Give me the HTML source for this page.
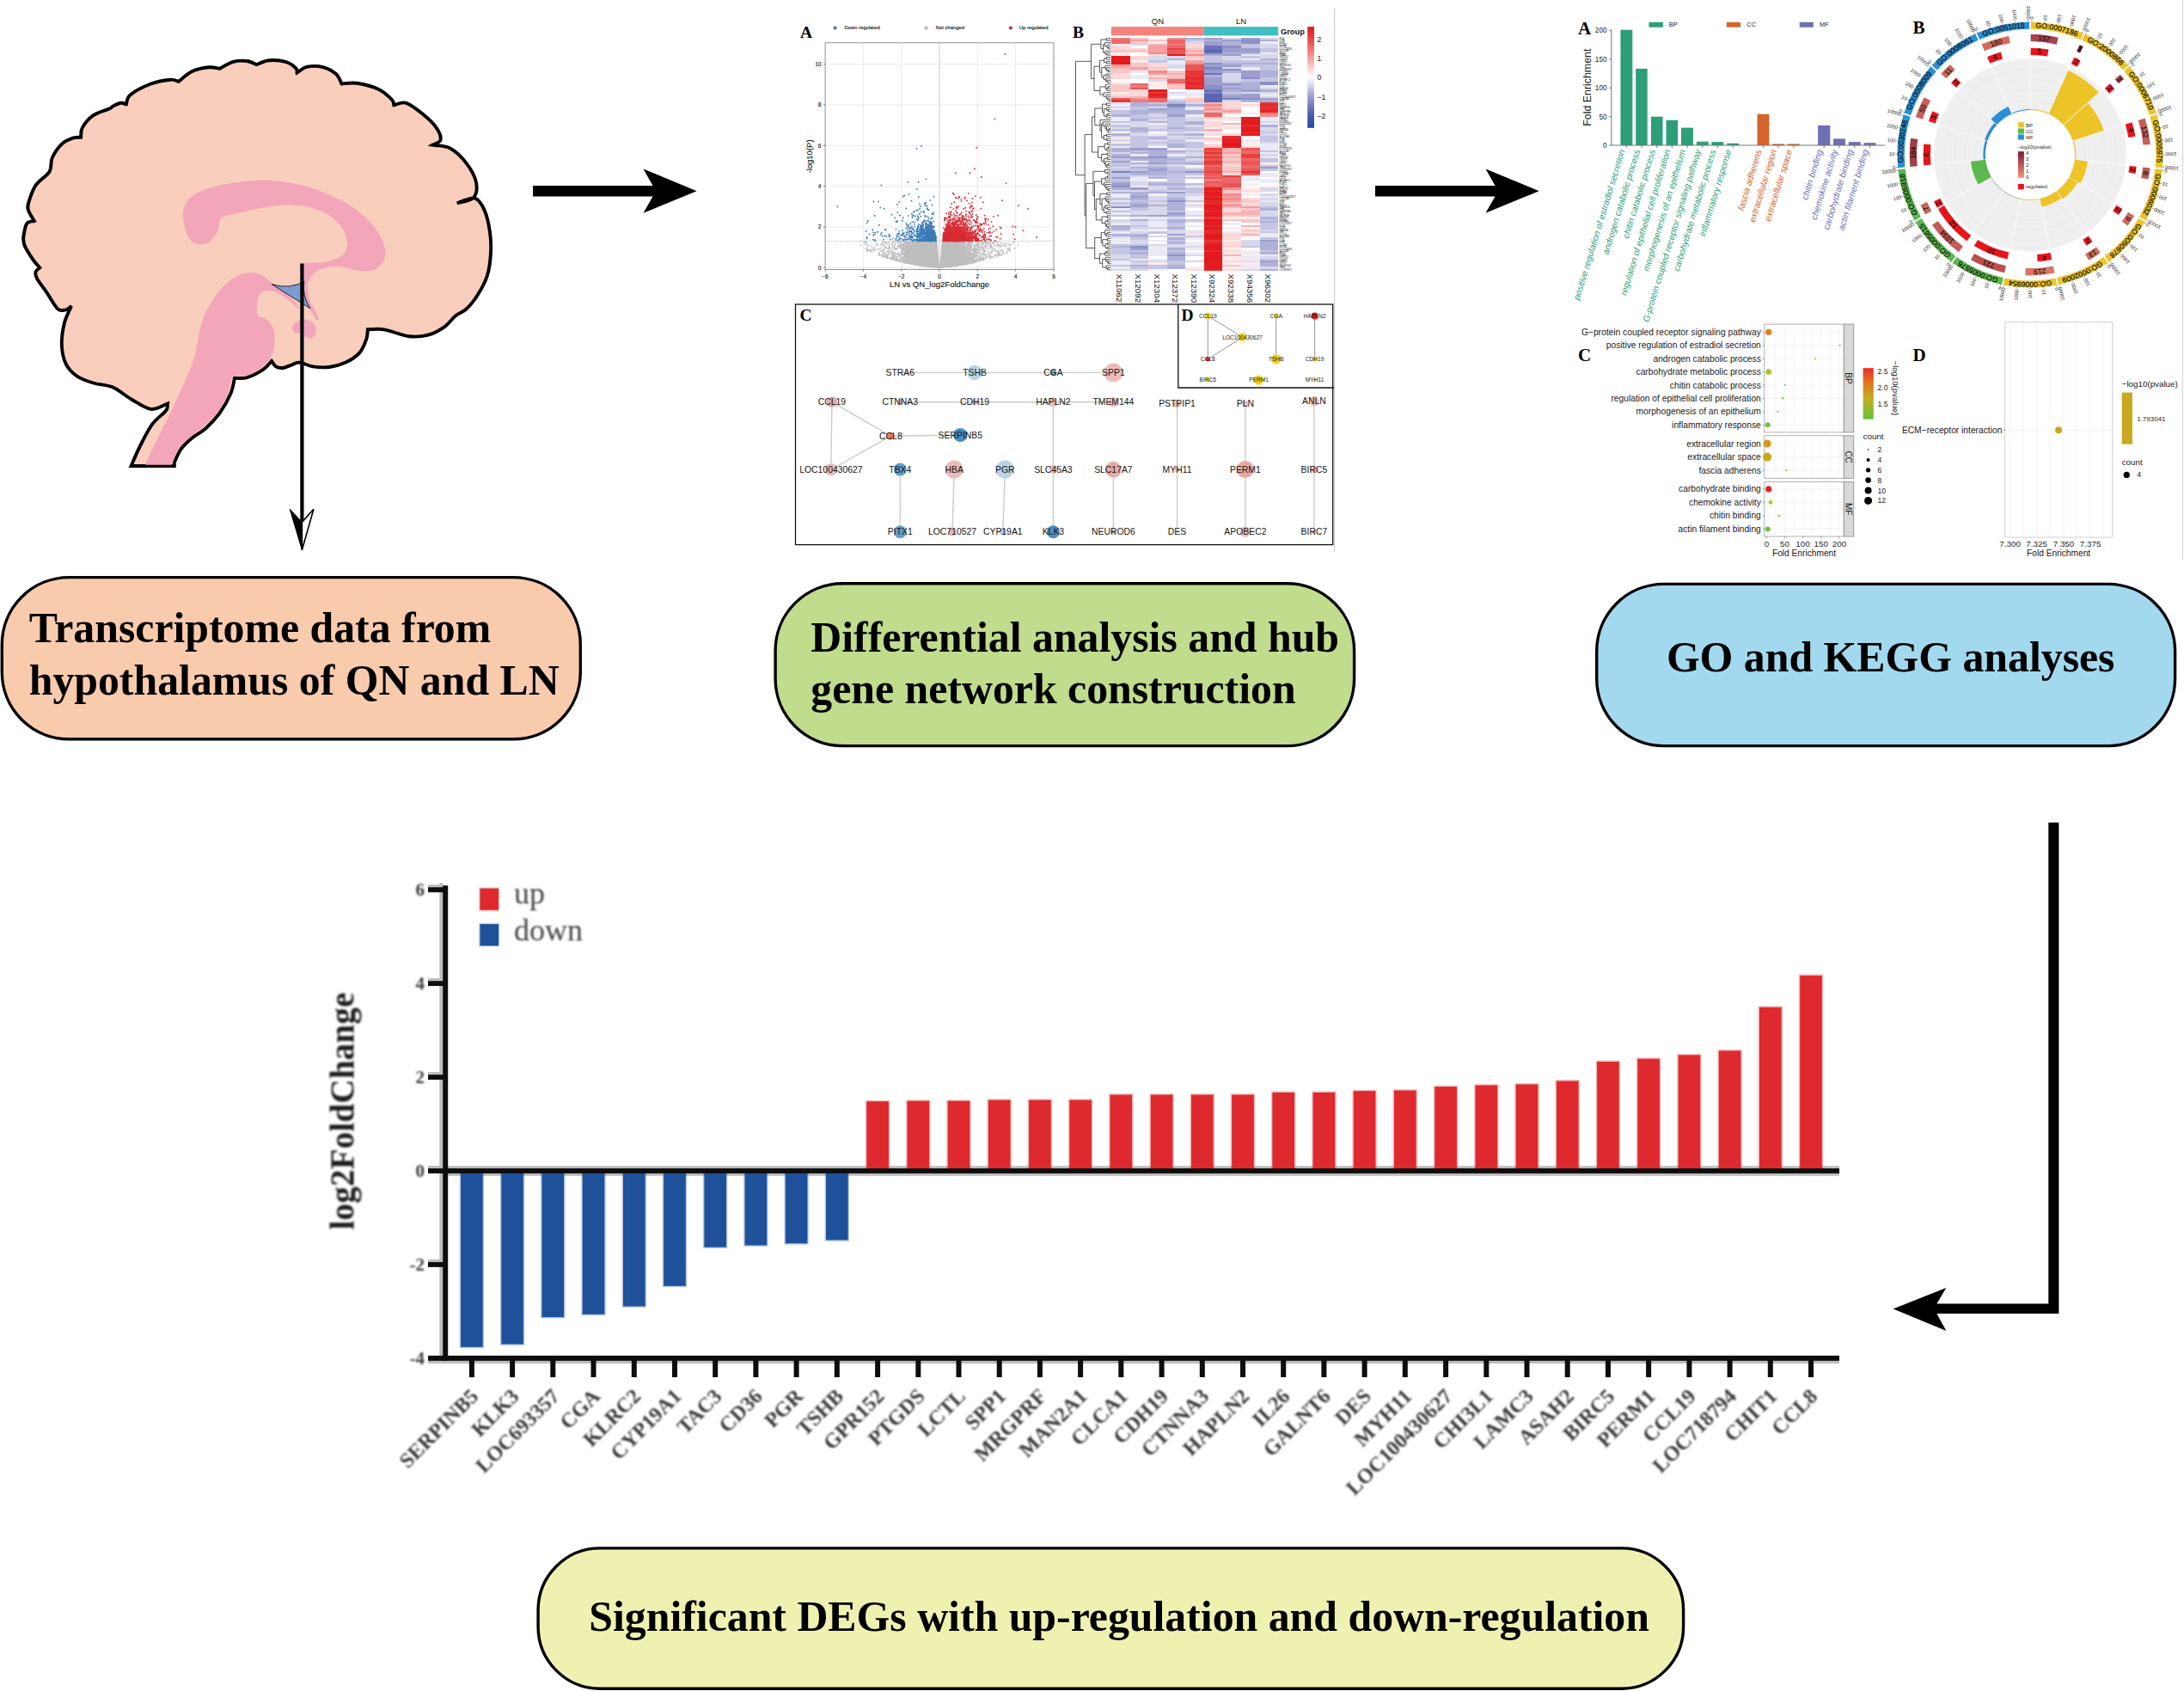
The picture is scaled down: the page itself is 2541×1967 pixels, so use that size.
<!DOCTYPE html>
<html><head><meta charset="utf-8"><title>Graphical abstract</title>
<style>html,body{margin:0;padding:0;background:#fff}body{width:2541px;height:1967px;overflow:hidden}svg{display:block}</style>
</head><body>
<svg width="2541" height="1967" viewBox="0 0 2541 1967">
<rect width="2541" height="1967" fill="#fff"/>
<rect x="2.3" y="671.6" width="673.0" height="188.2" rx="78" ry="78" fill="#f9cbad" stroke="#000" stroke-width="3.4"/>
<rect x="902.1" y="678.8" width="673.5" height="188.8" rx="78" ry="78" fill="#c0dc8c" stroke="#000" stroke-width="3.4"/>
<rect x="1857.7" y="679.4" width="672.9" height="188.2" rx="78" ry="78" fill="#a2d9ef" stroke="#000" stroke-width="3.4"/>
<rect x="626.1" y="1800.9" width="1332.5" height="163.3" rx="72" ry="72" fill="#eff1b1" stroke="#000" stroke-width="3.4"/>
<g font-family="'Liberation Serif',serif" font-weight="bold" font-size="49.8" fill="#000">
<text x="33.7" y="747.1">Transcriptome data from</text>
<text x="33.7" y="807.7">hypothalamus of QN and LN</text>
<text x="943.3" y="757.9">Differential analysis and hub</text>
<text x="943.3" y="817.6">gene network construction</text>
<text x="1938.9" y="781.3">GO and KEGG analyses</text>
<text x="685.3" y="1897.3">Significant DEGs with up-regulation and down-regulation</text>
</g>
<path d="M620,216H759.5L748.5,196.4L810.6,222.2L748.5,247.8L759.5,228.4H620Z" fill="#000"/>
<path d="M1600,216H1739.5L1728.5,196.4L1790.6,222.2L1728.5,247.8L1739.5,228.4H1600Z" fill="#000"/>
<path d="M2383.3,956.8H2395.4V1528H2253.4L2264.3,1548L2202.7,1522.5L2264.3,1498L2253.4,1516.5H2383.3Z" fill="#000"/>
<path d="M27.1,276.3C27.8,273.6 28.8,263.5 31.0,260.3C33.1,257.1 38.4,257.7 39.9,257.1C38.7,255.0 34.0,248.1 32.9,244.4C31.8,240.6 32.1,239.6 33.5,234.8C35.0,230.0 37.5,221.5 41.5,215.6C45.5,209.8 54.3,205.0 57.5,199.7C60.7,194.3 58.3,189.0 60.7,183.7C63.1,178.4 67.9,171.6 71.8,167.7C75.8,163.9 80.9,162.0 84.6,160.7C88.3,159.4 92.6,159.9 94.2,159.7C94.5,157.9 93.4,152.8 95.8,148.6C98.2,144.3 103.2,137.9 108.6,134.2C113.9,130.5 124.0,128.0 127.7,126.2C131.5,124.5 130.4,124.1 130.9,123.7C132.5,123.0 137.8,120.2 140.5,119.8C143.2,119.5 145.8,121.2 146.9,121.4C147.7,119.6 146.9,114.2 151.7,110.2C156.5,106.3 167.9,100.4 175.6,97.5C183.3,94.5 192.7,93.1 198.0,92.7C203.3,92.3 206.0,94.5 207.6,94.9C210.2,93.0 217.7,85.9 223.5,83.1C229.4,80.3 237.4,78.9 242.7,78.3C248.0,77.8 253.3,79.6 255.5,79.9C258.1,78.6 266.1,73.4 271.4,71.9C276.7,70.4 282.9,70.4 287.4,71.0C291.9,71.5 296.7,74.4 298.6,75.1C301.0,74.3 307.3,70.9 312.9,70.3C318.5,69.8 326.9,70.4 332.1,71.9C337.3,73.4 342.0,77.1 344.2,79.3C346.5,81.4 345.3,83.8 345.5,84.7C347.5,83.5 352.4,78.7 357.6,77.7C362.8,76.6 371.2,76.9 376.8,78.3C382.4,79.8 387.7,83.1 391.2,86.3C394.6,89.5 396.5,95.6 397.5,97.5C400.5,97.4 407.9,95.8 415.1,96.8C422.3,97.9 433.8,100.7 440.7,103.9C447.5,107.1 453.1,112.9 456.0,116.0C458.9,119.1 457.8,121.3 458.2,122.4C460.6,122.0 467.0,118.1 472.6,119.8C478.2,121.5 485.9,127.8 491.7,132.6C497.6,137.4 504.3,143.5 507.7,148.6C511.2,153.6 513.3,159.6 512.5,162.9C511.7,166.3 504.5,167.7 502.9,168.7C506.4,169.3 517.0,169.0 523.7,172.5C530.3,176.1 537.8,183.4 542.8,190.1C547.9,196.7 552.7,205.8 554.0,212.4C555.3,219.1 554.5,226.0 550.8,230.0C547.1,234.0 534.9,235.3 531.7,236.4C535.1,235.4 547.1,229.3 552.4,230.6C557.7,232.0 560.7,237.8 563.6,244.4C566.5,250.9 568.8,261.4 570.0,269.9C571.2,278.4 571.5,286.9 570.9,295.5C570.4,304.0 569.3,313.0 566.8,321.0C564.2,329.0 559.6,337.0 555.6,343.3C551.6,349.7 547.1,355.3 542.8,359.3C538.6,363.3 534.3,363.8 530.1,367.3C525.8,370.8 522.6,376.3 517.3,380.1C512.0,383.8 505.1,387.8 498.1,389.7C491.2,391.5 484.3,392.3 475.8,391.2C467.3,390.2 455.0,384.6 447.0,383.3C439.1,381.9 431.1,383.3 427.9,383.3C427.6,385.1 427.9,389.9 426.3,394.4C424.7,399.0 422.3,405.9 418.3,410.4C414.3,414.9 408.2,418.8 402.3,421.6C396.5,424.3 389.6,426.2 383.2,427.0C376.8,427.8 369.9,427.3 364.0,426.4C358.2,425.5 352.3,421.8 348.1,421.6C343.8,421.3 341.7,423.7 338.5,424.8C335.3,425.8 331.8,427.7 328.9,428.0C326.0,428.2 323.0,427.7 320.9,426.4C318.8,425.0 316.9,421.0 316.1,420.0C314.5,421.6 311.3,426.4 306.5,429.6C301.8,432.8 293.0,437.4 287.4,439.1C281.8,440.8 275.4,439.7 273.0,439.8C272.2,442.9 271.2,451.5 268.2,458.3C265.3,465.1 260.2,474.0 255.5,480.7C250.7,487.3 244.8,493.4 239.5,498.2C234.2,503.0 228.3,505.4 223.5,509.4C218.7,513.4 214.2,517.4 210.7,522.2C207.3,527.0 204.1,535.5 202.8,538.1L202.8,542.0L152.6,542.0C154.3,538.1 158.8,527.1 162.9,519.0C166.9,510.9 172.2,500.3 177.2,493.4C182.3,486.5 190.3,481.5 193.2,477.5C196.1,473.5 194.5,470.8 194.8,469.5C191.6,470.5 182.5,476.7 175.6,475.9C168.7,475.1 160.7,468.9 153.3,464.7C145.8,460.4 138.4,453.5 130.9,450.3C123.5,447.1 115.5,447.7 108.6,445.5C101.6,443.4 94.7,441.3 89.4,437.5C84.1,433.8 79.6,429.3 76.6,423.2C73.7,417.1 72.1,408.8 71.8,400.8C71.6,392.8 73.2,382.7 75.0,375.3C76.9,367.8 81.7,359.3 83.0,356.1C82.0,356.8 79.3,359.7 76.6,360.3C74.0,360.8 70.8,362.7 67.1,359.3C63.3,356.0 58.3,346.0 54.3,340.2C50.3,334.3 45.2,328.2 43.1,324.2C41.0,320.2 41.0,318.3 41.5,316.2C42.0,314.1 45.5,312.2 46.3,311.4C45.0,309.8 41.2,306.1 38.3,301.8C35.4,297.6 30.6,290.1 28.7,285.9C26.9,281.6 27.4,277.9 27.1,276.3Z" fill="#facebc" stroke="#000" stroke-width="3.9" stroke-linejoin="miter" stroke-miterlimit="3"/>
<path d="M213.3,244.4C214.6,238.0 217.6,232.9 223.5,228.4C229.5,223.9 238.4,220.1 249.1,217.2C259.7,214.3 275.7,212.0 287.4,210.8C299.1,209.7 308.7,209.4 319.3,210.2C330.0,211.0 340.6,212.9 351.2,215.6C361.9,218.4 372.5,222.0 383.2,226.8C393.8,231.6 406.1,237.7 415.1,244.4C424.2,251.0 432.0,259.3 437.5,266.7C442.9,274.2 446.7,282.7 448.0,289.1C449.3,295.5 447.7,300.9 445.4,305.0C443.2,309.2 439.3,312.4 434.3,314.0C429.2,315.6 422.0,315.3 415.1,314.6C408.2,313.9 399.7,310.1 392.8,309.8C385.8,309.6 378.7,311.2 373.6,313.0C368.5,314.9 365.1,317.5 362.4,321.0C359.8,324.5 357.9,329.0 357.6,333.8C357.4,338.6 358.7,343.9 360.8,349.7C363.0,355.6 369.3,365.4 370.4,368.9C371.5,372.4 369.9,374.0 367.2,370.5C364.6,367.0 357.2,355.3 354.4,348.1C351.7,341.0 351.1,334.1 350.6,327.4C350.1,320.6 346.9,311.3 351.2,307.6C355.6,303.9 369.3,306.5 376.8,305.0C384.2,303.5 391.4,301.8 396.0,298.6C400.5,295.5 403.4,291.2 403.9,285.9C404.5,280.6 402.6,272.6 399.1,266.7C395.7,260.9 389.6,255.0 383.2,250.7C376.8,246.5 369.3,243.2 360.8,241.2C352.3,239.1 342.2,238.3 332.1,238.6C322.0,238.9 310.3,241.0 300.2,242.8C290.0,244.5 278.6,247.3 271.4,249.2C264.2,251.0 260.0,251.0 257.0,253.9C254.1,256.9 255.7,262.5 253.9,266.7C252.0,271.0 249.1,276.6 245.9,279.5C242.7,282.4 238.4,284.0 234.7,284.3C231.0,284.5 226.7,284.0 223.5,281.1C220.3,278.2 217.2,272.8 215.5,266.7C213.8,260.6 212.0,250.7 213.3,244.4Z" fill="#f3a5ba"/>
<path d="M169.2,540.7C170.8,537.1 174.0,529.0 178.8,519.0C183.6,509.0 191.6,494.0 198.0,480.7C204.4,467.4 212.3,450.3 217.1,439.1C221.9,428.0 223.8,424.2 226.7,413.6C229.6,403.0 231.0,386.5 234.7,375.3C238.4,364.1 243.5,354.8 249.1,346.5C254.7,338.3 261.8,330.7 268.2,325.8C274.6,320.9 281.5,318.2 287.4,317.2C293.2,316.1 298.6,317.4 303.3,319.4C308.1,321.4 311.3,325.5 316.1,329.0C320.9,332.4 327.6,336.4 332.1,340.2C336.6,343.9 340.6,348.1 343.3,351.3C345.9,354.5 348.9,359.3 348.1,359.3C347.3,359.3 342.7,354.5 338.5,351.3C334.2,348.1 327.6,342.3 322.5,340.2C317.5,338.0 311.8,337.8 308.1,338.6C304.5,339.4 302.2,340.4 300.8,344.9C299.4,349.5 297.8,361.2 299.5,365.7C301.3,370.2 308.1,368.9 311.3,372.1C314.5,375.3 317.3,380.1 318.7,384.9C320.0,389.7 320.0,395.5 319.3,400.8C318.6,406.1 317.2,412.3 314.5,416.8C311.9,421.3 307.9,424.6 303.3,428.0C298.8,431.3 292.8,435.2 287.4,436.9C282.0,438.7 274.5,434.9 270.8,438.5C267.1,442.1 268.1,451.3 265.0,458.3C261.9,465.3 257.0,474.3 252.3,480.7C247.5,487.0 241.6,491.8 236.3,496.6C231.0,501.4 225.1,505.1 220.3,509.4C215.5,513.7 211.0,517.0 207.6,522.2C204.1,527.4 200.9,537.6 199.6,540.7Z" fill="#f3a5ba"/>
<path d="M340.1,380.1C340.9,377.9 343.5,375.0 346.5,373.7C349.4,372.4 354.3,371.3 357.6,372.1C361.0,372.9 365.0,375.8 366.6,378.5C368.2,381.1 368.2,385.5 367.2,388.1C366.3,390.6 364.0,393.8 360.8,393.8C357.6,393.8 351.2,389.3 348.1,388.1C344.9,386.8 343.0,387.8 341.7,386.5C340.3,385.1 339.3,382.2 340.1,380.1Z" fill="#f3a5ba"/>
<path d="M316.1,330.6Q336.9,337.0 353.8,327.4Q351.2,343.3 360.8,358.7Q338.5,344.9 316.1,330.6Z" fill="#7b9bd3" stroke="#000" stroke-width="0.8"/>
<rect x="349.3" y="306.5" width="4.2" height="303.5" fill="#000"/>
<path d="M351.4,607.4L364.9,592.2L351.4,639.7Z" fill="#fff" stroke="#000" stroke-width="1.6" stroke-linejoin="miter"/>
<path d="M351.4,607.4L337.2,592.2L351.4,639.7Z" fill="#000" stroke="#000" stroke-width="1"/>
<g fill="#bcbcbc">
<rect x="511.3" y="1027" width="4" height="556"/>
<rect x="498" y="1582.9" width="1642" height="3.2"/>
<rect x="521" y="1356.2" width="1619" height="11.6"/>
<rect x="498" y="1029.0" width="17.3" height="3.4"/>
<rect x="498" y="1138.0" width="17.3" height="3.4"/>
<rect x="498" y="1247.0" width="17.3" height="3.4"/>
<rect x="498" y="1356.0" width="17.3" height="3.4"/>
<rect x="498" y="1465.0" width="17.3" height="3.4"/>
</g>
<rect x="536.1" y="1362.0" width="25.6" height="204.8" fill="#1f519b" stroke="#1f519b" stroke-opacity=".33" stroke-width="2.8"/>
<rect x="583.3" y="1362.0" width="25.6" height="201.5" fill="#1f519b" stroke="#1f519b" stroke-opacity=".33" stroke-width="2.8"/>
<rect x="630.5" y="1362.0" width="25.6" height="170.1" fill="#1f519b" stroke="#1f519b" stroke-opacity=".33" stroke-width="2.8"/>
<rect x="677.7" y="1362.0" width="25.6" height="166.8" fill="#1f519b" stroke="#1f519b" stroke-opacity=".33" stroke-width="2.8"/>
<rect x="725.0" y="1362.0" width="25.6" height="157.5" fill="#1f519b" stroke="#1f519b" stroke-opacity=".33" stroke-width="2.8"/>
<rect x="772.2" y="1362.0" width="25.6" height="133.8" fill="#1f519b" stroke="#1f519b" stroke-opacity=".33" stroke-width="2.8"/>
<rect x="819.4" y="1362.0" width="25.6" height="88.7" fill="#1f519b" stroke="#1f519b" stroke-opacity=".33" stroke-width="2.8"/>
<rect x="866.6" y="1362.0" width="25.6" height="86.5" fill="#1f519b" stroke="#1f519b" stroke-opacity=".33" stroke-width="2.8"/>
<rect x="913.8" y="1362.0" width="25.6" height="84.3" fill="#1f519b" stroke="#1f519b" stroke-opacity=".33" stroke-width="2.8"/>
<rect x="961.0" y="1362.0" width="25.6" height="80.4" fill="#1f519b" stroke="#1f519b" stroke-opacity=".33" stroke-width="2.8"/>
<rect x="1008.3" y="1281.2" width="25.6" height="80.8" fill="#de2a2e" stroke="#de2a2e" stroke-opacity=".33" stroke-width="2.8"/>
<rect x="1055.5" y="1280.7" width="25.6" height="81.3" fill="#de2a2e" stroke="#de2a2e" stroke-opacity=".33" stroke-width="2.8"/>
<rect x="1102.7" y="1280.7" width="25.6" height="81.3" fill="#de2a2e" stroke="#de2a2e" stroke-opacity=".33" stroke-width="2.8"/>
<rect x="1149.9" y="1279.6" width="25.6" height="82.4" fill="#de2a2e" stroke="#de2a2e" stroke-opacity=".33" stroke-width="2.8"/>
<rect x="1197.1" y="1279.6" width="25.6" height="82.4" fill="#de2a2e" stroke="#de2a2e" stroke-opacity=".33" stroke-width="2.8"/>
<rect x="1244.3" y="1279.6" width="25.6" height="82.4" fill="#de2a2e" stroke="#de2a2e" stroke-opacity=".33" stroke-width="2.8"/>
<rect x="1291.5" y="1273.5" width="25.6" height="88.5" fill="#de2a2e" stroke="#de2a2e" stroke-opacity=".33" stroke-width="2.8"/>
<rect x="1338.8" y="1273.5" width="25.6" height="88.5" fill="#de2a2e" stroke="#de2a2e" stroke-opacity=".33" stroke-width="2.8"/>
<rect x="1386.0" y="1273.5" width="25.6" height="88.5" fill="#de2a2e" stroke="#de2a2e" stroke-opacity=".33" stroke-width="2.8"/>
<rect x="1433.2" y="1273.5" width="25.6" height="88.5" fill="#de2a2e" stroke="#de2a2e" stroke-opacity=".33" stroke-width="2.8"/>
<rect x="1480.4" y="1270.8" width="25.6" height="91.2" fill="#de2a2e" stroke="#de2a2e" stroke-opacity=".33" stroke-width="2.8"/>
<rect x="1527.6" y="1270.8" width="25.6" height="91.2" fill="#de2a2e" stroke="#de2a2e" stroke-opacity=".33" stroke-width="2.8"/>
<rect x="1574.8" y="1269.1" width="25.6" height="92.9" fill="#de2a2e" stroke="#de2a2e" stroke-opacity=".33" stroke-width="2.8"/>
<rect x="1622.0" y="1268.5" width="25.6" height="93.5" fill="#de2a2e" stroke="#de2a2e" stroke-opacity=".33" stroke-width="2.8"/>
<rect x="1669.3" y="1264.1" width="25.6" height="97.9" fill="#de2a2e" stroke="#de2a2e" stroke-opacity=".33" stroke-width="2.8"/>
<rect x="1716.5" y="1262.5" width="25.6" height="99.5" fill="#de2a2e" stroke="#de2a2e" stroke-opacity=".33" stroke-width="2.8"/>
<rect x="1763.7" y="1261.4" width="25.6" height="100.6" fill="#de2a2e" stroke="#de2a2e" stroke-opacity=".33" stroke-width="2.8"/>
<rect x="1810.9" y="1257.5" width="25.6" height="104.5" fill="#de2a2e" stroke="#de2a2e" stroke-opacity=".33" stroke-width="2.8"/>
<rect x="1858.1" y="1235.0" width="25.6" height="127.0" fill="#de2a2e" stroke="#de2a2e" stroke-opacity=".33" stroke-width="2.8"/>
<rect x="1905.3" y="1231.7" width="25.6" height="130.3" fill="#de2a2e" stroke="#de2a2e" stroke-opacity=".33" stroke-width="2.8"/>
<rect x="1952.6" y="1227.3" width="25.6" height="134.7" fill="#de2a2e" stroke="#de2a2e" stroke-opacity=".33" stroke-width="2.8"/>
<rect x="1999.8" y="1222.3" width="25.6" height="139.7" fill="#de2a2e" stroke="#de2a2e" stroke-opacity=".33" stroke-width="2.8"/>
<rect x="2047.0" y="1171.7" width="25.6" height="190.3" fill="#de2a2e" stroke="#de2a2e" stroke-opacity=".33" stroke-width="2.8"/>
<rect x="2094.2" y="1134.8" width="25.6" height="227.2" fill="#de2a2e" stroke="#de2a2e" stroke-opacity=".33" stroke-width="2.8"/>
<g fill="#0d0d0d">
<rect x="515.2" y="1030" width="6" height="553"/>
<rect x="498" y="1576.9" width="1642" height="6"/>
<rect x="498" y="1359.1" width="1642" height="5.8"/>
<rect x="498" y="1032.1" width="20" height="5.8"/>
<rect x="498" y="1141.1" width="20" height="5.8"/>
<rect x="498" y="1250.1" width="20" height="5.8"/>
<rect x="498" y="1468.1" width="20" height="5.8"/>
<rect x="545.9" y="1582" width="6" height="20"/>
<rect x="593.1" y="1582" width="6" height="20"/>
<rect x="640.3" y="1582" width="6" height="20"/>
<rect x="687.5" y="1582" width="6" height="20"/>
<rect x="734.8" y="1582" width="6" height="20"/>
<rect x="782.0" y="1582" width="6" height="20"/>
<rect x="829.2" y="1582" width="6" height="20"/>
<rect x="876.4" y="1582" width="6" height="20"/>
<rect x="923.6" y="1582" width="6" height="20"/>
<rect x="970.8" y="1582" width="6" height="20"/>
<rect x="1018.1" y="1582" width="6" height="20"/>
<rect x="1065.3" y="1582" width="6" height="20"/>
<rect x="1112.5" y="1582" width="6" height="20"/>
<rect x="1159.7" y="1582" width="6" height="20"/>
<rect x="1206.9" y="1582" width="6" height="20"/>
<rect x="1254.1" y="1582" width="6" height="20"/>
<rect x="1301.3" y="1582" width="6" height="20"/>
<rect x="1348.6" y="1582" width="6" height="20"/>
<rect x="1395.8" y="1582" width="6" height="20"/>
<rect x="1443.0" y="1582" width="6" height="20"/>
<rect x="1490.2" y="1582" width="6" height="20"/>
<rect x="1537.4" y="1582" width="6" height="20"/>
<rect x="1584.6" y="1582" width="6" height="20"/>
<rect x="1631.8" y="1582" width="6" height="20"/>
<rect x="1679.1" y="1582" width="6" height="20"/>
<rect x="1726.3" y="1582" width="6" height="20"/>
<rect x="1773.5" y="1582" width="6" height="20"/>
<rect x="1820.7" y="1582" width="6" height="20"/>
<rect x="1867.9" y="1582" width="6" height="20"/>
<rect x="1915.1" y="1582" width="6" height="20"/>
<rect x="1962.4" y="1582" width="6" height="20"/>
<rect x="2009.6" y="1582" width="6" height="20"/>
<rect x="2056.8" y="1582" width="6" height="20"/>
<rect x="2104.0" y="1582" width="6" height="20"/>
</g>
<defs><filter id="bl" filterUnits="userSpaceOnUse" x="380" y="1000" width="1800" height="780"><feGaussianBlur stdDeviation="1"/></filter></defs>
<g font-family="'Liberation Serif',serif" font-weight="bold" fill="#3a3a3a" filter="url(#bl)">
<text x="494" y="1041.5" font-size="21" text-anchor="end">6</text>
<text x="494" y="1150.5" font-size="21" text-anchor="end">4</text>
<text x="494" y="1259.5" font-size="21" text-anchor="end">2</text>
<text x="494" y="1368.5" font-size="21" text-anchor="end">0</text>
<text x="494" y="1477.5" font-size="21" text-anchor="end">-2</text>
<text x="494" y="1586.5" font-size="21" text-anchor="end">-4</text>
<text transform="translate(411.5,1292.5) rotate(-90)" font-size="39" fill="#1c1c1c" text-anchor="middle" textLength="276" lengthAdjust="spacing">log2FoldChange</text>
<text transform="translate(557.9,1625.5) rotate(-45)" font-size="24.4" text-anchor="end">SERPINB5</text>
<text transform="translate(605.1,1625.5) rotate(-45)" font-size="24.4" text-anchor="end">KLK3</text>
<text transform="translate(652.3,1625.5) rotate(-45)" font-size="24.4" text-anchor="end">LOC693357</text>
<text transform="translate(699.5,1625.5) rotate(-45)" font-size="24.4" text-anchor="end">CGA</text>
<text transform="translate(746.8,1625.5) rotate(-45)" font-size="24.4" text-anchor="end">KLRC2</text>
<text transform="translate(794.0,1625.5) rotate(-45)" font-size="24.4" text-anchor="end">CYP19A1</text>
<text transform="translate(841.2,1625.5) rotate(-45)" font-size="24.4" text-anchor="end">TAC3</text>
<text transform="translate(888.4,1625.5) rotate(-45)" font-size="24.4" text-anchor="end">CD36</text>
<text transform="translate(935.6,1625.5) rotate(-45)" font-size="24.4" text-anchor="end">PGR</text>
<text transform="translate(982.8,1625.5) rotate(-45)" font-size="24.4" text-anchor="end">TSHB</text>
<text transform="translate(1030.1,1625.5) rotate(-45)" font-size="24.4" text-anchor="end">GPR152</text>
<text transform="translate(1077.3,1625.5) rotate(-45)" font-size="24.4" text-anchor="end">PTGDS</text>
<text transform="translate(1124.5,1625.5) rotate(-45)" font-size="24.4" text-anchor="end">LCTL</text>
<text transform="translate(1171.7,1625.5) rotate(-45)" font-size="24.4" text-anchor="end">SPP1</text>
<text transform="translate(1218.9,1625.5) rotate(-45)" font-size="24.4" text-anchor="end">MRGPRF</text>
<text transform="translate(1266.1,1625.5) rotate(-45)" font-size="24.4" text-anchor="end">MAN2A1</text>
<text transform="translate(1313.3,1625.5) rotate(-45)" font-size="24.4" text-anchor="end">CLCA1</text>
<text transform="translate(1360.6,1625.5) rotate(-45)" font-size="24.4" text-anchor="end">CDH19</text>
<text transform="translate(1407.8,1625.5) rotate(-45)" font-size="24.4" text-anchor="end">CTNNA3</text>
<text transform="translate(1455.0,1625.5) rotate(-45)" font-size="24.4" text-anchor="end">HAPLN2</text>
<text transform="translate(1502.2,1625.5) rotate(-45)" font-size="24.4" text-anchor="end">IL26</text>
<text transform="translate(1549.4,1625.5) rotate(-45)" font-size="24.4" text-anchor="end">GALNT6</text>
<text transform="translate(1596.6,1625.5) rotate(-45)" font-size="24.4" text-anchor="end">DES</text>
<text transform="translate(1643.8,1625.5) rotate(-45)" font-size="24.4" text-anchor="end">MYH11</text>
<text transform="translate(1691.1,1625.5) rotate(-45)" font-size="24.4" text-anchor="end">LOC100430627</text>
<text transform="translate(1738.3,1625.5) rotate(-45)" font-size="24.4" text-anchor="end">CHI3L1</text>
<text transform="translate(1785.5,1625.5) rotate(-45)" font-size="24.4" text-anchor="end">LAMC3</text>
<text transform="translate(1832.7,1625.5) rotate(-45)" font-size="24.4" text-anchor="end">ASAH2</text>
<text transform="translate(1879.9,1625.5) rotate(-45)" font-size="24.4" text-anchor="end">BIRC5</text>
<text transform="translate(1927.1,1625.5) rotate(-45)" font-size="24.4" text-anchor="end">PERM1</text>
<text transform="translate(1974.4,1625.5) rotate(-45)" font-size="24.4" text-anchor="end">CCL19</text>
<text transform="translate(2021.6,1625.5) rotate(-45)" font-size="24.4" text-anchor="end">LOC718794</text>
<text transform="translate(2068.8,1625.5) rotate(-45)" font-size="24.4" text-anchor="end">CHIT1</text>
<text transform="translate(2116.0,1625.5) rotate(-45)" font-size="24.4" text-anchor="end">CCL8</text>
</g>
<rect x="558.5" y="1033.5" width="21.5" height="25" fill="#de2a2e" stroke="#de2a2e" stroke-opacity=".3" stroke-width="2.6"/>
<rect x="558.5" y="1075" width="21.5" height="25" fill="#1f519b" stroke="#1f519b" stroke-opacity=".3" stroke-width="2.6"/>
<g font-family="'Liberation Serif',serif" font-size="36" fill="#444" filter="url(#bl)"><text x="598" y="1051">up</text><text x="598" y="1093.5">down</text></g>
<g font-family="'Liberation Sans',sans-serif" fill="#111" stroke="#111" stroke-width=".12">
<path d="M1004.4,49.8V313.5M1048.7,49.8V313.5M1093.0,49.8V313.5M1137.3,49.8V313.5M1181.6,49.8V313.5M960.1,311.3H1226.0M960.1,264.0H1226.0M960.1,216.7H1226.0M960.1,169.3H1226.0M960.1,122.0H1226.0M960.1,74.7H1226.0" stroke="#e3e3e3" stroke-width=".7" fill="none"/>
<path d="M1093.0,49.8V313.5M960.1,280.5H1226.0" stroke="#b5b5b5" stroke-width=".8" stroke-dasharray="1.6 1.2" fill="none"/>
<path d="M1054.2,281.3L1089.5,281.3L1089.8,282.9L1090.2,287.6L1090.7,292.4L1091.1,297.1L1091.6,301.8L1092.0,306.6L1092.4,311.3L1090.8,310.4L1086.4,310.1L1081.9,309.6L1077.5,309.1L1073.1,308.5L1068.6,307.9L1064.2,307.1L1059.8,306.3L1055.3,305.4L1054.2,305.0ZM1121.8,281.3L1097.2,281.3L1096.7,282.9L1096.2,287.6L1095.8,292.4L1095.3,297.1L1094.9,301.8L1094.4,306.6L1094.0,311.3L1095.2,310.4L1099.6,310.1L1104.1,309.6L1108.5,309.1L1112.9,308.5L1117.4,307.9L1121.8,307.1L1121.8,306.9Z" fill="#bebebe" stroke="#bebebe" stroke-width="1.6" stroke-linejoin="round"/>
<path d="M1089.2,279.6L1075.7,279.6L1077.9,271.6L1082.4,266.8L1087.0,268.7Z" fill="#3a7bb7" stroke="#3a7bb7" stroke-width="1.6" stroke-linejoin="round"/>
<path d="M1098.3,279.6L1123.6,279.6L1122.3,271.1L1116.3,264.5L1106.7,264.0L1101.0,266.8Z" fill="#d82b32" stroke="#d82b32" stroke-width="1.6" stroke-linejoin="round"/>
<path d="M1057.9,294.3h0M1123.6,286.1h0M1123.3,286.9h0M1054.2,292.7h0M1104.0,289.4h0M1147.0,296.9h0M1123.9,293.6h0M1092.0,311.2h0M1069.7,298.6h0M1021.4,285.2h0M1088.6,283.6h0M1053.9,288.1h0M1040.7,281.2h0M1130.0,293.4h0M1095.7,288.9h0M1131.9,290.4h0M1066.0,297.3h0M1120.8,285.5h0M1078.9,309.4h0M1123.6,294.8h0M1052.1,304.3h0M1136.5,291.0h0M1123.1,283.2h0M1110.4,309.6h0M1127.1,298.9h0M1103.7,295.3h0M1123.3,298.8h0M1072.5,309.2h0M1050.5,286.7h0M1088.8,310.5h0M1086.4,292.1h0M1125.3,304.2h0M1144.4,295.1h0M1125.8,301.8h0M1153.4,285.9h0M1005.2,282.2h0M1078.4,280.6h0M1108.1,309.7h0M1029.6,281.7h0M1122.2,293.9h0M1085.6,304.1h0M1101.8,309.9h0M1100.1,302.5h0M1125.7,307.0h0M1130.8,300.4h0M1063.9,285.3h0M1102.4,294.9h0M1128.6,300.5h0M1039.3,300.0h0M1024.1,292.1h0M1091.6,311.1h0M1124.2,296.1h0M1065.9,293.8h0M1097.7,280.6h0M1130.5,305.9h0M1089.9,307.3h0M1128.3,282.7h0M1094.7,301.9h0M1132.9,297.6h0M1104.3,309.6h0M1040.7,286.9h0M1173.0,284.2h0M1127.0,281.7h0M1072.2,286.5h0M1080.2,309.7h0M1111.6,283.1h0M1041.3,301.6h0M1123.0,306.5h0M1171.1,292.9h0M1050.3,304.5h0M1043.4,300.3h0M1074.6,307.9h0M1087.3,280.9h0M1033.7,295.4h0M1063.8,307.7h0M1078.1,309.9h0M1105.3,309.0h0M1127.1,306.5h0M1103.1,310.2h0M1125.6,300.9h0M1096.1,286.2h0M1184.7,285.2h0M1030.6,298.2h0M1106.0,310.1h0M1110.5,309.4h0M1082.2,284.5h0M1121.9,300.9h0M1089.5,304.9h0M1046.0,287.7h0M1124.1,302.9h0M1126.6,304.3h0M1159.8,286.3h0M1049.7,293.0h0M1084.2,310.6h0M1161.4,297.3h0M1124.0,297.7h0M1120.7,308.0h0M1052.3,305.3h0M1046.3,302.3h0M1119.1,291.4h0M1089.6,281.3h0M1142.6,300.1h0M1087.1,310.8h0M1144.3,286.9h0M1137.7,288.6h0M1123.4,303.4h0M1133.7,296.4h0M1064.7,281.2h0M1143.0,284.5h0M1026.3,284.0h0M1116.0,291.0h0M1163.2,293.4h0M1098.5,280.8h0M1126.9,285.3h0M1053.2,294.2h0M1108.7,293.3h0M1084.8,309.0h0M1107.2,305.7h0M1122.4,299.3h0M1059.6,306.8h0M1167.4,293.8h0M1080.5,310.1h0M1165.2,291.2h0M1106.1,309.7h0M1172.3,289.4h0M1109.0,309.2h0M1101.9,310.5h0M1099.4,288.5h0M1112.3,301.7h0M1159.0,292.4h0M1052.7,293.5h0M1075.7,306.9h0M1122.4,302.6h0M1031.9,284.1h0M1038.3,287.4h0M1152.4,300.6h0M1123.5,281.5h0M1009.4,287.8h0M1053.1,291.2h0M1109.3,285.1h0M1132.6,293.9h0M1018.5,290.6h0M1035.1,299.8h0M1012.0,290.3h0M1146.5,299.1h0M1129.0,298.1h0M1130.4,294.9h0M1139.8,284.2h0M1129.2,289.3h0M1060.8,307.1h0M1082.3,310.0h0M1114.1,280.8h0M1035.3,283.1h0M1073.8,309.2h0M1139.3,300.8h0M1084.7,302.4h0M1050.0,301.5h0M1077.9,283.2h0M1036.9,300.4h0M1102.0,281.0h0M1156.5,281.7h0M1042.0,283.2h0M1127.1,284.9h0M1096.5,310.9h0M1041.0,294.0h0M1129.8,286.6h0M1080.1,309.8h0M1093.6,311.2h0M1123.8,296.6h0M1050.6,295.2h0M1153.5,294.2h0M1088.5,311.0h0M1128.1,283.0h0M1050.8,284.2h0M1124.4,294.1h0M1097.9,284.4h0M1103.3,280.8h0M1127.0,286.1h0M1162.9,294.7h0M1051.4,285.7h0M1126.6,302.0h0M1071.5,309.0h0M1037.3,292.9h0M1123.4,291.6h0M1052.6,290.2h0M1138.9,283.2h0M1111.0,280.6h0M1050.8,300.5h0M1051.9,304.8h0M1053.9,284.8h0M1050.4,302.9h0M1052.2,296.8h0M1119.6,308.0h0M1053.7,297.8h0M1135.0,285.7h0M1030.0,298.0h0M1056.6,302.5h0M1129.1,293.8h0M1106.7,309.1h0M1136.9,285.1h0M1102.1,310.4h0M1127.8,285.0h0M1085.7,303.3h0M1049.3,304.6h0M1164.6,291.5h0M1134.9,303.0h0M1145.3,281.9h0M1152.3,284.5h0M1009.8,291.2h0M1112.3,309.3h0M1126.1,293.8h0M1052.2,282.3h0M1053.0,296.8h0M1140.3,299.3h0M1144.0,281.9h0M1054.0,283.1h0M1038.0,292.4h0M1096.4,308.2h0M1122.2,298.0h0M1102.9,310.4h0M1072.6,286.4h0M1122.6,281.1h0M1094.6,304.0h0M1125.3,300.1h0M1161.9,281.4h0M1081.2,310.2h0M1034.5,299.7h0M1071.1,280.8h0M1015.7,289.1h0M1137.8,287.4h0M1054.9,281.2h0M1107.9,294.4h0M1127.4,304.0h0M1084.9,310.4h0M1164.4,296.4h0M1152.2,284.7h0M1083.8,309.9h0M1123.5,282.4h0M1085.6,280.7h0M1136.4,296.9h0M1045.2,295.3h0M1082.3,292.9h0M1137.6,294.1h0M1077.2,309.4h0M1124.5,300.0h0M1048.8,301.4h0M1099.0,293.8h0M1161.5,296.0h0M1130.0,299.0h0M1122.8,307.4h0M1125.1,307.0h0M1123.2,293.3h0M1077.7,286.4h0M1045.0,282.0h0M1107.4,307.7h0M1144.8,281.9h0M1046.5,286.9h0M1132.7,296.5h0M1053.3,305.7h0M1089.5,283.7h0M1115.0,308.3h0M1094.9,298.2h0M1125.5,306.4h0M1122.1,299.3h0M1111.1,296.6h0M1129.7,306.2h0M1124.9,306.8h0M1060.4,305.2h0M1123.5,296.5h0M1156.8,285.4h0M1131.1,283.9h0M1124.2,302.9h0M1078.5,298.1h0M1099.0,286.0h0M1127.3,296.8h0M1147.0,283.6h0M1117.6,283.4h0M1096.6,282.6h0M1146.4,296.4h0M1085.2,296.8h0M1094.6,303.8h0M1083.0,302.4h0M1111.1,309.3h0M1051.7,296.6h0M1039.5,294.9h0M1070.6,308.6h0M1026.2,296.8h0M1095.2,298.5h0M1050.2,299.9h0M1123.7,286.3h0M1050.6,289.4h0M1052.2,304.7h0M1029.7,294.7h0M1085.9,283.0h0M1076.9,281.1h0M1070.7,308.3h0M1007.9,283.1h0M1020.0,282.7h0M1021.1,289.9h0M1132.4,305.7h0M1105.3,291.5h0M1114.0,287.9h0M1140.2,301.6h0M1049.2,290.8h0M1084.8,310.4h0M1073.4,308.7h0M1083.7,310.4h0M1142.8,296.1h0M1122.7,282.0h0M1066.2,307.9h0M1167.4,295.4h0M1043.0,300.3h0M1052.7,303.8h0M1164.7,283.0h0M1124.3,305.4h0M1134.1,294.8h0M1129.5,289.2h0M1053.2,280.8h0M1078.9,309.4h0M1053.6,296.3h0M1145.6,291.7h0M1110.3,283.6h0M1133.5,287.0h0M1084.4,310.2h0M1029.6,288.8h0M1130.0,301.5h0M1046.9,299.0h0M1038.6,297.2h0M1123.2,307.1h0M1053.6,289.1h0M1038.3,298.9h0M1033.2,296.5h0M1113.9,309.0h0M1053.0,283.2h0M1089.5,280.7h0M1130.3,295.8h0M1090.4,311.1h0M1094.5,302.4h0M1136.8,301.8h0M1127.0,283.5h0M1074.8,292.9h0M1041.2,296.3h0M1050.8,302.5h0M1093.7,310.0h0M1124.9,298.3h0M1048.9,294.5h0M1128.1,297.6h0M1100.4,301.0h0M1044.3,294.8h0M1034.0,289.8h0M1126.0,301.4h0M1135.7,291.2h0M1034.4,285.5h0M1154.0,287.6h0M1165.7,296.1h0M1114.6,307.3h0M1044.2,303.3h0M1117.4,308.4h0M1050.7,300.5h0M1126.8,292.9h0M1128.2,306.7h0M1038.2,299.6h0M1130.1,299.0h0M1026.8,282.0h0M1125.5,284.7h0M1040.8,285.2h0M1132.2,302.4h0M1141.4,301.7h0M1109.7,303.0h0M1136.3,300.0h0M1118.2,308.0h0M1073.5,281.3h0M1082.6,310.2h0M1127.5,284.7h0M1090.8,303.7h0M1091.2,311.0h0M1006.9,283.9h0M1112.1,285.6h0M1043.2,288.7h0M1072.2,308.7h0M1098.2,283.2h0M1136.5,294.5h0M1105.7,309.8h0M1131.0,297.2h0M1065.0,307.8h0M1051.5,298.9h0M1113.6,303.5h0M1061.8,300.3h0M1144.0,300.7h0M1061.0,307.1h0M1131.4,282.6h0M1128.1,297.0h0M1121.4,304.4h0M1052.2,290.3h0M1073.9,286.2h0M1076.0,281.7h0M1121.8,307.6h0M1152.9,286.8h0M1066.9,300.8h0M1123.9,298.4h0M1141.6,286.7h0M1097.8,293.4h0M1132.0,291.3h0M1039.5,280.9h0M1069.1,308.0h0M1122.7,288.4h0M1112.2,309.2h0M1136.8,293.3h0M1069.5,301.7h0M1033.5,282.2h0M1141.5,286.5h0M1136.8,302.1h0M1088.3,287.4h0M1077.9,280.7h0M1044.3,285.9h0M1097.4,311.0h0M1053.8,303.5h0M1081.1,309.7h0M1130.5,298.0h0M1052.5,305.5h0M1050.7,283.9h0M1096.4,283.1h0M1099.4,289.1h0M1041.0,293.8h0M1063.8,280.8h0M1124.2,297.6h0M1051.9,294.5h0M1165.1,286.3h0M1027.9,290.3h0M1133.0,298.2h0M1081.8,310.0h0M1094.8,304.4h0M1175.6,291.3h0M1084.8,280.7h0M1095.4,292.5h0M1077.8,309.7h0M1086.7,297.7h0M1035.7,295.7h0M1077.2,309.8h0M1114.8,297.8h0M1130.9,285.7h0M1109.3,309.2h0M1138.1,297.7h0M1162.4,284.8h0M1110.2,309.1h0M1143.0,295.5h0M1084.6,310.2h0M1123.2,289.5h0M1027.0,298.4h0M1102.7,291.2h0M1081.5,310.0h0M1138.6,285.8h0M1151.5,295.8h0M1140.4,294.8h0M1095.8,290.1h0M1114.4,281.6h0M1114.9,281.2h0M1108.5,309.3h0M1122.4,293.5h0M1051.3,294.9h0M1122.7,290.9h0M1150.2,295.2h0M1125.6,284.4h0M1029.3,285.6h0M1071.1,308.9h0M1126.1,304.7h0M1047.9,285.4h0M1116.9,298.0h0M1024.1,296.6h0M1031.6,297.5h0M1028.3,290.5h0M1123.9,306.5h0M1127.8,302.5h0M1100.8,310.1h0M1125.5,291.9h0M1051.9,301.8h0M1141.9,295.5h0M1074.7,283.4h0M1049.6,290.9h0M1052.9,302.7h0M1122.0,284.7h0M1038.2,296.1h0M1103.4,310.2h0M1149.0,286.4h0M1127.7,281.1h0M1078.5,309.8h0M1075.4,280.6h0M1108.9,302.4h0M1083.8,310.4h0M1054.0,305.0h0M1131.9,304.7h0M1061.9,296.2h0M1103.0,309.8h0M1094.9,299.8h0M1179.5,281.1h0M1049.5,296.2h0M1034.5,292.7h0M1044.5,302.3h0M1150.8,293.4h0M1108.9,299.3h0M1132.0,289.8h0M1054.0,303.2h0M1120.6,299.4h0M1056.9,282.3h0M1089.5,310.8h0M1052.5,296.1h0M1051.4,288.4h0M1101.1,282.9h0M1053.0,300.0h0M1098.2,310.8h0M1145.0,291.2h0M1052.7,299.8h0M1052.2,302.4h0M1085.8,283.0h0M1087.7,299.9h0M1039.9,299.6h0M1121.9,284.7h0M1077.3,292.0h0M1140.1,298.1h0M1142.6,295.2h0M1099.6,310.1h0M1031.4,292.3h0M1160.9,293.5h0M1028.8,285.8h0M1032.6,300.4h0M1133.9,287.4h0M1132.7,291.8h0M1083.9,309.9h0M1049.5,299.3h0M1067.6,293.4h0M1103.8,301.8h0M1123.5,293.7h0M1124.0,307.0h0M1098.6,281.1h0M1055.6,305.8h0M1094.9,299.7h0M1101.4,310.2h0M1123.8,283.0h0M1124.9,302.0h0M1130.1,288.5h0M1075.7,308.9h0M1113.2,308.5h0M1047.4,285.0h0M1134.2,286.8h0M1136.1,284.0h0M1027.0,285.4h0M1139.5,293.0h0M1130.1,287.0h0M1094.5,301.8h0M1158.5,291.4h0M1135.5,304.5h0M1053.3,303.3h0M1096.0,293.9h0M1052.0,290.9h0M1126.9,301.2h0M1081.0,280.9h0M1009.2,292.4h0M1047.5,289.4h0M1096.1,286.4h0M1135.6,285.4h0M1080.1,282.8h0M1069.5,280.8h0M1127.8,296.7h0M1127.6,287.1h0M1128.5,294.3h0M1098.4,291.3h0M1090.2,311.0h0M1148.3,283.7h0M1007.5,281.5h0M1125.2,291.6h0M1128.4,289.5h0M1046.7,303.2h0M1059.7,307.0h0M1040.1,302.2h0M1029.4,288.6h0M1081.2,310.2h0M1045.4,303.0h0M1089.3,284.5h0M1114.1,280.8h0M1083.6,310.1h0M1130.9,282.4h0M1088.9,311.0h0M1082.6,309.7h0M1046.0,283.0h0M1101.8,297.3h0M1122.2,281.7h0M1122.8,285.6h0M1087.1,310.9h0M1086.4,292.4h0M1101.2,303.2h0M1073.5,308.7h0M1114.5,308.7h0M1038.1,295.1h0M1087.9,301.1h0M1088.7,310.4h0M1113.5,308.3h0M1147.1,298.9h0M1051.0,301.7h0M1101.0,283.4h0M1074.5,299.3h0M1007.4,289.5h0M1124.0,298.9h0M1001.7,285.6h0M1052.1,297.8h0M1155.6,288.8h0M1086.3,302.3h0M1051.0,301.8h0M1122.7,286.1h0M1122.4,295.5h0M1125.6,285.7h0M1057.3,282.5h0M1135.2,293.2h0M1088.7,310.7h0M1064.7,298.7h0M1074.4,309.4h0M1094.0,309.6h0M1141.9,301.9h0M1132.4,304.7h0M1099.5,280.9h0M1159.7,296.1h0M1103.0,287.7h0M1133.3,289.3h0M1134.5,299.1h0M1131.5,302.7h0M1113.5,309.2h0M1033.3,289.0h0M1175.8,284.2h0M1126.1,283.5h0M1136.3,302.7h0M1039.1,298.3h0M1103.0,298.8h0M1017.5,290.3h0M1127.6,300.5h0M1097.7,305.5h0M1030.7,287.8h0M1143.7,283.0h0M1101.5,310.2h0M1129.3,302.9h0M1050.2,304.5h0M1124.4,302.2h0M1107.8,309.9h0M1014.1,286.5h0M1055.3,287.1h0M1084.7,310.3h0M1125.0,296.6h0M1047.4,281.3h0M1132.9,294.7h0M1137.6,287.5h0M1171.7,294.2h0M1077.9,309.9h0M1095.9,311.1h0M1114.5,281.1h0M1062.5,307.3h0M1063.1,280.6h0M1123.2,304.9h0M1095.1,310.9h0M1109.5,309.6h0M1049.2,299.2h0M1124.2,306.9h0M1099.6,303.6h0M1136.4,294.5h0M1152.1,300.7h0M1089.1,302.7h0M1050.5,291.6h0M1133.5,295.6h0M1156.0,282.7h0M1124.3,286.6h0M1079.7,282.8h0M1144.7,301.3h0M1121.1,307.4h0M1053.7,305.4h0M1101.1,304.5h0M1040.1,287.2h0M1137.9,303.7h0M1122.6,289.8h0M1073.9,309.4h0M1128.6,304.2h0M1040.2,302.5h0M1043.9,288.6h0M1174.3,289.5h0M1090.1,311.0h0M1094.1,310.1h0M1147.5,295.9h0M1121.9,300.3h0M1131.1,305.9h0M1110.3,309.4h0M1017.1,286.9h0M1147.0,285.4h0M1076.6,280.7h0M1052.6,305.5h0M1088.9,305.4h0M1086.6,283.0h0M1075.2,308.0h0M1154.0,291.9h0M1096.4,284.1h0M1048.2,283.2h0M1052.9,294.2h0M1031.6,300.1h0M1023.0,295.2h0M1083.6,310.2h0M1068.4,280.6h0M1087.6,309.7h0M1131.6,281.5h0M1163.2,288.1h0M1116.9,308.4h0M1105.8,291.7h0M1130.4,281.5h0M1054.3,280.8h0M1083.6,310.2h0M1046.5,296.4h0M1112.4,285.1h0M1130.6,297.7h0M1078.5,297.4h0M1125.6,303.9h0M1087.2,280.9h0M1098.8,280.6h0M1145.2,286.3h0M1152.6,283.5h0M1157.6,280.6h0M1043.8,301.7h0M1122.9,301.9h0M1043.2,288.9h0M1133.1,300.6h0M1138.4,302.8h0M1120.2,298.7h0M1133.7,298.2h0M1124.4,292.5h0M1143.4,298.1h0M1089.4,309.0h0M1157.1,284.7h0M1100.7,308.7h0M1123.5,304.9h0M1162.6,297.5h0M1101.9,289.7h0M1060.0,306.9h0M1119.8,308.1h0M1079.7,310.0h0M1129.2,287.8h0M1032.7,297.5h0M1133.3,292.6h0M1113.5,303.1h0M1038.5,300.1h0M1016.7,290.4h0M1083.7,280.6h0M1174.6,288.3h0M1084.0,301.6h0M1101.1,310.5h0M1112.0,300.2h0M1112.6,309.0h0M1053.6,292.1h0M1128.5,284.2h0M1170.5,283.2h0M1034.9,300.2h0M1101.7,284.2h0M1144.9,289.7h0M1091.0,311.0h0M1123.9,286.8h0M1071.6,280.8h0M1034.4,287.3h0M1087.7,310.8h0M1155.2,283.1h0M1129.9,293.6h0M1099.3,285.9h0M1072.7,308.5h0M1091.1,311.0h0M1027.3,294.9h0M1038.6,283.3h0M1126.4,285.9h0M1053.9,282.8h0M1162.4,295.9h0M1126.7,300.1h0M1094.0,308.6h0M1098.1,310.3h0M1036.9,301.6h0M1133.8,304.7h0M1150.2,288.9h0M1110.5,309.5h0M1038.2,283.2h0M1082.9,310.1h0M1025.3,288.2h0M1099.2,306.4h0M1051.6,284.2h0M1031.1,287.5h0M1142.6,296.4h0M1131.1,295.9h0M1084.2,287.4h0M1052.9,302.8h0M1152.0,299.3h0M1125.1,286.1h0M1143.5,302.7h0M1086.8,310.4h0M1130.3,302.6h0M1038.6,301.2h0M1054.0,281.0h0M1134.0,280.8h0M1053.2,286.2h0M1085.7,310.0h0M1079.1,309.9h0M1135.0,291.7h0M1132.1,299.5h0M1097.2,280.9h0M1054.1,305.9h0M1008.5,291.2h0M1027.4,291.3h0M1051.7,289.3h0M1133.9,301.7h0M1129.3,295.9h0M1132.4,304.3h0M1133.5,303.8h0M1150.1,294.6h0M1122.9,288.9h0M1114.4,308.4h0M1115.7,289.0h0M1044.4,286.1h0M1129.4,283.8h0M1146.2,282.4h0M1057.2,304.4h0M1054.2,291.4h0M1038.4,283.7h0M1135.8,282.5h0M1047.6,302.8h0M1052.9,301.7h0M1143.7,289.2h0M1107.2,305.5h0M1161.1,285.7h0M1122.8,298.1h0M1102.0,294.4h0M1011.4,291.3h0M1179.2,282.6h0M1103.5,309.8h0M1110.9,284.6h0M1039.2,297.4h0M1130.3,283.3h0M1138.6,291.6h0M1132.5,301.2h0M1129.1,297.8h0M1129.6,296.7h0M1122.2,293.8h0M1102.3,310.2h0M1129.3,286.3h0M1022.6,293.9h0M1038.1,293.9h0M1147.2,285.2h0M1039.7,301.8h0M1093.9,309.9h0M1038.5,280.9h0M1157.1,289.6h0M1113.0,309.2h0M1156.9,297.5h0M1070.2,308.3h0M1123.1,295.5h0M1068.9,308.3h0M1127.7,292.1h0M1125.3,287.8h0M1131.4,281.9h0M1128.4,299.7h0M1131.0,302.8h0M1128.7,301.1h0M1175.8,285.1h0M1032.4,298.7h0M1083.1,310.2h0M1126.0,302.3h0M1039.6,301.8h0M1153.4,292.5h0M1074.7,280.9h0M1035.4,288.2h0M1126.0,294.0h0M1122.8,286.7h0M1133.9,303.4h0M1095.5,293.0h0M1124.2,301.9h0M1139.0,299.8h0M1126.5,300.0h0M1095.5,290.6h0M1144.6,289.0h0M1144.4,301.0h0M1041.1,297.8h0M1082.4,309.8h0M1098.3,301.6h0M1129.7,306.1h0M1130.0,302.5h0M1139.9,300.8h0M1119.0,307.7h0M1109.4,290.4h0M1155.7,291.7h0M1178.8,281.1h0M1057.3,293.4h0M1137.9,288.1h0M1053.0,286.6h0M1055.4,305.5h0M1127.6,289.4h0M1079.7,280.8h0M1174.2,290.9h0M1075.3,280.6h0M1123.7,303.4h0M1027.4,291.0h0M1137.5,286.9h0M1126.8,301.4h0M1070.9,308.5h0M1077.2,297.6h0M1089.9,310.7h0M1113.6,306.2h0M1130.3,287.3h0M1114.5,308.9h0M1123.6,301.0h0M1161.4,293.5h0M1054.1,291.8h0M1131.6,302.7h0M1053.7,285.1h0M1123.5,282.0h0M1076.1,307.5h0M1095.1,310.9h0M1131.4,298.7h0M1134.9,294.1h0M1013.6,291.3h0M1123.1,294.1h0M1098.8,280.9h0M1050.7,285.1h0M1122.0,291.5h0M1051.0,289.2h0M1097.2,310.8h0M1085.3,310.5h0M1168.8,284.5h0M1087.4,289.3h0M1130.1,297.2h0M1126.9,300.7h0M1125.6,285.7h0M1125.7,306.6h0M1130.6,297.7h0M1106.8,310.0h0M1069.6,308.6h0M1126.8,284.3h0M1130.9,306.0h0M1124.7,299.4h0M1028.4,283.3h0M1166.7,284.6h0M1110.4,309.0h0M1043.9,301.5h0M1098.3,310.2h0M1036.4,289.2h0M1056.9,290.6h0M1106.4,310.0h0M1098.9,290.1h0M1122.3,284.8h0M1081.3,286.0h0M1051.3,304.8h0M1042.9,295.9h0M1071.6,308.8h0M1076.9,309.7h0M1051.5,293.6h0M1054.3,281.8h0M1070.8,308.8h0M1122.2,284.2h0M1085.1,282.7h0M1146.2,300.0h0M1134.4,285.0h0M1107.5,309.8h0M1046.0,294.4h0M1039.9,299.3h0M1143.1,299.2h0M1068.8,308.6h0M1079.7,310.0h0M1127.1,296.8h0M1124.2,307.4h0M1044.0,300.4h0M1082.7,295.0h0M1037.8,298.6h0M1066.4,293.1h0M1048.5,286.8h0M1072.0,309.0h0M1045.9,297.7h0M1076.2,303.2h0M1040.4,297.4h0M1127.9,291.9h0M1115.6,281.9h0M1075.0,287.3h0M1054.2,305.6h0M1124.2,282.9h0M1080.7,296.5h0M1122.5,306.0h0M1051.7,301.9h0M1073.0,303.1h0M1056.9,306.3h0M1053.6,299.9h0M1094.6,302.0h0M1066.8,280.7h0M1085.7,286.5h0M1102.8,281.1h0M1070.8,288.7h0M1077.5,309.3h0M1118.0,307.8h0M1096.7,281.9h0M1050.4,280.8h0M1134.5,286.4h0M1123.9,302.6h0M1140.4,303.1h0M1123.6,303.7h0M1123.1,294.6h0M1089.8,308.5h0M1135.1,297.0h0M1096.3,311.0h0M1098.4,310.4h0M1078.0,280.8h0M1087.1,305.8h0M1068.1,308.5h0M1026.9,296.4h0M1052.8,280.8h0M1122.6,294.0h0M1040.8,285.5h0M1125.0,299.6h0M1078.5,304.4h0M1090.8,311.0h0M1124.8,305.9h0M1094.9,311.1h0M1180.6,288.9h0M1105.6,281.1h0M1052.1,287.5h0M1125.4,305.3h0M1142.4,290.6h0M1053.3,281.9h0M1042.7,302.2h0M1127.7,292.6h0M1025.9,291.9h0M1125.1,305.2h0M1129.2,298.2h0M1135.6,303.0h0M1122.3,289.5h0M1111.5,304.2h0M1110.6,307.7h0M1097.7,293.4h0M1142.6,283.8h0M1073.8,309.4h0M1106.4,282.0h0M1080.3,280.6h0M1166.9,291.7h0M1148.4,281.9h0M1125.5,300.6h0M1072.9,281.0h0M1139.3,300.3h0M1134.9,305.2h0M1082.6,281.0h0M1097.8,281.1h0M1112.0,309.2h0M1151.8,286.5h0M1101.5,293.6h0M1170.6,286.5h0M1050.9,286.5h0M1142.6,288.1h0M1053.9,305.1h0M1096.8,310.6h0M1079.2,283.9h0M1075.8,302.2h0M1134.5,304.6h0M1095.2,297.9h0M1122.3,284.1h0M1134.4,297.0h0M1044.4,295.0h0M1122.4,303.3h0M1139.8,299.7h0M1128.4,287.5h0M1062.8,307.2h0M1031.2,282.2h0M1141.9,301.6h0M1028.6,299.1h0M1125.4,304.4h0M1042.1,302.5h0M1127.2,285.7h0M1082.9,309.8h0M1084.3,310.5h0M1051.6,294.2h0M1128.3,294.1h0M1143.2,284.6h0M1001.8,280.6h0M1130.3,305.3h0M1122.0,294.2h0M1065.2,307.9h0M1107.5,280.8h0M1123.8,302.5h0M1150.2,297.7h0M1055.5,285.6h0M1131.8,280.8h0M1069.0,281.6h0M1075.9,309.0h0M1029.9,287.9h0M1069.9,308.1h0M1135.3,289.5h0M1037.5,301.2h0M1147.4,288.4h0M1040.2,289.7h0M1127.1,295.4h0M1091.1,310.8h0M1042.6,289.4h0M1134.5,299.1h0M1125.8,298.7h0M1124.5,293.9h0M1142.0,281.5h0M1125.7,286.3h0M1135.0,293.6h0M1029.0,297.8h0M1088.0,310.8h0M1042.1,289.0h0M1076.6,282.3h0M1024.5,284.9h0M1087.5,310.1h0M1116.0,294.4h0M1085.6,295.5h0M1122.7,294.0h0M1082.8,296.4h0M1119.7,307.9h0M1100.0,310.1h0M1125.4,304.5h0M1078.5,297.3h0M1134.1,301.7h0M1030.6,299.1h0M1160.5,285.3h0M1131.1,304.8h0M1048.5,292.6h0M1054.9,305.9h0M1115.8,294.0h0M1075.9,308.9h0M1091.1,311.1h0M1009.3,285.0h0M1107.6,309.9h0M1053.8,305.3h0M1125.6,293.6h0M1063.0,307.0h0M1084.3,310.5h0M1122.4,285.6h0M1019.4,284.6h0M1123.3,306.9h0M1112.1,280.8h0M1014.2,293.5h0M1086.6,307.1h0M1006.8,280.7h0M1101.0,310.1h0M1155.2,299.2h0M1140.1,289.3h0M1098.2,300.3h0M1052.4,298.4h0M1050.5,290.8h0M1123.9,304.4h0M1053.3,282.0h0M1088.5,311.0h0M1085.5,310.7h0M1108.2,309.4h0M1122.1,296.5h0M1140.7,288.2h0M1026.8,297.7h0M1086.7,303.4h0M1095.9,289.2h0M1138.0,290.4h0M1082.7,280.7h0M1111.2,309.1h0M1041.5,293.4h0M1040.0,299.7h0M1126.7,288.8h0M1051.3,298.7h0M1079.4,309.5h0M1138.7,302.2h0M1090.1,289.2h0M1047.4,296.9h0M1124.6,288.8h0M1039.5,298.5h0M1143.9,302.7h0M1062.6,307.2h0M1098.4,310.4h0M1137.6,294.5h0M1080.8,309.9h0M1133.6,297.0h0M1130.2,294.4h0M1126.2,295.6h0M1052.9,295.4h0M1048.7,296.3h0M1145.1,296.4h0M1135.8,282.5h0M1039.7,299.9h0M1131.9,294.7h0M1102.4,280.8h0M1104.2,287.6h0M1053.5,292.1h0M1086.7,299.7h0M1086.6,310.5h0M1085.6,281.0h0M1135.2,292.9h0M1029.8,295.9h0M1132.3,292.0h0M1145.2,292.1h0M1082.2,280.6h0M1152.5,298.0h0M1058.2,281.2h0M1135.9,299.5h0M1090.0,311.1h0M1126.4,291.8h0M1069.9,307.2h0M1056.6,284.6h0M1108.6,287.4h0M1127.7,284.7h0M1123.1,301.0h0M1094.0,307.2h0M1048.8,296.6h0M1127.6,283.2h0M1133.0,305.3h0M1031.9,299.4h0M1139.5,294.2h0M1153.5,298.5h0M1028.7,294.6h0M1124.3,283.0h0M1082.3,280.7h0M1050.4,288.7h0M1127.8,280.9h0M1172.9,290.9h0M1105.3,282.0h0M1109.4,290.9h0M1089.0,280.9h0M1046.2,286.0h0M1043.4,298.3h0M1031.1,295.8h0M1124.0,297.2h0M1137.1,296.9h0M1049.9,303.1h0M1012.5,291.5h0M1127.9,288.5h0M1127.3,303.2h0M1133.8,291.0h0M1116.6,308.2h0M1122.2,280.7h0M1103.4,310.2h0M1111.0,284.4h0M1124.9,298.2h0M1139.3,301.5h0M1065.5,308.0h0M1067.6,280.7h0M1051.3,304.9h0M1125.3,304.8h0M1049.2,287.1h0M1038.5,290.7h0M1107.1,280.9h0M1124.2,282.5h0M1113.2,309.0h0M1160.1,285.4h0M1059.5,306.3h0M1073.2,281.1h0M1080.0,308.4h0M1124.5,290.7h0M1048.5,285.3h0M1051.3,288.3h0M1138.6,303.5h0M1052.9,297.5h0M1104.5,310.1h0M1058.1,306.2h0M1026.1,298.0h0M1145.1,294.1h0M1100.9,304.5h0M1135.3,304.1h0M1123.3,307.2h0M1106.7,301.5h0M1047.6,300.2h0M1096.0,285.8h0M1139.9,298.4h0M1119.4,307.9h0M1122.0,305.5h0M1144.5,293.8h0M1042.3,299.3h0M1122.6,305.4h0M1140.6,301.3h0M1133.0,293.0h0M1084.0,306.6h0M1051.5,285.5h0M1067.8,285.9h0M1144.0,300.8h0M1069.5,308.7h0M1070.8,297.8h0M1123.9,300.8h0M1122.2,290.8h0M1023.6,289.7h0M1164.7,283.3h0M1096.6,303.6h0M1122.9,296.8h0M1158.9,298.5h0M1087.3,309.1h0M1129.0,286.3h0M1074.6,309.1h0M1042.1,289.4h0M1056.1,305.6h0M1052.4,287.7h0M1135.6,297.7h0M1082.3,309.7h0M1114.1,309.0h0M1045.4,285.9h0M1152.8,288.6h0M1127.8,304.8h0M1122.5,293.1h0M1114.8,303.7h0M1074.5,301.3h0M1038.3,285.0h0M1132.3,300.4h0M1101.5,310.6h0M1133.7,289.1h0M1086.6,280.6h0M1104.8,309.7h0M1124.5,288.4h0M1122.7,295.5h0M1125.2,288.3h0M1146.6,296.6h0M1123.3,306.6h0M1087.6,310.4h0M1094.8,311.2h0M1069.1,280.9h0M1053.5,295.1h0M1122.9,282.7h0M1083.5,293.0h0M1049.7,289.4h0M1149.6,281.1h0M1046.3,303.6h0M1113.8,308.1h0M1150.6,283.4h0M1049.3,294.9h0M1063.2,307.4h0M1130.2,290.5h0M1134.6,285.8h0M1124.2,305.5h0M1049.5,284.3h0M1075.1,309.1h0M1159.5,281.3h0M1104.7,310.1h0M1136.8,303.4h0M1122.6,307.1h0M1125.7,297.8h0M1130.2,289.9h0M1130.1,303.4h0M1138.0,282.6h0M1125.2,288.2h0M1028.2,293.1h0M1095.6,311.0h0M1053.6,296.5h0M1089.3,309.7h0M1137.2,284.5h0M1088.4,304.9h0M1148.2,292.1h0M1122.8,296.6h0M1079.4,309.4h0M1087.7,302.3h0M1129.3,300.9h0M1124.9,299.8h0M1133.8,285.9h0M1130.6,296.6h0M1052.3,296.4h0M1163.5,286.2h0M1127.2,282.7h0M1090.3,308.6h0M1052.3,296.8h0M1045.6,302.4h0M1079.3,309.4h0M1082.8,296.6h0M1113.1,309.1h0M1044.1,299.8h0M1082.3,302.4h0M1042.7,303.2h0M1080.3,309.6h0M1123.8,295.8h0M1075.6,284.2h0M1086.1,281.3h0M1129.8,297.6h0M1137.4,287.3h0M1152.8,288.3h0M1088.9,280.8h0M1051.7,289.6h0M1143.1,301.4h0M1124.3,293.6h0M1138.7,287.2h0M1078.2,288.2h0M1121.8,307.7h0M1103.9,296.9h0M1063.6,307.4h0M1126.3,291.5h0M1096.5,283.7h0M1026.5,292.5h0M1146.6,287.1h0M1097.7,310.3h0M1150.6,282.1h0M1058.2,299.1h0M1073.7,309.1h0M1154.2,281.9h0M1049.8,288.6h0M1130.1,304.9h0M1022.4,296.8h0M1104.0,303.0h0M1036.6,300.8h0M1102.9,296.6h0M1126.2,296.3h0M1088.5,310.9h0M1131.6,305.0h0M1105.1,310.1h0M1073.3,304.5h0M1045.9,296.5h0M1040.2,294.0h0M1122.1,283.5h0M1175.0,285.3h0M1061.1,289.3h0M1107.4,280.7h0M1063.7,307.7h0M1095.7,290.2h0M1016.3,291.7h0M1098.0,310.6h0M1047.5,288.2h0M1034.5,285.2h0M1124.0,290.8h0M1161.3,291.6h0M1074.3,303.8h0M1168.6,286.3h0M1094.2,304.4h0M1102.5,302.9h0M1116.8,308.0h0M1135.1,304.2h0M1048.8,280.7h0M1008.7,290.0h0M1068.4,305.4h0M1033.1,293.4h0M1140.4,290.3h0M1107.1,280.6h0M1128.2,300.9h0M1083.8,305.3h0M1087.4,310.7h0M1125.7,289.2h0M1127.2,302.8h0M1125.7,298.2h0M1052.3,302.0h0M1038.7,298.3h0M1093.8,308.7h0M1143.3,284.2h0M1101.1,310.5h0M1017.9,280.7h0M1032.6,289.0h0M1089.0,309.2h0M1040.7,289.3h0M1091.2,309.6h0M1124.0,297.4h0M1139.9,297.1h0M1143.4,291.6h0M1072.7,309.0h0M1073.5,308.9h0M1097.6,310.8h0M1011.4,284.6h0M1131.3,282.7h0M1047.9,304.3h0M1124.8,307.2h0M1129.1,298.3h0M1115.0,308.4h0M1040.6,288.3h0M1135.7,296.4h0M1097.1,310.7h0M1123.7,297.8h0M1041.3,300.9h0M1160.5,283.3h0M1106.6,310.0h0M1123.1,305.2h0M1134.2,285.0h0M1071.1,286.2h0M1126.3,291.7h0M1124.8,289.9h0M1131.7,299.3h0M1126.4,305.9h0M1035.7,292.5h0M1109.9,289.2h0M1089.7,310.4h0M1158.2,296.3h0M1052.6,298.1h0M1081.4,310.2h0M1043.0,290.3h0M1145.8,292.3h0M1129.5,289.1h0M1148.9,299.3h0M1138.6,285.8h0M1070.1,308.3h0M1129.9,301.9h0M1127.6,291.3h0M1073.3,285.2h0M1132.3,300.9h0M1136.0,297.2h0M1095.2,297.6h0M1128.6,291.8h0M1125.7,297.5h0M1033.1,292.1h0M1073.8,309.0h0M1124.4,299.5h0M1118.1,305.7h0M1131.9,305.0h0M1096.2,310.8h0M1058.8,295.5h0M1052.0,290.3h0M1060.1,306.5h0M1038.9,295.8h0M1134.3,288.4h0M1130.1,306.1h0M1136.3,288.9h0M1078.4,309.9h0M1127.3,294.3h0M1027.9,298.6h0M1114.9,307.3h0M1144.7,302.6h0" stroke="#bebebe" stroke-width="1.9" stroke-linecap="round" fill="none"/>
<path d="M1079.5,268.8h0M1067.5,269.4h0M1080.6,244.3h0M1057.2,277.7h0M1075.5,272.6h0M1078.1,265.3h0M1078.1,259.9h0M1067.7,264.5h0M1071.0,273.0h0M1073.9,267.2h0M1086.2,249.3h0M1079.2,265.5h0M1069.9,272.1h0M1068.6,279.8h0M1068.7,264.1h0M1079.1,257.1h0M1071.9,266.2h0M1084.8,279.7h0M1076.4,276.0h0M1076.2,266.5h0M1056.5,264.1h0M1075.7,279.3h0M1075.2,256.3h0M1069.9,275.8h0M1071.4,272.0h0M1079.0,279.7h0M1073.8,269.3h0M1064.1,278.6h0M1078.1,271.0h0M1079.3,280.0h0M1074.6,279.7h0M1069.0,268.7h0M1076.9,259.8h0M1067.7,251.1h0M1081.2,280.2h0M1072.8,275.3h0M1075.1,279.9h0M1059.1,275.3h0M1054.3,259.6h0M1071.4,278.5h0M1061.0,263.1h0M1059.9,265.0h0M1072.4,267.6h0M1071.0,264.9h0M1086.4,279.9h0M1057.0,261.6h0M1082.2,280.1h0M1067.5,279.1h0M1069.3,271.1h0M1075.5,276.2h0M1079.3,280.0h0M1073.0,280.3h0M1067.0,266.2h0M1088.0,271.1h0M1069.3,280.3h0M1082.5,280.5h0M1079.6,266.2h0M1063.4,270.1h0M1077.5,279.9h0M1067.3,267.7h0M1072.6,276.2h0M1062.4,250.2h0M1071.3,280.3h0M1064.2,246.1h0M1072.7,278.1h0M1068.5,276.1h0M1073.4,263.2h0M1079.2,243.8h0M1082.9,262.9h0M1061.6,272.0h0M1082.8,258.2h0M1082.1,263.6h0M1079.5,266.7h0M1070.1,267.0h0M1084.8,264.5h0M1079.0,269.9h0M1074.9,279.7h0M1084.1,249.0h0M1064.7,251.5h0M1078.8,242.2h0M1088.0,279.9h0M1062.8,246.4h0M1083.0,262.7h0M1086.8,263.2h0M1079.6,262.0h0M1083.6,260.4h0M1068.9,260.9h0M1089.0,280.2h0M1082.4,233.3h0M1074.2,271.4h0M1081.9,260.3h0M1078.3,270.6h0M1078.7,261.2h0M1074.2,277.0h0M1070.8,280.2h0M1055.7,270.5h0M1084.7,267.6h0M1068.6,264.9h0M1081.2,267.0h0M1074.5,278.5h0M1076.1,280.1h0M1074.8,279.4h0M1074.7,258.2h0M1086.3,265.1h0M1076.8,251.7h0M1089.0,276.6h0M1077.4,279.8h0M1078.7,275.0h0M1084.1,264.0h0M1067.2,280.3h0M1073.1,263.7h0M1074.5,276.4h0M1074.1,262.4h0M1061.4,258.3h0M1077.3,263.5h0M1088.4,275.2h0M1073.2,272.6h0M1076.9,265.4h0M1071.0,267.5h0M1072.3,271.2h0M1066.8,277.8h0M1066.8,220.0h0M1081.2,280.5h0M1068.0,262.9h0M1065.1,274.3h0M1080.2,273.5h0M1080.6,275.3h0M1074.4,271.5h0M1066.6,254.9h0M1071.8,270.4h0M1075.6,271.2h0M1056.5,262.1h0M1073.4,277.2h0M1082.5,265.5h0M1075.9,270.9h0M1079.9,256.3h0M1068.3,280.4h0M1083.9,262.3h0M1069.8,249.1h0M1066.9,276.1h0M1061.7,275.6h0M1064.1,263.9h0M1071.1,274.1h0M1079.4,251.6h0M1067.4,273.0h0M1067.9,256.3h0M1080.5,265.7h0M1084.6,262.9h0M1073.4,269.3h0M1062.5,279.0h0M1078.2,269.4h0M1068.3,275.5h0M1073.2,258.3h0M1084.7,253.6h0M1067.2,270.1h0M1083.6,264.3h0M1075.3,247.2h0M1074.2,260.9h0M1060.6,272.5h0M1071.8,264.7h0M1075.7,237.2h0M1075.4,278.7h0M1068.1,252.2h0M1087.6,280.4h0M1071.3,272.6h0M1085.5,274.4h0M1074.5,269.7h0M1080.6,262.2h0M1042.6,257.9h0M1086.1,257.4h0M1078.3,263.8h0M1059.3,260.3h0M1080.9,274.3h0M1072.2,262.9h0M1080.1,278.2h0M1060.3,276.5h0M1077.8,259.4h0M1073.0,265.5h0M1058.6,265.8h0M1075.8,277.2h0M1064.3,251.3h0M1066.4,278.1h0M1070.6,277.5h0M1077.3,263.1h0M1078.3,260.5h0M1075.5,268.5h0M1060.2,268.6h0M1073.7,263.3h0M1080.9,258.4h0M1071.6,246.6h0M1070.6,272.0h0M1082.5,257.7h0M1054.7,261.8h0M1075.6,269.7h0M1081.8,279.7h0M1074.1,278.8h0M1062.1,275.1h0M1069.9,237.4h0M1058.5,268.4h0M1085.2,280.5h0M1082.4,259.2h0M1052.3,227.5h0M1077.5,270.3h0M1080.1,276.7h0M1061.1,270.4h0M1084.7,279.7h0M1076.0,250.7h0M1069.5,279.2h0M1082.0,267.3h0M1078.0,266.1h0M1073.7,278.6h0M1073.1,280.0h0M1071.9,272.8h0M1084.2,273.8h0M1073.5,264.9h0M1074.6,266.9h0M1075.3,275.1h0M1066.6,272.0h0M1067.8,244.4h0M1068.7,254.3h0M1075.4,277.1h0M1076.3,276.8h0M1053.1,276.2h0M1056.0,278.8h0M1083.2,264.7h0M1077.1,273.7h0M1080.8,270.0h0M1081.8,280.3h0M1069.4,268.7h0M1067.6,278.5h0M1072.9,267.4h0M1072.7,259.8h0M1073.5,278.7h0M1044.1,258.1h0M1060.1,269.2h0M1084.4,259.4h0M1067.2,276.3h0M1074.3,270.9h0M1068.2,265.6h0M1074.5,272.7h0M1081.0,264.3h0M1087.5,279.8h0M1081.7,261.2h0M1066.4,274.6h0M1076.8,264.7h0M1071.8,279.4h0M1076.7,239.2h0M1077.1,271.4h0M1056.4,267.3h0M1074.5,278.5h0M1069.9,248.8h0M1074.5,276.4h0M1073.5,272.9h0M1081.4,262.5h0M1086.1,263.8h0M1068.8,272.0h0M1076.3,267.1h0M1044.1,280.4h0M1081.2,260.8h0M1084.3,266.8h0M1075.7,257.2h0M1073.7,265.2h0M1079.4,280.0h0M1068.5,264.9h0M1068.4,273.0h0M1074.2,275.6h0M1073.4,262.0h0M1077.8,271.1h0M1085.2,280.5h0M1087.7,276.5h0M1079.8,268.7h0M1079.8,280.2h0M1078.8,267.3h0M1069.5,280.4h0M1088.5,273.7h0M1070.7,270.8h0M1067.5,278.7h0M1060.6,275.0h0M1083.9,280.3h0M1073.8,275.8h0M1083.3,273.9h0M1057.8,273.7h0M1070.4,277.7h0M1076.6,279.9h0M1067.6,266.3h0M1082.8,254.6h0M1074.7,275.6h0M1076.0,272.4h0M1058.7,269.6h0M1085.4,280.1h0M1076.0,277.3h0M1074.5,280.5h0M1084.5,253.1h0M1082.5,280.0h0M1080.2,280.4h0M1080.3,253.8h0M1074.9,268.3h0M1072.9,279.8h0M1081.5,279.9h0M1075.5,280.4h0M1084.2,253.6h0M1069.7,279.4h0M1075.5,272.6h0M1071.2,269.2h0M1065.6,279.2h0M1076.8,256.9h0M1076.7,261.3h0M1070.3,278.8h0M1070.8,275.5h0M1078.1,267.2h0M1077.8,269.6h0M1071.6,280.1h0M1077.6,268.8h0M1071.9,273.9h0M1085.8,271.7h0M1079.5,279.6h0M1066.8,275.7h0M1066.3,279.9h0M1061.7,279.6h0M1075.6,274.4h0M1056.9,251.1h0M1063.2,279.9h0M1058.3,275.0h0M1070.9,280.5h0M1050.1,271.7h0M1088.6,273.8h0M1079.6,269.1h0M1066.7,275.3h0M1084.0,265.1h0M1071.1,268.1h0M1087.1,269.9h0M1077.1,236.2h0M1071.6,279.5h0M1080.8,268.5h0M1082.8,279.7h0M1071.2,280.0h0M1075.3,279.7h0M1082.3,257.7h0M1074.7,278.7h0M1079.6,264.0h0M1061.0,265.4h0M1073.5,270.7h0M1082.8,279.8h0M1069.1,275.8h0M1073.1,273.2h0M1089.6,276.2h0M1086.7,279.6h0M1083.0,259.1h0M1086.2,276.0h0M1073.9,278.9h0M1083.4,271.3h0M1061.9,266.3h0M1066.2,269.2h0M1077.2,280.3h0M1086.7,267.8h0M1051.6,271.6h0M1071.7,271.2h0M1060.8,249.3h0M1077.0,271.6h0M1079.4,262.3h0M1074.5,268.6h0M1086.6,279.8h0M1070.1,275.3h0M1086.5,263.6h0M1030.4,267.5h0M1071.7,269.1h0M1016.3,234.5h0M1046.6,277.5h0M1055.3,272.5h0M1057.6,263.9h0M1061.7,276.8h0M1046.2,234.9h0M1016.2,273.7h0M1049.9,268.3h0M1046.0,279.3h0M1054.3,242.5h0M1066.5,267.5h0M1044.3,272.1h0M1018.7,270.9h0M1041.1,253.4h0M1046.0,278.5h0M1031.3,274.8h0M1070.4,279.8h0M1050.0,256.4h0M1034.3,272.6h0M1046.1,269.1h0M1018.4,279.1h0M1042.3,278.9h0M1051.7,270.8h0M1055.0,278.5h0M1026.7,274.7h0M1024.7,272.7h0M1059.1,278.8h0M1054.7,265.3h0M1068.4,272.7h0M1015.3,267.3h0M1021.3,269.7h0M1043.8,257.2h0M1058.1,271.4h0M1016.1,270.2h0M1042.5,266.6h0M1054.2,273.7h0M1029.9,266.7h0M1048.4,277.8h0M1052.2,274.4h0M1051.9,274.8h0M1044.1,272.6h0M1063.9,258.2h0M1060.1,279.0h0M1038.6,277.6h0M1045.8,275.6h0M1064.2,274.3h0M1043.7,274.3h0M1063.7,260.8h0M1046.9,250.5h0M1049.6,273.7h0M1028.0,278.7h0M1074.0,271.6h0M1072.1,267.0h0M1042.6,277.5h0M1053.2,278.8h0M1063.6,268.9h0M1034.5,275.2h0M1069.9,274.3h0M1043.6,275.2h0M1046.1,271.2h0M1035.7,278.6h0M1073.8,277.9h0M1071.4,263.8h0M1054.8,270.1h0M1044.3,247.1h0M1072.6,279.4h0M1071.6,262.5h0M1049.1,273.8h0M1044.8,272.2h0M1050.8,253.2h0M1059.0,277.0h0M1055.6,276.1h0M1011.7,272.4h0M1050.4,273.0h0M1074.5,279.8h0M1069.8,277.9h0M1070.1,243.0h0M1056.4,269.6h0M1022.8,261.7h0M1051.4,278.8h0M1070.7,262.0h0M1074.2,245.7h0M1063.1,267.5h0M1017.4,272.4h0M1015.8,278.6h0M1035.6,274.4h0M1029.4,274.4h0M1068.5,273.9h0M1072.4,279.2h0M1051.3,279.7h0M1017.5,279.4h0M1047.4,273.4h0M1068.4,279.6h0M1049.8,256.7h0M1050.8,278.8h0M1068.3,274.2h0M1025.7,270.7h0M1008.6,277.2h0M1074.0,260.6h0M1034.6,274.5h0M1070.0,271.9h0M1067.8,271.6h0M1058.9,274.4h0M1063.7,272.8h0M1062.7,280.0h0M1062.2,266.3h0M1071.3,251.8h0M1086.3,228.7h0M1061.7,252.1h0M1070.9,240.0h0M1068.9,229.3h0M1076.3,235.6h0M1078.6,239.6h0M1076.5,252.2h0M1084.5,238.5h0M1061.3,253.1h0M1066.4,244.5h0M1060.5,233.7h0M1086.0,247.3h0M974.4,240.3h0M1066.4,172.9h0M1071.9,170.0h0M1025.4,215.5h0M1056.4,211.9h0M1077.5,208.4h0M1022.1,234.4h0M1068.6,211.9h0M1009.9,256.9h0M1008.8,259.2h0M1007.7,268.7h0M1008.8,275.8h0M1017.7,251.0h0M1024.3,241.5h0M1028.7,242.7h0M1044.2,238.0h0M1050.9,228.5h0M1057.5,226.1h0M1037.6,249.8h0" stroke="#3a7bb7" stroke-width="1.9" stroke-linecap="round" fill="none"/>
<path d="M1110.1,259.9h0M1107.4,272.1h0M1130.9,271.7h0M1124.9,280.2h0M1104.2,256.2h0M1123.2,271.8h0M1115.7,279.9h0M1115.5,255.6h0M1126.1,259.0h0M1109.7,261.2h0M1132.1,273.4h0M1108.7,224.7h0M1130.9,272.3h0M1110.7,276.8h0M1111.0,263.4h0M1119.9,280.3h0M1119.5,257.0h0M1133.0,271.4h0M1131.4,249.0h0M1098.4,278.8h0M1115.0,263.3h0M1128.4,241.9h0M1134.6,276.5h0M1123.1,255.4h0M1127.8,272.2h0M1099.0,255.4h0M1135.0,280.1h0M1111.2,280.2h0M1124.9,276.8h0M1123.9,251.2h0M1110.0,277.5h0M1126.7,278.4h0M1103.0,263.8h0M1119.6,265.8h0M1110.3,267.7h0M1113.7,271.0h0M1103.3,280.5h0M1097.5,276.1h0M1112.2,261.2h0M1129.9,276.3h0M1139.3,273.9h0M1123.6,271.9h0M1107.2,279.7h0M1130.1,273.5h0M1098.9,279.8h0M1133.2,256.2h0M1120.4,280.2h0M1138.7,271.9h0M1103.3,280.4h0M1127.3,278.1h0M1127.5,270.2h0M1111.8,245.3h0M1119.9,254.7h0M1135.1,277.7h0M1135.2,262.4h0M1110.1,253.0h0M1137.1,252.3h0M1143.8,235.3h0M1113.8,258.0h0M1099.5,267.4h0M1114.2,279.4h0M1111.6,261.1h0M1114.0,261.1h0M1129.3,270.8h0M1110.4,255.8h0M1121.4,262.5h0M1134.8,278.5h0M1105.3,279.5h0M1135.9,258.4h0M1110.8,250.9h0M1101.4,274.4h0M1106.9,278.0h0M1100.5,253.9h0M1108.5,279.9h0M1130.0,252.7h0M1114.8,256.5h0M1118.5,232.1h0M1120.4,268.9h0M1138.8,277.1h0M1124.3,265.8h0M1126.5,278.4h0M1127.6,271.4h0M1102.4,261.7h0M1111.0,259.3h0M1138.6,278.6h0M1106.4,263.1h0M1124.2,279.2h0M1108.1,254.4h0M1117.2,264.1h0M1107.3,259.8h0M1105.9,249.2h0M1119.9,252.3h0M1114.1,260.8h0M1124.7,266.7h0M1125.4,262.8h0M1127.8,277.7h0M1110.6,279.4h0M1114.2,280.4h0M1105.3,262.3h0M1135.0,272.9h0M1097.7,276.1h0M1110.3,279.6h0M1129.9,279.4h0M1106.4,260.6h0M1104.4,280.1h0M1108.5,262.2h0M1141.2,262.2h0M1108.9,280.5h0M1122.9,272.9h0M1111.8,273.1h0M1100.6,268.1h0M1117.5,265.2h0M1136.8,254.3h0M1104.9,279.9h0M1113.9,241.8h0M1130.0,260.5h0M1144.2,259.9h0M1100.8,264.6h0M1109.1,278.2h0M1107.1,280.4h0M1123.4,241.7h0M1121.9,264.1h0M1112.5,276.9h0M1106.0,280.4h0M1132.1,273.7h0M1120.3,280.2h0M1107.4,260.6h0M1124.3,274.9h0M1118.2,264.4h0M1122.3,280.0h0M1106.2,280.1h0M1100.9,280.1h0M1126.3,268.0h0M1151.6,270.9h0M1106.0,241.3h0M1143.5,268.3h0M1146.0,254.9h0M1125.5,268.1h0M1122.5,270.9h0M1118.7,247.2h0M1114.9,280.0h0M1137.2,262.8h0M1105.1,278.2h0M1128.8,277.0h0M1112.2,257.4h0M1117.3,280.2h0M1121.3,280.2h0M1099.9,269.1h0M1110.6,280.2h0M1102.9,263.1h0M1134.3,274.4h0M1117.8,259.4h0M1100.7,266.4h0M1127.3,277.8h0M1126.3,276.1h0M1123.5,277.9h0M1102.2,266.1h0M1105.3,251.1h0M1097.4,273.7h0M1105.6,278.7h0M1138.0,264.3h0M1116.0,267.8h0M1112.2,254.3h0M1117.4,256.5h0M1135.5,277.6h0M1146.8,280.4h0M1124.7,269.4h0M1117.9,280.2h0M1120.2,280.3h0M1135.5,268.7h0M1128.2,277.1h0M1124.5,277.2h0M1125.3,276.8h0M1102.1,265.2h0M1126.2,279.6h0M1105.2,258.3h0M1124.1,279.9h0M1108.6,259.0h0M1108.8,257.9h0M1125.8,263.4h0M1103.7,252.2h0M1103.5,277.3h0M1134.5,258.2h0M1114.9,280.5h0M1128.5,280.4h0M1113.4,256.4h0M1121.9,265.4h0M1107.7,280.4h0M1103.5,258.7h0M1099.9,269.9h0M1150.8,270.7h0M1103.9,265.1h0M1097.7,278.4h0M1104.4,273.4h0M1119.8,265.1h0M1106.1,263.9h0M1099.8,280.1h0M1134.5,276.3h0M1134.7,274.2h0M1109.7,279.0h0M1112.6,272.3h0M1111.3,256.4h0M1129.5,279.7h0M1116.3,280.3h0M1106.0,246.9h0M1114.7,230.4h0M1116.4,229.5h0M1130.0,275.8h0M1124.6,261.7h0M1131.3,245.8h0M1113.2,280.1h0M1097.1,278.7h0M1097.1,278.5h0M1131.4,275.5h0M1137.3,278.4h0M1118.5,275.1h0M1136.9,271.9h0M1118.7,261.4h0M1127.6,273.1h0M1098.8,275.8h0M1102.6,260.9h0M1119.1,278.7h0M1113.8,276.3h0M1118.0,279.6h0M1131.1,264.8h0M1124.3,273.1h0M1102.2,280.4h0M1102.4,257.2h0M1129.9,278.9h0M1107.9,271.2h0M1124.9,279.4h0M1119.8,265.1h0M1137.9,263.2h0M1130.0,272.7h0M1125.8,270.8h0M1127.8,246.4h0M1129.7,257.7h0M1130.9,264.2h0M1097.4,274.6h0M1135.0,257.1h0M1145.6,250.8h0M1179.2,272.5h0M1128.0,278.0h0M1146.8,256.4h0M1134.9,271.8h0M1126.4,280.2h0M1105.0,278.0h0M1156.4,269.1h0M1126.6,255.7h0M1105.1,280.3h0M1127.6,275.5h0M1101.1,261.9h0M1106.0,276.7h0M1120.9,259.7h0M1107.6,267.9h0M1126.8,277.6h0M1105.3,252.3h0M1120.8,264.6h0M1108.2,260.4h0M1136.5,255.8h0M1116.6,269.2h0M1132.9,262.6h0M1099.4,270.6h0M1121.1,260.3h0M1129.0,266.3h0M1129.9,277.4h0M1110.2,262.2h0M1109.6,280.1h0M1104.8,262.3h0M1125.4,265.3h0M1099.5,273.4h0M1123.7,271.4h0M1111.3,260.7h0M1113.9,248.0h0M1105.4,263.0h0M1124.1,249.2h0M1133.7,277.4h0M1135.6,276.0h0M1098.8,256.5h0M1130.0,265.1h0M1114.2,280.2h0M1099.4,279.8h0M1141.2,260.5h0M1123.4,265.3h0M1110.0,253.3h0M1123.5,276.5h0M1114.0,258.4h0M1125.8,278.2h0M1111.2,250.6h0M1120.1,255.9h0M1145.3,272.3h0M1102.6,279.6h0M1116.6,280.3h0M1108.7,255.2h0M1128.5,274.4h0M1097.6,271.7h0M1116.3,250.1h0M1104.4,279.7h0M1104.6,261.6h0M1128.8,267.4h0M1118.7,264.6h0M1106.8,280.2h0M1129.3,280.0h0M1123.7,275.9h0M1133.4,275.9h0M1128.7,271.0h0M1124.3,274.9h0M1112.6,279.7h0M1127.0,275.7h0M1111.5,279.7h0M1137.0,277.7h0M1138.3,277.5h0M1105.7,268.9h0M1106.8,278.6h0M1114.9,279.6h0M1105.1,258.8h0M1136.2,280.0h0M1115.3,263.3h0M1109.9,226.3h0M1104.6,264.4h0M1109.9,262.6h0M1097.3,278.7h0M1126.3,280.0h0M1104.3,277.6h0M1140.1,266.8h0M1109.5,274.2h0M1111.6,280.5h0M1128.0,253.1h0M1117.5,263.5h0M1126.9,270.7h0M1108.7,260.8h0M1116.8,276.4h0M1103.1,280.5h0M1097.8,275.1h0M1127.9,260.7h0M1100.7,280.0h0M1105.5,257.6h0M1129.0,270.3h0M1122.1,268.3h0M1105.9,279.8h0M1139.9,280.1h0M1137.4,258.4h0M1128.0,280.1h0M1126.5,277.3h0M1099.7,276.6h0M1120.9,258.8h0M1114.6,279.9h0M1119.4,272.3h0M1116.8,259.6h0M1107.2,279.7h0M1139.2,260.6h0M1101.4,279.4h0M1108.5,259.2h0M1113.4,250.9h0M1144.0,278.6h0M1115.2,253.4h0M1119.5,266.6h0M1119.8,280.3h0M1104.0,256.1h0M1122.4,278.0h0M1137.2,262.7h0M1127.3,246.7h0M1105.5,280.4h0M1133.0,255.5h0M1113.8,274.0h0M1105.3,261.3h0M1098.8,275.0h0M1129.9,276.0h0M1106.4,275.8h0M1127.3,280.3h0M1127.3,278.2h0M1103.2,263.2h0M1126.8,275.7h0M1123.1,264.0h0M1105.8,249.1h0M1121.2,267.0h0M1123.2,276.8h0M1102.9,259.6h0M1144.8,266.1h0M1099.0,253.8h0M1130.8,235.8h0M1127.4,274.0h0M1125.7,263.9h0M1129.1,280.2h0M1123.6,277.3h0M1103.6,249.1h0M1140.8,229.7h0M1137.2,270.9h0M1097.5,280.4h0M1119.5,251.3h0M1140.1,268.1h0M1124.2,255.0h0M1117.9,260.5h0M1117.5,280.3h0M1106.8,276.0h0M1120.4,260.9h0M1101.1,269.2h0M1103.5,275.7h0M1103.3,267.8h0M1111.8,279.9h0M1120.3,263.8h0M1131.8,280.2h0M1132.0,277.0h0M1124.3,279.9h0M1123.7,258.7h0M1098.4,280.1h0M1103.5,262.0h0M1130.9,279.9h0M1112.5,258.7h0M1120.3,250.6h0M1115.0,279.9h0M1126.6,273.3h0M1125.9,275.6h0M1111.0,258.7h0M1121.7,260.9h0M1122.4,254.8h0M1131.0,270.8h0M1125.9,277.3h0M1109.3,280.2h0M1118.8,280.4h0M1121.7,280.3h0M1098.7,271.9h0M1118.8,261.6h0M1102.4,262.1h0M1132.7,275.9h0M1161.1,250.7h0M1135.8,249.9h0M1097.4,273.9h0M1112.9,271.7h0M1125.9,279.1h0M1124.2,277.3h0M1102.2,275.0h0M1104.8,262.4h0M1105.6,266.3h0M1115.7,279.8h0M1102.9,280.0h0M1105.6,279.9h0M1117.4,249.4h0M1113.9,261.9h0M1135.1,275.0h0M1110.5,280.1h0M1116.3,280.0h0M1117.3,280.4h0M1122.3,253.1h0M1117.7,265.7h0M1104.2,271.6h0M1110.1,273.7h0M1124.2,267.7h0M1134.5,267.9h0M1135.1,278.9h0M1125.9,277.9h0M1125.5,271.0h0M1135.5,280.5h0M1126.0,278.1h0M1123.9,277.2h0M1129.6,267.5h0M1112.8,274.7h0M1123.1,266.9h0M1128.3,269.9h0M1131.3,268.9h0M1099.3,269.2h0M1126.7,251.4h0M1123.8,279.8h0M1133.2,269.9h0M1108.8,260.4h0M1125.5,277.8h0M1124.7,270.8h0M1105.1,261.2h0M1101.2,272.3h0M1099.0,276.4h0M1104.6,279.8h0M1118.7,258.8h0M1111.0,276.2h0M1107.7,275.7h0M1108.0,280.0h0M1102.6,280.3h0M1100.8,280.5h0M1132.2,273.8h0M1134.1,269.5h0M1136.9,266.5h0M1102.7,261.1h0M1141.2,267.1h0M1116.3,261.2h0M1111.3,260.3h0M1097.1,278.5h0M1101.4,254.4h0M1106.9,246.3h0M1115.2,239.9h0M1101.2,280.3h0M1119.5,273.6h0M1130.4,263.9h0M1114.8,280.1h0M1122.5,261.5h0M1099.5,253.3h0M1111.1,279.0h0M1134.7,278.9h0M1128.0,272.3h0M1127.3,278.3h0M1119.5,255.6h0M1111.4,274.9h0M1113.6,268.6h0M1131.5,274.0h0M1127.9,280.4h0M1132.2,270.1h0M1125.6,275.2h0M1098.0,265.3h0M1135.7,259.5h0M1109.5,263.6h0M1135.1,280.0h0M1097.0,279.5h0M1101.9,263.4h0M1115.4,279.9h0M1107.5,280.1h0M1098.5,273.1h0M1122.2,230.8h0M1123.5,274.2h0M1100.4,260.8h0M1127.0,277.2h0M1126.1,266.2h0M1133.4,270.7h0M1115.5,275.5h0M1125.6,273.0h0M1113.0,280.3h0M1109.1,258.4h0M1136.6,279.3h0M1126.0,273.5h0M1130.5,273.0h0M1115.0,257.2h0M1135.1,275.2h0M1114.0,271.0h0M1108.3,258.7h0M1119.1,253.5h0M1119.6,270.4h0M1131.4,277.8h0M1116.1,279.9h0M1123.8,278.6h0M1126.2,275.8h0M1117.1,264.7h0M1103.8,253.6h0M1105.6,255.8h0M1130.6,263.4h0M1107.0,260.4h0M1097.2,280.0h0M1144.8,273.7h0M1103.2,263.8h0M1130.6,273.0h0M1149.9,255.5h0M1111.2,263.4h0M1111.3,271.2h0M1117.7,260.0h0M1103.6,280.3h0M1106.6,279.7h0M1099.4,255.6h0M1116.3,257.2h0M1120.9,256.0h0M1122.7,271.1h0M1120.4,259.1h0M1117.7,267.7h0M1129.2,272.2h0M1121.8,276.9h0M1145.4,260.3h0M1113.3,280.3h0M1101.6,263.8h0M1130.3,271.4h0M1121.2,279.8h0M1098.4,277.2h0M1145.9,269.8h0M1110.5,280.5h0M1129.4,272.3h0M1107.6,250.4h0M1118.0,253.6h0M1119.4,266.7h0M1123.2,259.8h0M1138.6,267.9h0M1116.2,253.1h0M1107.2,280.4h0M1107.3,255.7h0M1098.9,266.3h0M1131.1,269.6h0M1121.0,267.8h0M1117.3,280.0h0M1128.3,268.3h0M1121.2,242.8h0M1127.1,264.6h0M1117.3,271.1h0M1106.6,271.3h0M1112.9,240.6h0M1098.2,279.5h0M1134.5,277.2h0M1104.9,275.9h0M1119.7,280.2h0M1112.3,260.1h0M1137.5,280.0h0M1103.3,271.0h0M1121.0,255.3h0M1100.0,279.8h0M1104.2,280.1h0M1104.1,259.2h0M1106.9,280.4h0M1124.2,279.8h0M1139.9,268.1h0M1105.7,278.1h0M1113.6,280.5h0M1130.4,273.1h0M1124.0,274.9h0M1113.9,266.9h0M1101.7,265.9h0M1124.5,271.0h0M1112.8,276.2h0M1097.7,270.9h0M1135.4,279.8h0M1099.5,279.2h0M1120.8,252.4h0M1108.2,279.8h0M1119.1,280.0h0M1116.2,254.6h0M1104.2,247.1h0M1124.4,261.4h0M1113.4,263.6h0M1138.3,263.1h0M1112.5,258.8h0M1110.4,262.2h0M1139.1,263.4h0M1124.5,256.9h0M1147.3,254.2h0M1142.4,276.4h0M1128.3,256.1h0M1148.6,270.6h0M1106.5,280.2h0M1127.4,272.7h0M1124.9,269.7h0M1125.8,256.6h0M1103.7,265.5h0M1119.7,265.0h0M1115.8,261.7h0M1135.0,228.3h0M1115.6,254.1h0M1110.2,235.3h0M1138.9,280.4h0M1099.5,272.8h0M1100.4,268.8h0M1105.3,280.4h0M1133.9,273.7h0M1138.2,278.0h0M1100.0,280.2h0M1123.6,260.2h0M1125.1,276.7h0M1122.5,260.9h0M1107.8,280.0h0M1131.9,280.1h0M1117.2,249.1h0M1111.5,279.1h0M1128.5,275.0h0M1118.3,258.0h0M1123.1,269.6h0M1102.9,279.9h0M1101.2,248.2h0M1128.2,280.5h0M1126.7,279.8h0M1112.7,278.4h0M1123.3,261.9h0M1127.0,224.9h0M1099.5,279.8h0M1120.9,277.0h0M1113.6,251.5h0M1102.6,264.1h0M1118.3,265.9h0M1130.8,240.3h0M1136.4,273.4h0M1115.5,278.5h0M1108.9,260.2h0M1115.3,279.3h0M1119.6,266.6h0M1106.0,280.0h0M1129.1,265.3h0M1110.4,280.1h0M1099.0,272.6h0M1106.6,280.4h0M1114.8,280.2h0M1106.8,280.3h0M1097.2,276.4h0M1102.0,280.0h0M1105.3,280.1h0M1123.6,278.5h0M1128.8,279.7h0M1125.5,270.8h0M1148.1,278.1h0M1146.5,274.9h0M1152.2,265.4h0M1151.3,274.7h0M1144.8,277.5h0M1139.4,269.6h0M1142.0,279.8h0M1136.6,278.1h0M1155.9,251.9h0M1144.9,276.5h0M1157.7,279.9h0M1144.0,275.2h0M1133.3,276.8h0M1145.8,279.0h0M1153.6,258.1h0M1142.5,275.0h0M1164.7,272.2h0M1153.0,279.3h0M1132.1,279.4h0M1138.4,265.2h0M1136.2,277.1h0M1140.1,273.7h0M1151.4,278.5h0M1163.5,264.5h0M1163.7,277.6h0M1142.2,279.9h0M1136.4,275.8h0M1155.3,263.2h0M1141.4,268.5h0M1140.5,268.0h0M1140.8,265.9h0M1135.6,278.1h0M1150.2,266.8h0M1146.4,273.1h0M1147.3,260.6h0M1149.9,278.3h0M1135.6,276.3h0M1151.5,269.4h0M1164.7,265.5h0M1143.0,270.3h0M1134.4,276.4h0M1145.4,272.8h0M1160.8,276.1h0M1159.0,275.7h0M1146.7,258.3h0M1146.1,276.4h0M1152.8,279.8h0M1131.4,269.7h0M1154.1,270.6h0M1150.0,261.6h0M1153.2,274.2h0M1141.4,242.7h0M1137.6,252.3h0M1132.5,276.7h0M1159.1,267.2h0M1142.2,276.3h0M1142.4,261.3h0M1125.1,233.4h0M1128.6,248.2h0M1112.3,230.4h0M1132.0,243.0h0M1130.5,245.2h0M1120.7,252.4h0M1109.8,248.8h0M1111.9,229.8h0M1130.3,239.0h0M1128.2,247.5h0M1122.9,229.7h0M1116.0,229.0h0M1132.9,242.1h0M1113.0,247.3h0M1131.6,252.2h0M1123.9,245.6h0M1105.1,253.3h0M1118.6,234.1h0M1112.6,241.9h0M1131.4,230.7h0M1129.7,250.5h0M1129.4,240.5h0M1127.5,236.6h0M1109.3,243.1h0M1107.2,236.9h0M1169.5,62.9h0M1157.3,138.6h0M1136.2,171.7h0M1170.6,213.1h0M1185.0,239.1h0M1196.0,242.7h0M1206.0,275.8h0M1190.5,268.2h0M1181.6,264.0h0M1166.1,233.2h0M1178.3,263.5h0M1141.8,206.0h0M1134.0,196.5h0M1128.5,201.3h0M1111.8,201.3h0M1180.5,278.2h0" stroke="#d82b32" stroke-width="1.9" stroke-linecap="round" fill="none"/>
<rect x="960.1" y="49.8" width="265.9" height="263.7" fill="none" stroke="#777" stroke-width=".8"/>
<text x="960.0" y="323.6" font-size="6.6" text-anchor="middle">−6</text>
<text x="1004.4" y="323.6" font-size="6.6" text-anchor="middle">−4</text>
<text x="1048.7" y="323.6" font-size="6.6" text-anchor="middle">−2</text>
<text x="1093.0" y="323.6" font-size="6.6" text-anchor="middle">0</text>
<text x="1137.3" y="323.6" font-size="6.6" text-anchor="middle">2</text>
<text x="1181.6" y="323.6" font-size="6.6" text-anchor="middle">4</text>
<text x="1226.0" y="323.6" font-size="6.6" text-anchor="middle">6</text>
<text x="955.5" y="313.5" font-size="6.6" text-anchor="end">0</text>
<text x="955.5" y="266.2" font-size="6.6" text-anchor="end">2</text>
<text x="955.5" y="218.9" font-size="6.6" text-anchor="end">4</text>
<text x="955.5" y="171.5" font-size="6.6" text-anchor="end">6</text>
<text x="955.5" y="124.2" font-size="6.6" text-anchor="end">8</text>
<text x="955.5" y="76.9" font-size="6.6" text-anchor="end">10</text>
<path d="M960.0,313.5v2M1004.4,313.5v2M1048.7,313.5v2M1093.0,313.5v2M1137.3,313.5v2M1181.6,313.5v2M1226.0,313.5v2M960.1,311.3h-2M960.1,264.0h-2M960.1,216.7h-2M960.1,169.3h-2M960.1,122.0h-2M960.1,74.7h-2" stroke="#444" stroke-width=".7" fill="none"/>
<text x="1093" y="334.3" font-size="9.5" text-anchor="middle">LN vs QN_log2FoldChange</text>
<text transform="translate(945.3,182) rotate(-90)" font-size="9.5" text-anchor="middle">-log10(P)</text>
<circle cx="971.6" cy="32.4" r="1.9" fill="#3a7bb7"/><circle cx="1077.5" cy="32.4" r="1.9" fill="#bebebe"/><circle cx="1175.9" cy="32.4" r="1.9" fill="#d82b32"/>
<text x="982.5" y="34.4" font-size="5.9">Down regulated</text><text x="1088.7" y="34.4" font-size="5.9">Not changed</text><text x="1185.8" y="34.4" font-size="5.9">Up regulated</text>
</g>
<text x="931" y="43.8" font-family="'Liberation Serif',serif" font-weight="bold" font-size="19.5">A</text>
<g shape-rendering="crispEdges">
<rect x="1292.9" y="43.6" width="194.3" height="271.5" fill="#d8d8ee"/>
<path d="M1292.9,43.60h21.6v2.47h-21.6zM1357.7,50.87h21.6v2.47h-21.6zM1314.5,99.35h21.6v2.47h-21.6zM1314.5,116.32h21.6v2.47h-21.6zM1465.6,130.87h21.6v2.47h-21.6zM1400.8,208.44h21.6v2.47h-21.6z" fill="#ef7a7a"/>
<path d="M1314.5,43.60h21.6v2.47h-21.6zM1336.1,46.02h21.6v2.47h-21.6zM1314.5,48.45h21.6v2.47h-21.6zM1379.3,55.72h21.6v2.47h-21.6zM1292.9,58.14h21.6v2.47h-21.6zM1314.5,58.14h21.6v2.47h-21.6zM1379.3,60.57h21.6v2.47h-21.6zM1379.3,65.42h21.6v2.47h-21.6zM1314.5,72.69h21.6v2.47h-21.6zM1314.5,75.11h21.6v2.47h-21.6zM1336.1,77.54h21.6v2.47h-21.6zM1292.9,79.96h21.6v2.47h-21.6zM1292.9,82.39h21.6v2.47h-21.6zM1357.7,82.39h21.6v2.47h-21.6zM1357.7,87.23h21.6v2.47h-21.6zM1292.9,99.35h21.6v2.47h-21.6zM1357.7,99.35h21.6v2.47h-21.6zM1292.9,101.78h21.6v2.47h-21.6zM1357.7,101.78h21.6v2.47h-21.6zM1292.9,104.20h21.6v2.47h-21.6zM1292.9,111.47h21.6v2.47h-21.6zM1379.3,113.90h21.6v2.47h-21.6zM1379.3,116.32h21.6v2.47h-21.6zM1422.4,126.02h21.6v2.47h-21.6zM1400.8,135.72h21.6v2.47h-21.6zM1400.8,159.96h21.6v2.47h-21.6zM1400.8,169.65h21.6v2.47h-21.6zM1422.4,179.35h21.6v2.47h-21.6zM1422.4,184.20h21.6v2.47h-21.6zM1422.4,189.05h21.6v2.47h-21.6zM1422.4,193.89h21.6v2.47h-21.6zM1422.4,196.32h21.6v2.47h-21.6zM1422.4,220.56h21.6v2.47h-21.6zM1422.4,222.98h21.6v2.47h-21.6zM1444.0,232.68h21.6v2.47h-21.6zM1444.0,242.38h21.6v2.47h-21.6zM1422.4,249.65h21.6v2.47h-21.6zM1444.0,249.65h21.6v2.47h-21.6zM1422.4,254.50h21.6v2.47h-21.6zM1444.0,254.50h21.6v2.47h-21.6zM1444.0,256.92h21.6v2.47h-21.6zM1444.0,266.62h21.6v2.47h-21.6zM1422.4,307.83h21.6v2.47h-21.6z" fill="#f9c6c6"/>
<path d="M1336.1,43.60h21.6v2.47h-21.6zM1314.5,53.30h21.6v2.47h-21.6zM1314.5,60.57h21.6v2.47h-21.6zM1314.5,62.99h21.6v2.47h-21.6zM1357.7,79.96h21.6v2.47h-21.6zM1314.5,84.81h21.6v2.47h-21.6zM1292.9,92.08h21.6v2.47h-21.6zM1314.5,92.08h21.6v2.47h-21.6zM1314.5,94.51h21.6v2.47h-21.6zM1357.7,104.20h21.6v2.47h-21.6zM1379.3,104.20h21.6v2.47h-21.6zM1357.7,111.47h21.6v2.47h-21.6zM1444.0,118.75h21.6v2.47h-21.6zM1444.0,123.60h21.6v2.47h-21.6zM1444.0,126.02h21.6v2.47h-21.6zM1444.0,128.44h21.6v2.47h-21.6zM1422.4,133.29h21.6v2.47h-21.6zM1444.0,133.29h21.6v2.47h-21.6zM1422.4,140.56h21.6v2.47h-21.6zM1422.4,150.26h21.6v2.47h-21.6zM1292.9,152.68h21.6v2.47h-21.6zM1336.1,152.68h21.6v2.47h-21.6zM1422.4,152.68h21.6v2.47h-21.6zM1400.8,157.53h21.6v2.47h-21.6zM1444.0,159.96h21.6v2.47h-21.6zM1400.8,164.81h21.6v2.47h-21.6zM1336.1,169.65h21.6v2.47h-21.6zM1379.3,191.47h21.6v2.47h-21.6zM1465.6,198.74h21.6v2.47h-21.6zM1465.6,206.02h21.6v2.47h-21.6zM1336.1,208.44h21.6v2.47h-21.6zM1379.3,208.44h21.6v2.47h-21.6zM1379.3,210.86h21.6v2.47h-21.6zM1444.0,210.86h21.6v2.47h-21.6zM1465.6,213.29h21.6v2.47h-21.6zM1444.0,215.71h21.6v2.47h-21.6zM1465.6,222.98h21.6v2.47h-21.6zM1444.0,227.83h21.6v2.47h-21.6zM1379.3,242.38h21.6v2.47h-21.6zM1292.9,252.07h21.6v2.47h-21.6zM1379.3,252.07h21.6v2.47h-21.6zM1422.4,256.92h21.6v2.47h-21.6zM1379.3,259.35h21.6v2.47h-21.6zM1444.0,259.35h21.6v2.47h-21.6zM1422.4,261.77h21.6v2.47h-21.6zM1379.3,264.19h21.6v2.47h-21.6zM1336.1,266.62h21.6v2.47h-21.6zM1422.4,266.62h21.6v2.47h-21.6zM1336.1,271.47h21.6v2.47h-21.6zM1336.1,276.31h21.6v2.47h-21.6zM1444.0,276.31h21.6v2.47h-21.6zM1379.3,278.74h21.6v2.47h-21.6zM1336.1,281.16h21.6v2.47h-21.6zM1444.0,288.43h21.6v2.47h-21.6zM1379.3,290.86h21.6v2.47h-21.6zM1336.1,298.13h21.6v2.47h-21.6zM1379.3,298.13h21.6v2.47h-21.6zM1379.3,300.56h21.6v2.47h-21.6zM1379.3,305.40h21.6v2.47h-21.6zM1379.3,307.83h21.6v2.47h-21.6zM1357.7,312.68h21.6v2.47h-21.6z" fill="#ffffff"/>
<path d="M1357.7,43.60h21.6v2.47h-21.6zM1336.1,60.57h21.6v2.47h-21.6zM1379.3,62.99h21.6v2.47h-21.6zM1379.3,72.69h21.6v2.47h-21.6zM1336.1,82.39h21.6v2.47h-21.6zM1314.5,113.90h21.6v2.47h-21.6zM1400.8,121.17h21.6v2.47h-21.6zM1400.8,126.02h21.6v2.47h-21.6zM1465.6,133.29h21.6v2.47h-21.6zM1422.4,218.14h21.6v2.47h-21.6zM1422.4,225.41h21.6v2.47h-21.6zM1422.4,230.26h21.6v2.47h-21.6zM1422.4,237.53h21.6v2.47h-21.6z" fill="#f18d8d"/>
<path d="M1379.3,43.60h21.6v2.47h-21.6zM1400.8,46.02h21.6v2.47h-21.6zM1465.6,46.02h21.6v2.47h-21.6zM1422.4,48.45h21.6v2.47h-21.6zM1422.4,50.87h21.6v2.47h-21.6zM1422.4,60.57h21.6v2.47h-21.6zM1444.0,60.57h21.6v2.47h-21.6zM1400.8,62.99h21.6v2.47h-21.6zM1357.7,67.84h21.6v2.47h-21.6zM1465.6,67.84h21.6v2.47h-21.6zM1422.4,72.69h21.6v2.47h-21.6zM1444.0,72.69h21.6v2.47h-21.6zM1465.6,72.69h21.6v2.47h-21.6zM1422.4,82.39h21.6v2.47h-21.6zM1465.6,82.39h21.6v2.47h-21.6zM1465.6,84.81h21.6v2.47h-21.6zM1400.8,87.23h21.6v2.47h-21.6zM1465.6,87.23h21.6v2.47h-21.6zM1444.0,94.51h21.6v2.47h-21.6zM1444.0,96.93h21.6v2.47h-21.6zM1422.4,99.35h21.6v2.47h-21.6zM1444.0,99.35h21.6v2.47h-21.6zM1444.0,101.78h21.6v2.47h-21.6zM1422.4,104.20h21.6v2.47h-21.6zM1465.6,104.20h21.6v2.47h-21.6zM1422.4,109.05h21.6v2.47h-21.6zM1444.0,116.32h21.6v2.47h-21.6zM1465.6,116.32h21.6v2.47h-21.6zM1314.5,118.75h21.6v2.47h-21.6zM1357.7,118.75h21.6v2.47h-21.6zM1314.5,121.17h21.6v2.47h-21.6zM1336.1,121.17h21.6v2.47h-21.6zM1379.3,121.17h21.6v2.47h-21.6zM1357.7,126.02h21.6v2.47h-21.6zM1314.5,128.44h21.6v2.47h-21.6zM1336.1,128.44h21.6v2.47h-21.6zM1357.7,128.44h21.6v2.47h-21.6zM1379.3,128.44h21.6v2.47h-21.6zM1314.5,130.87h21.6v2.47h-21.6zM1357.7,130.87h21.6v2.47h-21.6zM1379.3,130.87h21.6v2.47h-21.6zM1292.9,133.29h21.6v2.47h-21.6zM1314.5,138.14h21.6v2.47h-21.6zM1336.1,140.56h21.6v2.47h-21.6zM1379.3,140.56h21.6v2.47h-21.6zM1379.3,142.99h21.6v2.47h-21.6zM1465.6,145.41h21.6v2.47h-21.6zM1314.5,147.84h21.6v2.47h-21.6zM1357.7,147.84h21.6v2.47h-21.6zM1314.5,150.26h21.6v2.47h-21.6zM1292.9,155.11h21.6v2.47h-21.6zM1379.3,155.11h21.6v2.47h-21.6zM1336.1,159.96h21.6v2.47h-21.6zM1357.7,167.23h21.6v2.47h-21.6zM1357.7,169.65h21.6v2.47h-21.6zM1292.9,172.08h21.6v2.47h-21.6zM1292.9,174.50h21.6v2.47h-21.6zM1336.1,174.50h21.6v2.47h-21.6zM1357.7,174.50h21.6v2.47h-21.6zM1314.5,176.93h21.6v2.47h-21.6zM1336.1,176.93h21.6v2.47h-21.6zM1292.9,179.35h21.6v2.47h-21.6zM1336.1,179.35h21.6v2.47h-21.6zM1379.3,181.77h21.6v2.47h-21.6zM1314.5,184.20h21.6v2.47h-21.6zM1336.1,184.20h21.6v2.47h-21.6zM1357.7,184.20h21.6v2.47h-21.6zM1336.1,186.62h21.6v2.47h-21.6zM1314.5,189.05h21.6v2.47h-21.6zM1357.7,189.05h21.6v2.47h-21.6zM1379.3,189.05h21.6v2.47h-21.6zM1314.5,193.89h21.6v2.47h-21.6zM1336.1,193.89h21.6v2.47h-21.6zM1336.1,198.74h21.6v2.47h-21.6zM1357.7,198.74h21.6v2.47h-21.6zM1314.5,201.17h21.6v2.47h-21.6zM1336.1,201.17h21.6v2.47h-21.6zM1336.1,206.02h21.6v2.47h-21.6zM1292.9,210.86h21.6v2.47h-21.6zM1336.1,213.29h21.6v2.47h-21.6zM1357.7,213.29h21.6v2.47h-21.6zM1292.9,218.14h21.6v2.47h-21.6zM1357.7,218.14h21.6v2.47h-21.6zM1292.9,222.98h21.6v2.47h-21.6zM1314.5,222.98h21.6v2.47h-21.6zM1336.1,222.98h21.6v2.47h-21.6zM1314.5,225.41h21.6v2.47h-21.6zM1314.5,230.26h21.6v2.47h-21.6zM1357.7,230.26h21.6v2.47h-21.6zM1314.5,235.10h21.6v2.47h-21.6zM1357.7,235.10h21.6v2.47h-21.6zM1336.1,237.53h21.6v2.47h-21.6zM1357.7,237.53h21.6v2.47h-21.6zM1314.5,239.95h21.6v2.47h-21.6zM1357.7,239.95h21.6v2.47h-21.6zM1357.7,242.38h21.6v2.47h-21.6zM1465.6,242.38h21.6v2.47h-21.6zM1314.5,249.65h21.6v2.47h-21.6zM1357.7,249.65h21.6v2.47h-21.6zM1465.6,252.07h21.6v2.47h-21.6zM1314.5,254.50h21.6v2.47h-21.6zM1357.7,254.50h21.6v2.47h-21.6zM1357.7,256.92h21.6v2.47h-21.6zM1465.6,256.92h21.6v2.47h-21.6zM1292.9,261.77h21.6v2.47h-21.6zM1292.9,264.19h21.6v2.47h-21.6zM1357.7,264.19h21.6v2.47h-21.6zM1292.9,271.47h21.6v2.47h-21.6zM1314.5,271.47h21.6v2.47h-21.6zM1314.5,273.89h21.6v2.47h-21.6zM1357.7,276.31h21.6v2.47h-21.6zM1357.7,281.16h21.6v2.47h-21.6zM1465.6,281.16h21.6v2.47h-21.6zM1465.6,283.59h21.6v2.47h-21.6zM1292.9,286.01h21.6v2.47h-21.6zM1465.6,286.01h21.6v2.47h-21.6zM1357.7,288.43h21.6v2.47h-21.6zM1465.6,288.43h21.6v2.47h-21.6zM1314.5,293.28h21.6v2.47h-21.6zM1357.7,293.28h21.6v2.47h-21.6zM1465.6,293.28h21.6v2.47h-21.6zM1357.7,298.13h21.6v2.47h-21.6zM1357.7,300.56h21.6v2.47h-21.6zM1465.6,305.40h21.6v2.47h-21.6zM1314.5,307.83h21.6v2.47h-21.6zM1357.7,307.83h21.6v2.47h-21.6zM1465.6,307.83h21.6v2.47h-21.6zM1357.7,310.25h21.6v2.47h-21.6zM1465.6,312.68h21.6v2.47h-21.6z" fill="#b0b1d8"/>
<path d="M1400.8,43.60h21.6v2.47h-21.6zM1444.0,43.60h21.6v2.47h-21.6zM1422.4,46.02h21.6v2.47h-21.6zM1400.8,48.45h21.6v2.47h-21.6zM1400.8,50.87h21.6v2.47h-21.6zM1422.4,55.72h21.6v2.47h-21.6zM1444.0,55.72h21.6v2.47h-21.6zM1422.4,58.14h21.6v2.47h-21.6zM1444.0,58.14h21.6v2.47h-21.6zM1422.4,62.99h21.6v2.47h-21.6zM1400.8,75.11h21.6v2.47h-21.6zM1422.4,75.11h21.6v2.47h-21.6zM1400.8,82.39h21.6v2.47h-21.6zM1444.0,82.39h21.6v2.47h-21.6zM1444.0,84.81h21.6v2.47h-21.6zM1444.0,87.23h21.6v2.47h-21.6zM1400.8,89.66h21.6v2.47h-21.6zM1400.8,92.08h21.6v2.47h-21.6zM1400.8,94.51h21.6v2.47h-21.6zM1400.8,96.93h21.6v2.47h-21.6zM1422.4,101.78h21.6v2.47h-21.6zM1444.0,104.20h21.6v2.47h-21.6zM1444.0,109.05h21.6v2.47h-21.6zM1422.4,111.47h21.6v2.47h-21.6zM1444.0,111.47h21.6v2.47h-21.6zM1465.6,113.90h21.6v2.47h-21.6zM1357.7,123.60h21.6v2.47h-21.6zM1336.1,126.02h21.6v2.47h-21.6zM1357.7,133.29h21.6v2.47h-21.6zM1314.5,172.08h21.6v2.47h-21.6zM1336.1,172.08h21.6v2.47h-21.6zM1292.9,181.77h21.6v2.47h-21.6zM1314.5,181.77h21.6v2.47h-21.6zM1292.9,186.62h21.6v2.47h-21.6zM1336.1,189.05h21.6v2.47h-21.6zM1465.6,193.89h21.6v2.47h-21.6zM1336.1,196.32h21.6v2.47h-21.6zM1314.5,198.74h21.6v2.47h-21.6zM1292.9,206.02h21.6v2.47h-21.6zM1292.9,213.29h21.6v2.47h-21.6zM1314.5,218.14h21.6v2.47h-21.6zM1357.7,222.98h21.6v2.47h-21.6zM1314.5,227.83h21.6v2.47h-21.6zM1314.5,237.53h21.6v2.47h-21.6zM1357.7,247.22h21.6v2.47h-21.6zM1336.1,249.65h21.6v2.47h-21.6zM1357.7,271.47h21.6v2.47h-21.6zM1465.6,278.74h21.6v2.47h-21.6zM1314.5,288.43h21.6v2.47h-21.6zM1465.6,302.98h21.6v2.47h-21.6z" fill="#9c9ece"/>
<path d="M1422.4,43.60h21.6v2.47h-21.6zM1465.6,43.60h21.6v2.47h-21.6zM1379.3,48.45h21.6v2.47h-21.6zM1314.5,50.87h21.6v2.47h-21.6zM1465.6,50.87h21.6v2.47h-21.6zM1465.6,53.30h21.6v2.47h-21.6zM1465.6,62.99h21.6v2.47h-21.6zM1336.1,65.42h21.6v2.47h-21.6zM1357.7,65.42h21.6v2.47h-21.6zM1422.4,65.42h21.6v2.47h-21.6zM1465.6,65.42h21.6v2.47h-21.6zM1336.1,67.84h21.6v2.47h-21.6zM1422.4,67.84h21.6v2.47h-21.6zM1357.7,75.11h21.6v2.47h-21.6zM1357.7,77.54h21.6v2.47h-21.6zM1422.4,77.54h21.6v2.47h-21.6zM1422.4,84.81h21.6v2.47h-21.6zM1422.4,87.23h21.6v2.47h-21.6zM1422.4,89.66h21.6v2.47h-21.6zM1336.1,92.08h21.6v2.47h-21.6zM1422.4,92.08h21.6v2.47h-21.6zM1465.6,101.78h21.6v2.47h-21.6zM1357.7,106.63h21.6v2.47h-21.6zM1444.0,106.63h21.6v2.47h-21.6zM1465.6,106.63h21.6v2.47h-21.6zM1465.6,111.47h21.6v2.47h-21.6zM1422.4,116.32h21.6v2.47h-21.6zM1379.3,118.75h21.6v2.47h-21.6zM1292.9,123.60h21.6v2.47h-21.6zM1336.1,123.60h21.6v2.47h-21.6zM1336.1,133.29h21.6v2.47h-21.6zM1379.3,135.72h21.6v2.47h-21.6zM1336.1,138.14h21.6v2.47h-21.6zM1379.3,138.14h21.6v2.47h-21.6zM1314.5,140.56h21.6v2.47h-21.6zM1465.6,140.56h21.6v2.47h-21.6zM1314.5,142.99h21.6v2.47h-21.6zM1314.5,145.41h21.6v2.47h-21.6zM1336.1,145.41h21.6v2.47h-21.6zM1379.3,145.41h21.6v2.47h-21.6zM1292.9,147.84h21.6v2.47h-21.6zM1336.1,147.84h21.6v2.47h-21.6zM1465.6,147.84h21.6v2.47h-21.6zM1465.6,150.26h21.6v2.47h-21.6zM1357.7,152.68h21.6v2.47h-21.6zM1314.5,155.11h21.6v2.47h-21.6zM1465.6,155.11h21.6v2.47h-21.6zM1292.9,157.53h21.6v2.47h-21.6zM1357.7,157.53h21.6v2.47h-21.6zM1379.3,157.53h21.6v2.47h-21.6zM1357.7,159.96h21.6v2.47h-21.6zM1292.9,162.38h21.6v2.47h-21.6zM1336.1,162.38h21.6v2.47h-21.6zM1465.6,164.81h21.6v2.47h-21.6zM1336.1,167.23h21.6v2.47h-21.6zM1379.3,172.08h21.6v2.47h-21.6zM1292.9,176.93h21.6v2.47h-21.6zM1379.3,176.93h21.6v2.47h-21.6zM1379.3,179.35h21.6v2.47h-21.6zM1465.6,179.35h21.6v2.47h-21.6zM1379.3,184.20h21.6v2.47h-21.6zM1314.5,191.47h21.6v2.47h-21.6zM1357.7,191.47h21.6v2.47h-21.6zM1292.9,193.89h21.6v2.47h-21.6zM1314.5,203.59h21.6v2.47h-21.6zM1314.5,210.86h21.6v2.47h-21.6zM1314.5,213.29h21.6v2.47h-21.6zM1336.1,215.71h21.6v2.47h-21.6zM1336.1,218.14h21.6v2.47h-21.6zM1465.6,218.14h21.6v2.47h-21.6zM1292.9,220.56h21.6v2.47h-21.6zM1314.5,220.56h21.6v2.47h-21.6zM1357.7,220.56h21.6v2.47h-21.6zM1465.6,220.56h21.6v2.47h-21.6zM1379.3,225.41h21.6v2.47h-21.6zM1465.6,225.41h21.6v2.47h-21.6zM1336.1,227.83h21.6v2.47h-21.6zM1336.1,230.26h21.6v2.47h-21.6zM1465.6,230.26h21.6v2.47h-21.6zM1336.1,235.10h21.6v2.47h-21.6zM1465.6,235.10h21.6v2.47h-21.6zM1292.9,237.53h21.6v2.47h-21.6zM1379.3,237.53h21.6v2.47h-21.6zM1465.6,237.53h21.6v2.47h-21.6zM1336.1,239.95h21.6v2.47h-21.6zM1336.1,242.38h21.6v2.47h-21.6zM1314.5,244.80h21.6v2.47h-21.6zM1336.1,244.80h21.6v2.47h-21.6zM1465.6,244.80h21.6v2.47h-21.6zM1314.5,247.22h21.6v2.47h-21.6zM1336.1,247.22h21.6v2.47h-21.6zM1465.6,247.22h21.6v2.47h-21.6zM1379.3,249.65h21.6v2.47h-21.6zM1465.6,249.65h21.6v2.47h-21.6zM1357.7,252.07h21.6v2.47h-21.6zM1292.9,254.50h21.6v2.47h-21.6zM1336.1,254.50h21.6v2.47h-21.6zM1292.9,256.92h21.6v2.47h-21.6zM1314.5,256.92h21.6v2.47h-21.6zM1379.3,256.92h21.6v2.47h-21.6zM1314.5,259.35h21.6v2.47h-21.6zM1314.5,264.19h21.6v2.47h-21.6zM1336.1,264.19h21.6v2.47h-21.6zM1357.7,266.62h21.6v2.47h-21.6zM1465.6,266.62h21.6v2.47h-21.6zM1314.5,269.04h21.6v2.47h-21.6zM1357.7,269.04h21.6v2.47h-21.6zM1336.1,273.89h21.6v2.47h-21.6zM1357.7,273.89h21.6v2.47h-21.6zM1314.5,278.74h21.6v2.47h-21.6zM1444.0,278.74h21.6v2.47h-21.6zM1314.5,281.16h21.6v2.47h-21.6zM1444.0,281.16h21.6v2.47h-21.6zM1336.1,283.59h21.6v2.47h-21.6zM1357.7,283.59h21.6v2.47h-21.6zM1444.0,283.59h21.6v2.47h-21.6zM1357.7,286.01h21.6v2.47h-21.6zM1379.3,286.01h21.6v2.47h-21.6zM1292.9,295.71h21.6v2.47h-21.6zM1379.3,295.71h21.6v2.47h-21.6zM1292.9,298.13h21.6v2.47h-21.6zM1465.6,298.13h21.6v2.47h-21.6zM1336.1,302.98h21.6v2.47h-21.6zM1379.3,302.98h21.6v2.47h-21.6zM1314.5,305.40h21.6v2.47h-21.6zM1465.6,310.25h21.6v2.47h-21.6zM1292.9,312.68h21.6v2.47h-21.6zM1314.5,312.68h21.6v2.47h-21.6zM1444.0,312.68h21.6v2.47h-21.6z" fill="#d8d8ed"/>
<path d="M1292.9,46.02h21.6v2.47h-21.6zM1357.7,46.02h21.6v2.47h-21.6zM1292.9,48.45h21.6v2.47h-21.6zM1357.7,48.45h21.6v2.47h-21.6zM1357.7,53.30h21.6v2.47h-21.6zM1357.7,92.08h21.6v2.47h-21.6zM1357.7,94.51h21.6v2.47h-21.6zM1314.5,96.93h21.6v2.47h-21.6zM1336.1,113.90h21.6v2.47h-21.6zM1336.1,116.32h21.6v2.47h-21.6zM1400.8,130.87h21.6v2.47h-21.6zM1400.8,133.29h21.6v2.47h-21.6zM1444.0,174.50h21.6v2.47h-21.6zM1444.0,176.93h21.6v2.47h-21.6zM1444.0,184.20h21.6v2.47h-21.6zM1400.8,191.47h21.6v2.47h-21.6zM1444.0,191.47h21.6v2.47h-21.6zM1444.0,193.89h21.6v2.47h-21.6zM1400.8,203.59h21.6v2.47h-21.6zM1422.4,206.02h21.6v2.47h-21.6zM1422.4,208.44h21.6v2.47h-21.6zM1422.4,210.86h21.6v2.47h-21.6zM1400.8,213.29h21.6v2.47h-21.6z" fill="#ec6868"/>
<path d="M1314.5,46.02h21.6v2.47h-21.6zM1336.1,53.30h21.6v2.47h-21.6zM1336.1,55.72h21.6v2.47h-21.6zM1336.1,58.14h21.6v2.47h-21.6zM1379.3,70.27h21.6v2.47h-21.6zM1292.9,75.11h21.6v2.47h-21.6zM1314.5,77.54h21.6v2.47h-21.6zM1336.1,84.81h21.6v2.47h-21.6zM1422.4,128.44h21.6v2.47h-21.6zM1422.4,176.93h21.6v2.47h-21.6zM1422.4,227.83h21.6v2.47h-21.6zM1422.4,232.68h21.6v2.47h-21.6zM1444.0,239.95h21.6v2.47h-21.6z" fill="#f3a0a0"/>
<path d="M1379.3,46.02h21.6v2.47h-21.6zM1444.0,50.87h21.6v2.47h-21.6zM1444.0,53.30h21.6v2.47h-21.6zM1465.6,55.72h21.6v2.47h-21.6zM1465.6,58.14h21.6v2.47h-21.6zM1400.8,65.42h21.6v2.47h-21.6zM1444.0,65.42h21.6v2.47h-21.6zM1400.8,67.84h21.6v2.47h-21.6zM1336.1,70.27h21.6v2.47h-21.6zM1400.8,70.27h21.6v2.47h-21.6zM1422.4,70.27h21.6v2.47h-21.6zM1444.0,70.27h21.6v2.47h-21.6zM1465.6,70.27h21.6v2.47h-21.6zM1444.0,75.11h21.6v2.47h-21.6zM1465.6,75.11h21.6v2.47h-21.6zM1465.6,77.54h21.6v2.47h-21.6zM1465.6,79.96h21.6v2.47h-21.6zM1465.6,89.66h21.6v2.47h-21.6zM1444.0,92.08h21.6v2.47h-21.6zM1465.6,92.08h21.6v2.47h-21.6zM1422.4,94.51h21.6v2.47h-21.6zM1422.4,106.63h21.6v2.47h-21.6zM1357.7,116.32h21.6v2.47h-21.6zM1336.1,118.75h21.6v2.47h-21.6zM1314.5,123.60h21.6v2.47h-21.6zM1314.5,126.02h21.6v2.47h-21.6zM1292.9,128.44h21.6v2.47h-21.6zM1292.9,130.87h21.6v2.47h-21.6zM1336.1,130.87h21.6v2.47h-21.6zM1314.5,133.29h21.6v2.47h-21.6zM1314.5,135.72h21.6v2.47h-21.6zM1336.1,135.72h21.6v2.47h-21.6zM1357.7,135.72h21.6v2.47h-21.6zM1357.7,138.14h21.6v2.47h-21.6zM1292.9,140.56h21.6v2.47h-21.6zM1357.7,140.56h21.6v2.47h-21.6zM1357.7,142.99h21.6v2.47h-21.6zM1292.9,145.41h21.6v2.47h-21.6zM1357.7,145.41h21.6v2.47h-21.6zM1379.3,147.84h21.6v2.47h-21.6zM1292.9,150.26h21.6v2.47h-21.6zM1336.1,150.26h21.6v2.47h-21.6zM1357.7,150.26h21.6v2.47h-21.6zM1379.3,150.26h21.6v2.47h-21.6zM1314.5,152.68h21.6v2.47h-21.6zM1465.6,152.68h21.6v2.47h-21.6zM1357.7,155.11h21.6v2.47h-21.6zM1314.5,157.53h21.6v2.47h-21.6zM1336.1,157.53h21.6v2.47h-21.6zM1465.6,157.53h21.6v2.47h-21.6zM1314.5,159.96h21.6v2.47h-21.6zM1379.3,159.96h21.6v2.47h-21.6zM1465.6,159.96h21.6v2.47h-21.6zM1314.5,162.38h21.6v2.47h-21.6zM1357.7,162.38h21.6v2.47h-21.6zM1465.6,162.38h21.6v2.47h-21.6zM1314.5,164.81h21.6v2.47h-21.6zM1336.1,164.81h21.6v2.47h-21.6zM1357.7,164.81h21.6v2.47h-21.6zM1379.3,164.81h21.6v2.47h-21.6zM1292.9,167.23h21.6v2.47h-21.6zM1314.5,167.23h21.6v2.47h-21.6zM1379.3,167.23h21.6v2.47h-21.6zM1314.5,169.65h21.6v2.47h-21.6zM1379.3,169.65h21.6v2.47h-21.6zM1314.5,174.50h21.6v2.47h-21.6zM1379.3,174.50h21.6v2.47h-21.6zM1465.6,174.50h21.6v2.47h-21.6zM1357.7,176.93h21.6v2.47h-21.6zM1357.7,181.77h21.6v2.47h-21.6zM1292.9,184.20h21.6v2.47h-21.6zM1465.6,184.20h21.6v2.47h-21.6zM1357.7,186.62h21.6v2.47h-21.6zM1379.3,186.62h21.6v2.47h-21.6zM1465.6,186.62h21.6v2.47h-21.6zM1292.9,189.05h21.6v2.47h-21.6zM1292.9,191.47h21.6v2.47h-21.6zM1336.1,191.47h21.6v2.47h-21.6zM1465.6,191.47h21.6v2.47h-21.6zM1357.7,193.89h21.6v2.47h-21.6zM1292.9,196.32h21.6v2.47h-21.6zM1314.5,196.32h21.6v2.47h-21.6zM1357.7,196.32h21.6v2.47h-21.6zM1379.3,196.32h21.6v2.47h-21.6zM1465.6,196.32h21.6v2.47h-21.6zM1292.9,201.17h21.6v2.47h-21.6zM1357.7,201.17h21.6v2.47h-21.6zM1379.3,201.17h21.6v2.47h-21.6zM1292.9,203.59h21.6v2.47h-21.6zM1336.1,203.59h21.6v2.47h-21.6zM1357.7,203.59h21.6v2.47h-21.6zM1357.7,206.02h21.6v2.47h-21.6zM1379.3,206.02h21.6v2.47h-21.6zM1292.9,208.44h21.6v2.47h-21.6zM1357.7,208.44h21.6v2.47h-21.6zM1336.1,210.86h21.6v2.47h-21.6zM1357.7,210.86h21.6v2.47h-21.6zM1379.3,213.29h21.6v2.47h-21.6zM1357.7,215.71h21.6v2.47h-21.6zM1379.3,218.14h21.6v2.47h-21.6zM1336.1,220.56h21.6v2.47h-21.6zM1379.3,220.56h21.6v2.47h-21.6zM1379.3,222.98h21.6v2.47h-21.6zM1357.7,225.41h21.6v2.47h-21.6zM1357.7,227.83h21.6v2.47h-21.6zM1292.9,230.26h21.6v2.47h-21.6zM1314.5,232.68h21.6v2.47h-21.6zM1336.1,232.68h21.6v2.47h-21.6zM1379.3,232.68h21.6v2.47h-21.6zM1292.9,235.10h21.6v2.47h-21.6zM1465.6,239.95h21.6v2.47h-21.6zM1314.5,242.38h21.6v2.47h-21.6zM1292.9,244.80h21.6v2.47h-21.6zM1357.7,244.80h21.6v2.47h-21.6zM1292.9,249.65h21.6v2.47h-21.6zM1379.3,254.50h21.6v2.47h-21.6zM1465.6,254.50h21.6v2.47h-21.6zM1357.7,259.35h21.6v2.47h-21.6zM1465.6,259.35h21.6v2.47h-21.6zM1314.5,261.77h21.6v2.47h-21.6zM1357.7,261.77h21.6v2.47h-21.6zM1465.6,261.77h21.6v2.47h-21.6zM1465.6,264.19h21.6v2.47h-21.6zM1292.9,266.62h21.6v2.47h-21.6zM1336.1,269.04h21.6v2.47h-21.6zM1465.6,269.04h21.6v2.47h-21.6zM1292.9,273.89h21.6v2.47h-21.6zM1379.3,273.89h21.6v2.47h-21.6zM1314.5,276.31h21.6v2.47h-21.6zM1465.6,276.31h21.6v2.47h-21.6zM1357.7,278.74h21.6v2.47h-21.6zM1292.9,283.59h21.6v2.47h-21.6zM1314.5,283.59h21.6v2.47h-21.6zM1444.0,286.01h21.6v2.47h-21.6zM1292.9,288.43h21.6v2.47h-21.6zM1292.9,290.86h21.6v2.47h-21.6zM1314.5,290.86h21.6v2.47h-21.6zM1357.7,290.86h21.6v2.47h-21.6zM1465.6,290.86h21.6v2.47h-21.6zM1292.9,293.28h21.6v2.47h-21.6zM1314.5,295.71h21.6v2.47h-21.6zM1314.5,298.13h21.6v2.47h-21.6zM1292.9,300.56h21.6v2.47h-21.6zM1465.6,300.56h21.6v2.47h-21.6zM1314.5,302.98h21.6v2.47h-21.6zM1357.7,302.98h21.6v2.47h-21.6zM1357.7,305.40h21.6v2.47h-21.6zM1292.9,307.83h21.6v2.47h-21.6zM1336.1,307.83h21.6v2.47h-21.6zM1314.5,310.25h21.6v2.47h-21.6zM1336.1,310.25h21.6v2.47h-21.6z" fill="#c4c4e3"/>
<path d="M1444.0,46.02h21.6v2.47h-21.6zM1444.0,48.45h21.6v2.47h-21.6zM1422.4,53.30h21.6v2.47h-21.6zM1400.8,72.69h21.6v2.47h-21.6zM1400.8,79.96h21.6v2.47h-21.6zM1422.4,79.96h21.6v2.47h-21.6zM1444.0,89.66h21.6v2.47h-21.6zM1465.6,94.51h21.6v2.47h-21.6zM1422.4,96.93h21.6v2.47h-21.6zM1465.6,96.93h21.6v2.47h-21.6zM1400.8,99.35h21.6v2.47h-21.6zM1400.8,101.78h21.6v2.47h-21.6zM1444.0,113.90h21.6v2.47h-21.6zM1336.1,181.77h21.6v2.47h-21.6zM1379.3,198.74h21.6v2.47h-21.6zM1292.9,215.71h21.6v2.47h-21.6zM1357.7,232.68h21.6v2.47h-21.6zM1292.9,239.95h21.6v2.47h-21.6zM1314.5,286.01h21.6v2.47h-21.6zM1357.7,295.71h21.6v2.47h-21.6z" fill="#8b90c7"/>
<path d="M1336.1,48.45h21.6v2.47h-21.6zM1292.9,50.87h21.6v2.47h-21.6zM1292.9,60.57h21.6v2.47h-21.6zM1292.9,62.99h21.6v2.47h-21.6zM1314.5,70.27h21.6v2.47h-21.6zM1292.9,94.51h21.6v2.47h-21.6zM1336.1,94.51h21.6v2.47h-21.6zM1336.1,96.93h21.6v2.47h-21.6zM1336.1,99.35h21.6v2.47h-21.6zM1336.1,101.78h21.6v2.47h-21.6zM1292.9,106.63h21.6v2.47h-21.6zM1379.3,111.47h21.6v2.47h-21.6zM1444.0,130.87h21.6v2.47h-21.6zM1400.8,138.14h21.6v2.47h-21.6zM1422.4,138.14h21.6v2.47h-21.6zM1336.1,142.99h21.6v2.47h-21.6zM1422.4,145.41h21.6v2.47h-21.6zM1400.8,147.84h21.6v2.47h-21.6zM1444.0,157.53h21.6v2.47h-21.6zM1292.9,159.96h21.6v2.47h-21.6zM1292.9,164.81h21.6v2.47h-21.6zM1444.0,164.81h21.6v2.47h-21.6zM1444.0,167.23h21.6v2.47h-21.6zM1465.6,189.05h21.6v2.47h-21.6zM1444.0,213.29h21.6v2.47h-21.6zM1465.6,215.71h21.6v2.47h-21.6zM1444.0,218.14h21.6v2.47h-21.6zM1444.0,222.98h21.6v2.47h-21.6zM1336.1,225.41h21.6v2.47h-21.6zM1444.0,225.41h21.6v2.47h-21.6zM1379.3,235.10h21.6v2.47h-21.6zM1422.4,252.07h21.6v2.47h-21.6zM1444.0,252.07h21.6v2.47h-21.6zM1422.4,264.19h21.6v2.47h-21.6zM1444.0,264.19h21.6v2.47h-21.6zM1444.0,273.89h21.6v2.47h-21.6zM1422.4,278.74h21.6v2.47h-21.6zM1422.4,288.43h21.6v2.47h-21.6zM1444.0,290.86h21.6v2.47h-21.6zM1422.4,293.28h21.6v2.47h-21.6zM1444.0,295.71h21.6v2.47h-21.6zM1422.4,298.13h21.6v2.47h-21.6zM1422.4,300.56h21.6v2.47h-21.6zM1336.1,305.40h21.6v2.47h-21.6zM1422.4,305.40h21.6v2.47h-21.6zM1444.0,305.40h21.6v2.47h-21.6zM1379.3,310.25h21.6v2.47h-21.6zM1422.4,310.25h21.6v2.47h-21.6zM1336.1,312.68h21.6v2.47h-21.6z" fill="#fdecec"/>
<path d="M1465.6,48.45h21.6v2.47h-21.6zM1465.6,60.57h21.6v2.47h-21.6zM1444.0,62.99h21.6v2.47h-21.6zM1444.0,67.84h21.6v2.47h-21.6zM1357.7,70.27h21.6v2.47h-21.6zM1357.7,72.69h21.6v2.47h-21.6zM1444.0,77.54h21.6v2.47h-21.6zM1444.0,79.96h21.6v2.47h-21.6zM1314.5,82.39h21.6v2.47h-21.6zM1314.5,87.23h21.6v2.47h-21.6zM1314.5,89.66h21.6v2.47h-21.6zM1465.6,99.35h21.6v2.47h-21.6zM1379.3,106.63h21.6v2.47h-21.6zM1357.7,109.05h21.6v2.47h-21.6zM1379.3,109.05h21.6v2.47h-21.6zM1465.6,109.05h21.6v2.47h-21.6zM1357.7,113.90h21.6v2.47h-21.6zM1292.9,118.75h21.6v2.47h-21.6zM1292.9,121.17h21.6v2.47h-21.6zM1379.3,123.60h21.6v2.47h-21.6zM1292.9,126.02h21.6v2.47h-21.6zM1379.3,126.02h21.6v2.47h-21.6zM1379.3,133.29h21.6v2.47h-21.6zM1292.9,135.72h21.6v2.47h-21.6zM1465.6,135.72h21.6v2.47h-21.6zM1292.9,138.14h21.6v2.47h-21.6zM1465.6,138.14h21.6v2.47h-21.6zM1292.9,142.99h21.6v2.47h-21.6zM1465.6,142.99h21.6v2.47h-21.6zM1379.3,152.68h21.6v2.47h-21.6zM1400.8,152.68h21.6v2.47h-21.6zM1336.1,155.11h21.6v2.47h-21.6zM1379.3,162.38h21.6v2.47h-21.6zM1444.0,162.38h21.6v2.47h-21.6zM1465.6,167.23h21.6v2.47h-21.6zM1292.9,169.65h21.6v2.47h-21.6zM1465.6,169.65h21.6v2.47h-21.6zM1357.7,172.08h21.6v2.47h-21.6zM1465.6,172.08h21.6v2.47h-21.6zM1465.6,176.93h21.6v2.47h-21.6zM1314.5,179.35h21.6v2.47h-21.6zM1357.7,179.35h21.6v2.47h-21.6zM1465.6,181.77h21.6v2.47h-21.6zM1314.5,186.62h21.6v2.47h-21.6zM1379.3,193.89h21.6v2.47h-21.6zM1465.6,201.17h21.6v2.47h-21.6zM1379.3,203.59h21.6v2.47h-21.6zM1444.0,203.59h21.6v2.47h-21.6zM1465.6,203.59h21.6v2.47h-21.6zM1314.5,206.02h21.6v2.47h-21.6zM1444.0,206.02h21.6v2.47h-21.6zM1314.5,208.44h21.6v2.47h-21.6zM1444.0,208.44h21.6v2.47h-21.6zM1465.6,208.44h21.6v2.47h-21.6zM1465.6,210.86h21.6v2.47h-21.6zM1314.5,215.71h21.6v2.47h-21.6zM1379.3,215.71h21.6v2.47h-21.6zM1292.9,225.41h21.6v2.47h-21.6zM1292.9,227.83h21.6v2.47h-21.6zM1379.3,227.83h21.6v2.47h-21.6zM1465.6,227.83h21.6v2.47h-21.6zM1379.3,230.26h21.6v2.47h-21.6zM1292.9,232.68h21.6v2.47h-21.6zM1465.6,232.68h21.6v2.47h-21.6zM1379.3,239.95h21.6v2.47h-21.6zM1292.9,242.38h21.6v2.47h-21.6zM1379.3,244.80h21.6v2.47h-21.6zM1292.9,247.22h21.6v2.47h-21.6zM1379.3,247.22h21.6v2.47h-21.6zM1314.5,252.07h21.6v2.47h-21.6zM1336.1,252.07h21.6v2.47h-21.6zM1336.1,256.92h21.6v2.47h-21.6zM1292.9,259.35h21.6v2.47h-21.6zM1336.1,259.35h21.6v2.47h-21.6zM1422.4,259.35h21.6v2.47h-21.6zM1336.1,261.77h21.6v2.47h-21.6zM1379.3,261.77h21.6v2.47h-21.6zM1314.5,266.62h21.6v2.47h-21.6zM1379.3,266.62h21.6v2.47h-21.6zM1292.9,269.04h21.6v2.47h-21.6zM1422.4,269.04h21.6v2.47h-21.6zM1379.3,271.47h21.6v2.47h-21.6zM1465.6,271.47h21.6v2.47h-21.6zM1465.6,273.89h21.6v2.47h-21.6zM1292.9,276.31h21.6v2.47h-21.6zM1379.3,276.31h21.6v2.47h-21.6zM1292.9,278.74h21.6v2.47h-21.6zM1336.1,278.74h21.6v2.47h-21.6zM1292.9,281.16h21.6v2.47h-21.6zM1379.3,281.16h21.6v2.47h-21.6zM1379.3,283.59h21.6v2.47h-21.6zM1336.1,286.01h21.6v2.47h-21.6zM1336.1,288.43h21.6v2.47h-21.6zM1379.3,288.43h21.6v2.47h-21.6zM1336.1,290.86h21.6v2.47h-21.6zM1336.1,293.28h21.6v2.47h-21.6zM1379.3,293.28h21.6v2.47h-21.6zM1444.0,293.28h21.6v2.47h-21.6zM1336.1,295.71h21.6v2.47h-21.6zM1465.6,295.71h21.6v2.47h-21.6zM1444.0,298.13h21.6v2.47h-21.6zM1314.5,300.56h21.6v2.47h-21.6zM1336.1,300.56h21.6v2.47h-21.6zM1444.0,300.56h21.6v2.47h-21.6zM1292.9,302.98h21.6v2.47h-21.6zM1292.9,305.40h21.6v2.47h-21.6zM1444.0,307.83h21.6v2.47h-21.6zM1292.9,310.25h21.6v2.47h-21.6zM1444.0,310.25h21.6v2.47h-21.6z" fill="#ebebf6"/>
<path d="M1336.1,50.87h21.6v2.47h-21.6zM1379.3,58.14h21.6v2.47h-21.6zM1292.9,77.54h21.6v2.47h-21.6zM1314.5,79.96h21.6v2.47h-21.6zM1357.7,84.81h21.6v2.47h-21.6zM1336.1,89.66h21.6v2.47h-21.6zM1357.7,89.66h21.6v2.47h-21.6zM1357.7,96.93h21.6v2.47h-21.6zM1314.5,111.47h21.6v2.47h-21.6zM1400.8,118.75h21.6v2.47h-21.6zM1400.8,123.60h21.6v2.47h-21.6zM1400.8,128.44h21.6v2.47h-21.6zM1422.4,142.99h21.6v2.47h-21.6zM1400.8,150.26h21.6v2.47h-21.6zM1422.4,172.08h21.6v2.47h-21.6zM1422.4,174.50h21.6v2.47h-21.6zM1422.4,181.77h21.6v2.47h-21.6zM1422.4,186.62h21.6v2.47h-21.6zM1422.4,198.74h21.6v2.47h-21.6zM1422.4,235.10h21.6v2.47h-21.6zM1422.4,239.95h21.6v2.47h-21.6zM1444.0,244.80h21.6v2.47h-21.6zM1422.4,247.22h21.6v2.47h-21.6zM1444.0,247.22h21.6v2.47h-21.6zM1444.0,261.77h21.6v2.47h-21.6zM1444.0,271.47h21.6v2.47h-21.6zM1422.4,295.71h21.6v2.47h-21.6z" fill="#f6b3b3"/>
<path d="M1379.3,50.87h21.6v2.47h-21.6zM1292.9,53.30h21.6v2.47h-21.6zM1379.3,53.30h21.6v2.47h-21.6zM1292.9,55.72h21.6v2.47h-21.6zM1314.5,55.72h21.6v2.47h-21.6zM1336.1,62.99h21.6v2.47h-21.6zM1314.5,65.42h21.6v2.47h-21.6zM1314.5,67.84h21.6v2.47h-21.6zM1379.3,67.84h21.6v2.47h-21.6zM1336.1,72.69h21.6v2.47h-21.6zM1336.1,75.11h21.6v2.47h-21.6zM1336.1,79.96h21.6v2.47h-21.6zM1292.9,84.81h21.6v2.47h-21.6zM1292.9,87.23h21.6v2.47h-21.6zM1336.1,87.23h21.6v2.47h-21.6zM1292.9,89.66h21.6v2.47h-21.6zM1292.9,96.93h21.6v2.47h-21.6zM1314.5,104.20h21.6v2.47h-21.6zM1314.5,106.63h21.6v2.47h-21.6zM1292.9,109.05h21.6v2.47h-21.6zM1314.5,109.05h21.6v2.47h-21.6zM1422.4,118.75h21.6v2.47h-21.6zM1422.4,121.17h21.6v2.47h-21.6zM1444.0,121.17h21.6v2.47h-21.6zM1422.4,123.60h21.6v2.47h-21.6zM1422.4,130.87h21.6v2.47h-21.6zM1422.4,135.72h21.6v2.47h-21.6zM1400.8,140.56h21.6v2.47h-21.6zM1400.8,142.99h21.6v2.47h-21.6zM1400.8,145.41h21.6v2.47h-21.6zM1422.4,147.84h21.6v2.47h-21.6zM1400.8,155.11h21.6v2.47h-21.6zM1422.4,155.11h21.6v2.47h-21.6zM1400.8,162.38h21.6v2.47h-21.6zM1400.8,167.23h21.6v2.47h-21.6zM1444.0,169.65h21.6v2.47h-21.6zM1422.4,191.47h21.6v2.47h-21.6zM1422.4,201.17h21.6v2.47h-21.6zM1444.0,220.56h21.6v2.47h-21.6zM1444.0,230.26h21.6v2.47h-21.6zM1444.0,235.10h21.6v2.47h-21.6zM1444.0,237.53h21.6v2.47h-21.6zM1422.4,242.38h21.6v2.47h-21.6zM1422.4,244.80h21.6v2.47h-21.6zM1379.3,269.04h21.6v2.47h-21.6zM1444.0,269.04h21.6v2.47h-21.6zM1422.4,271.47h21.6v2.47h-21.6zM1422.4,273.89h21.6v2.47h-21.6zM1422.4,276.31h21.6v2.47h-21.6zM1422.4,281.16h21.6v2.47h-21.6zM1422.4,283.59h21.6v2.47h-21.6zM1422.4,286.01h21.6v2.47h-21.6zM1422.4,290.86h21.6v2.47h-21.6zM1422.4,302.98h21.6v2.47h-21.6zM1444.0,302.98h21.6v2.47h-21.6zM1379.3,312.68h21.6v2.47h-21.6zM1422.4,312.68h21.6v2.47h-21.6z" fill="#fbd9d9"/>
<path d="M1400.8,53.30h21.6v2.47h-21.6zM1400.8,55.72h21.6v2.47h-21.6zM1400.8,84.81h21.6v2.47h-21.6zM1400.8,104.20h21.6v2.47h-21.6z" fill="#6a74ba"/>
<path d="M1357.7,55.72h21.6v2.47h-21.6zM1400.8,172.08h21.6v2.47h-21.6zM1444.0,179.35h21.6v2.47h-21.6zM1444.0,181.77h21.6v2.47h-21.6zM1400.8,189.05h21.6v2.47h-21.6zM1400.8,198.74h21.6v2.47h-21.6zM1422.4,203.59h21.6v2.47h-21.6z" fill="#e84242"/>
<path d="M1357.7,58.14h21.6v2.47h-21.6zM1357.7,60.57h21.6v2.47h-21.6zM1379.3,75.11h21.6v2.47h-21.6zM1379.3,77.54h21.6v2.47h-21.6zM1379.3,79.96h21.6v2.47h-21.6zM1314.5,101.78h21.6v2.47h-21.6zM1292.9,113.90h21.6v2.47h-21.6zM1444.0,172.08h21.6v2.47h-21.6zM1400.8,174.50h21.6v2.47h-21.6zM1400.8,179.35h21.6v2.47h-21.6zM1400.8,184.20h21.6v2.47h-21.6zM1444.0,186.62h21.6v2.47h-21.6zM1444.0,189.05h21.6v2.47h-21.6zM1400.8,193.89h21.6v2.47h-21.6zM1400.8,196.32h21.6v2.47h-21.6zM1444.0,196.32h21.6v2.47h-21.6zM1400.8,201.17h21.6v2.47h-21.6zM1444.0,201.17h21.6v2.47h-21.6zM1400.8,206.02h21.6v2.47h-21.6zM1400.8,210.86h21.6v2.47h-21.6zM1422.4,213.29h21.6v2.47h-21.6zM1400.8,215.71h21.6v2.47h-21.6zM1422.4,215.71h21.6v2.47h-21.6z" fill="#ea5555"/>
<path d="M1400.8,58.14h21.6v2.47h-21.6zM1400.8,109.05h21.6v2.47h-21.6zM1400.8,111.47h21.6v2.47h-21.6zM1400.8,113.90h21.6v2.47h-21.6zM1400.8,116.32h21.6v2.47h-21.6z" fill="#5966b3"/>
<path d="M1400.8,60.57h21.6v2.47h-21.6zM1400.8,77.54h21.6v2.47h-21.6zM1400.8,106.63h21.6v2.47h-21.6zM1422.4,113.90h21.6v2.47h-21.6zM1357.7,121.17h21.6v2.47h-21.6zM1292.9,198.74h21.6v2.47h-21.6z" fill="#7a82c0"/>
<path d="M1357.7,62.99h21.6v2.47h-21.6zM1292.9,72.69h21.6v2.47h-21.6zM1444.0,140.56h21.6v2.47h-21.6zM1444.0,142.99h21.6v2.47h-21.6zM1444.0,150.26h21.6v2.47h-21.6zM1422.4,167.23h21.6v2.47h-21.6zM1400.8,239.95h21.6v2.47h-21.6zM1400.8,249.65h21.6v2.47h-21.6zM1400.8,254.50h21.6v2.47h-21.6zM1400.8,264.19h21.6v2.47h-21.6zM1400.8,271.47h21.6v2.47h-21.6zM1400.8,273.89h21.6v2.47h-21.6zM1400.8,288.43h21.6v2.47h-21.6zM1400.8,293.28h21.6v2.47h-21.6zM1400.8,295.71h21.6v2.47h-21.6zM1400.8,298.13h21.6v2.47h-21.6zM1400.8,300.56h21.6v2.47h-21.6z" fill="#e3191c"/>
<path d="M1292.9,65.42h21.6v2.47h-21.6zM1292.9,67.84h21.6v2.47h-21.6zM1292.9,70.27h21.6v2.47h-21.6zM1336.1,104.20h21.6v2.47h-21.6zM1336.1,109.05h21.6v2.47h-21.6zM1444.0,135.72h21.6v2.47h-21.6zM1444.0,138.14h21.6v2.47h-21.6zM1444.0,147.84h21.6v2.47h-21.6zM1444.0,155.11h21.6v2.47h-21.6zM1422.4,162.38h21.6v2.47h-21.6zM1422.4,164.81h21.6v2.47h-21.6zM1422.4,169.65h21.6v2.47h-21.6zM1400.8,218.14h21.6v2.47h-21.6zM1400.8,222.98h21.6v2.47h-21.6zM1400.8,225.41h21.6v2.47h-21.6zM1400.8,230.26h21.6v2.47h-21.6zM1400.8,237.53h21.6v2.47h-21.6zM1400.8,242.38h21.6v2.47h-21.6zM1400.8,247.22h21.6v2.47h-21.6zM1400.8,256.92h21.6v2.47h-21.6zM1400.8,259.35h21.6v2.47h-21.6zM1400.8,276.31h21.6v2.47h-21.6zM1400.8,283.59h21.6v2.47h-21.6zM1400.8,286.01h21.6v2.47h-21.6zM1400.8,302.98h21.6v2.47h-21.6zM1400.8,305.40h21.6v2.47h-21.6zM1400.8,307.83h21.6v2.47h-21.6zM1400.8,310.25h21.6v2.47h-21.6z" fill="#e31c1f"/>
<path d="M1379.3,82.39h21.6v2.47h-21.6zM1379.3,84.81h21.6v2.47h-21.6zM1379.3,87.23h21.6v2.47h-21.6zM1379.3,92.08h21.6v2.47h-21.6zM1379.3,99.35h21.6v2.47h-21.6zM1336.1,106.63h21.6v2.47h-21.6zM1292.9,116.32h21.6v2.47h-21.6zM1465.6,118.75h21.6v2.47h-21.6zM1465.6,123.60h21.6v2.47h-21.6zM1400.8,176.93h21.6v2.47h-21.6zM1400.8,181.77h21.6v2.47h-21.6zM1400.8,186.62h21.6v2.47h-21.6zM1400.8,252.07h21.6v2.47h-21.6zM1400.8,278.74h21.6v2.47h-21.6z" fill="#e63536"/>
<path d="M1379.3,89.66h21.6v2.47h-21.6zM1379.3,94.51h21.6v2.47h-21.6zM1379.3,96.93h21.6v2.47h-21.6zM1379.3,101.78h21.6v2.47h-21.6zM1336.1,111.47h21.6v2.47h-21.6zM1465.6,121.17h21.6v2.47h-21.6zM1465.6,126.02h21.6v2.47h-21.6zM1465.6,128.44h21.6v2.47h-21.6zM1444.0,145.41h21.6v2.47h-21.6zM1444.0,152.68h21.6v2.47h-21.6zM1422.4,157.53h21.6v2.47h-21.6zM1422.4,159.96h21.6v2.47h-21.6zM1444.0,198.74h21.6v2.47h-21.6zM1400.8,220.56h21.6v2.47h-21.6zM1400.8,227.83h21.6v2.47h-21.6zM1400.8,232.68h21.6v2.47h-21.6zM1400.8,235.10h21.6v2.47h-21.6zM1400.8,244.80h21.6v2.47h-21.6zM1400.8,261.77h21.6v2.47h-21.6zM1400.8,266.62h21.6v2.47h-21.6zM1400.8,269.04h21.6v2.47h-21.6zM1400.8,281.16h21.6v2.47h-21.6zM1400.8,290.86h21.6v2.47h-21.6zM1400.8,312.68h21.6v2.47h-21.6z" fill="#e5292b"/>
</g>
<rect x="1292.9" y="31.1" width="107.9" height="10.3" fill="#f3837d"/>
<rect x="1400.8" y="31.1" width="86.4" height="10.3" fill="#3fbfc2"/>
<g font-family="'Liberation Sans',sans-serif" fill="#111">
<text x="1346.9" y="28.3" font-size="9.5" text-anchor="middle">QN</text>
<text x="1444.0" y="28.3" font-size="9.5" text-anchor="middle">LN</text>
<text x="1490" y="40" font-size="9.3" font-weight="bold">Group</text>
<text transform="translate(1299.4,318.4) rotate(90)" font-size="9.8">X11062</text>
<text transform="translate(1321.0,318.4) rotate(90)" font-size="9.8">X12092</text>
<text transform="translate(1342.6,318.4) rotate(90)" font-size="9.8">X12304</text>
<text transform="translate(1364.2,318.4) rotate(90)" font-size="9.8">X12372</text>
<text transform="translate(1385.8,318.4) rotate(90)" font-size="9.8">X12390</text>
<text transform="translate(1407.3,318.4) rotate(90)" font-size="9.8">X92324</text>
<text transform="translate(1428.9,318.4) rotate(90)" font-size="9.8">X92338</text>
<text transform="translate(1450.5,318.4) rotate(90)" font-size="9.8">X94356</text>
<text transform="translate(1472.1,318.4) rotate(90)" font-size="9.8">X96302</text>
<defs><linearGradient id="hg" x1="0" y1="0" x2="0" y2="1"><stop offset="0" stop-color="#e3191c"/><stop offset=".12" stop-color="#e84242"/><stop offset=".31" stop-color="#f3a0a0"/><stop offset=".5" stop-color="#fff"/><stop offset=".69" stop-color="#9c9ece"/><stop offset=".88" stop-color="#4858ac"/><stop offset="1" stop-color="#2548a0"/></linearGradient></defs>
<rect x="1521.2" y="31.1" width="7.8" height="117.7" fill="url(#hg)"/>
<text x="1532.5" y="49.1" font-size="8.6">2</text>
<text x="1532.5" y="71.2" font-size="8.6">1</text>
<text x="1532.5" y="93.3" font-size="8.6">0</text>
<text x="1532.5" y="115.7" font-size="8.6">−1</text>
<text x="1532.5" y="138.1" font-size="8.6">−2</text>
<g font-size="2.7" fill="#111"><text x="1488.6" y="45.66">PLN</text><text x="1488.6" y="48.08">CGA</text><text x="1488.6" y="50.51">PGR</text><text x="1488.6" y="52.93">CLCA1</text><text x="1488.6" y="55.36">MYH11</text><text x="1488.6" y="57.78">LOC718794</text><text x="1488.6" y="60.21">SLC17A7</text><text x="1488.6" y="62.63">ANLN</text><text x="1488.6" y="65.05">TSHB</text><text x="1488.6" y="67.48">GPR152</text><text x="1488.6" y="69.90">CDH19</text><text x="1488.6" y="72.33">CHI3L1</text><text x="1488.6" y="74.75">CHIT1</text><text x="1488.6" y="77.17">NEUROD6</text><text x="1488.6" y="79.60">TBX4</text><text x="1488.6" y="82.02">LOC693357</text><text x="1488.6" y="84.45">PTGDS</text><text x="1488.6" y="86.87">CTNNA3</text><text x="1488.6" y="89.29">LAMC3</text><text x="1488.6" y="91.72">CCL8</text><text x="1488.6" y="94.14">APOBEC2</text><text x="1488.6" y="96.57">PITX1</text><text x="1488.6" y="98.99">KLRC2</text><text x="1488.6" y="101.41">LCTL</text><text x="1488.6" y="103.84">HAPLN2</text><text x="1488.6" y="106.26">ASAH2</text><text x="1488.6" y="108.69">STRA6</text><text x="1488.6" y="111.11">BIRC7</text><text x="1488.6" y="113.54">LOC100430627</text><text x="1488.6" y="115.96">CYP19A1</text><text x="1488.6" y="118.38">SPP1</text><text x="1488.6" y="120.81">IL26</text><text x="1488.6" y="123.23">BIRC5</text><text x="1488.6" y="125.66">TMEM144</text><text x="1488.6" y="128.08">HBA</text><text x="1488.6" y="130.50">SERPINB5</text><text x="1488.6" y="132.93">TAC3</text><text x="1488.6" y="135.35">MRGPRF</text><text x="1488.6" y="137.78">GALNT6</text><text x="1488.6" y="140.20">PERM1</text><text x="1488.6" y="142.62">PSTPIP1</text><text x="1488.6" y="145.05">LOC710527</text><text x="1488.6" y="147.47">KLK3</text><text x="1488.6" y="149.90">CD36</text><text x="1488.6" y="152.32">MAN2A1</text><text x="1488.6" y="154.75">DES</text><text x="1488.6" y="157.17">CCL19</text><text x="1488.6" y="159.59">SLC45A3</text><text x="1488.6" y="162.02">PLN</text><text x="1488.6" y="164.44">CGA</text><text x="1488.6" y="166.87">PGR</text><text x="1488.6" y="169.29">CLCA1</text><text x="1488.6" y="171.71">MYH11</text><text x="1488.6" y="174.14">LOC718794</text><text x="1488.6" y="176.56">SLC17A7</text><text x="1488.6" y="178.99">ANLN</text><text x="1488.6" y="181.41">TSHB</text><text x="1488.6" y="183.83">GPR152</text><text x="1488.6" y="186.26">CDH19</text><text x="1488.6" y="188.68">CHI3L1</text><text x="1488.6" y="191.11">CHIT1</text><text x="1488.6" y="193.53">NEUROD6</text><text x="1488.6" y="195.96">TBX4</text><text x="1488.6" y="198.38">LOC693357</text><text x="1488.6" y="200.80">PTGDS</text><text x="1488.6" y="203.23">CTNNA3</text><text x="1488.6" y="205.65">LAMC3</text><text x="1488.6" y="208.08">CCL8</text><text x="1488.6" y="210.50">APOBEC2</text><text x="1488.6" y="212.92">PITX1</text><text x="1488.6" y="215.35">KLRC2</text><text x="1488.6" y="217.77">LCTL</text><text x="1488.6" y="220.20">HAPLN2</text><text x="1488.6" y="222.62">ASAH2</text><text x="1488.6" y="225.04">STRA6</text><text x="1488.6" y="227.47">BIRC7</text><text x="1488.6" y="229.89">LOC100430627</text><text x="1488.6" y="232.32">CYP19A1</text><text x="1488.6" y="234.74">SPP1</text><text x="1488.6" y="237.16">IL26</text><text x="1488.6" y="239.59">BIRC5</text><text x="1488.6" y="242.01">TMEM144</text><text x="1488.6" y="244.44">HBA</text><text x="1488.6" y="246.86">SERPINB5</text><text x="1488.6" y="249.29">TAC3</text><text x="1488.6" y="251.71">MRGPRF</text><text x="1488.6" y="254.13">GALNT6</text><text x="1488.6" y="256.56">PERM1</text><text x="1488.6" y="258.98">PSTPIP1</text><text x="1488.6" y="261.41">LOC710527</text><text x="1488.6" y="263.83">KLK3</text><text x="1488.6" y="266.25">CD36</text><text x="1488.6" y="268.68">MAN2A1</text><text x="1488.6" y="271.10">DES</text><text x="1488.6" y="273.53">CCL19</text><text x="1488.6" y="275.95">SLC45A3</text><text x="1488.6" y="278.37">PLN</text><text x="1488.6" y="280.80">CGA</text><text x="1488.6" y="283.22">PGR</text><text x="1488.6" y="285.65">CLCA1</text><text x="1488.6" y="288.07">MYH11</text><text x="1488.6" y="290.50">LOC718794</text><text x="1488.6" y="292.92">SLC17A7</text><text x="1488.6" y="295.34">ANLN</text><text x="1488.6" y="297.77">TSHB</text><text x="1488.6" y="300.19">GPR152</text><text x="1488.6" y="302.62">CDH19</text><text x="1488.6" y="305.04">CHI3L1</text><text x="1488.6" y="307.46">CHIT1</text><text x="1488.6" y="309.89">NEUROD6</text><text x="1488.6" y="312.31">TBX4</text><text x="1488.6" y="314.74">LOC693357</text></g>
</g>
<path d="M1292.6,44.8H1287.2V47.2H1292.6M1292.6,54.5H1289.7V56.9H1292.6M1292.6,52.1H1288.1V55.7H1289.7M1292.6,49.7H1285.2V53.9H1288.1M1292.6,61.8H1287.8V64.2H1292.6M1292.6,59.4H1285.8V63.0H1287.8M1285.2,51.8H1283.6V61.2H1285.8M1287.2,46.0H1280.9V56.5H1283.6M1292.6,66.6H1287.1V69.1H1292.6M1292.6,71.5H1287.6V73.9H1292.6M1287.1,67.8H1284.7V72.7H1287.6M1292.6,81.2H1289.2V83.6H1292.6M1292.6,78.7H1287.6V82.4H1289.2M1292.6,76.3H1286.0V80.6H1287.6M1292.6,86.0H1287.7V88.4H1292.6M1292.6,93.3H1288.1V95.7H1292.6M1292.6,90.9H1286.5V94.5H1288.1M1287.7,87.2H1284.1V92.7H1286.5M1286.0,78.4H1281.8V90.0H1284.1M1284.7,70.3H1279.5V84.2H1281.8M1292.6,100.6H1289.6V103.0H1292.6M1289.6,101.8H1288.0V105.4H1292.6M1292.6,98.1H1286.4V103.6H1288.0M1292.6,115.1H1290.4V117.5H1292.6M1292.6,112.7H1288.8V116.3H1290.4M1292.6,110.3H1287.2V114.5H1288.8M1292.6,107.8H1284.1V112.4H1287.2M1286.4,100.9H1279.9V110.1H1284.1M1279.5,77.2H1273.0V105.5H1279.9M1280.9,51.3H1269.4V91.4H1273.0M1292.6,120.0H1287.3V122.4H1292.6M1292.6,127.2H1289.3V129.7H1292.6M1292.6,124.8H1287.7V128.4H1289.3M1292.6,132.1H1288.8V134.5H1292.6M1288.8,133.3H1287.2V136.9H1292.6M1287.7,126.6H1284.4V135.1H1287.2M1287.3,121.2H1282.5V130.9H1284.4M1292.6,149.0H1290.7V151.5H1292.6M1290.7,150.3H1289.1V153.9H1292.6M1292.6,146.6H1287.5V152.1H1289.1M1292.6,144.2H1285.9V149.4H1287.5M1292.6,141.8H1283.2V146.8H1285.9M1292.6,156.3H1287.4V158.7H1292.6M1292.6,161.2H1287.6V163.6H1292.6M1287.4,157.5H1284.2V162.4H1287.6M1283.2,144.3H1281.6V160.0H1284.2M1292.6,139.4H1280.0V152.1H1281.6M1282.5,126.0H1273.8V145.7H1280.0M1292.6,166.0H1288.7V168.4H1292.6M1292.6,170.9H1289.4V173.3H1292.6M1289.4,172.1H1287.8V175.7H1292.6M1288.7,167.2H1285.2V173.9H1287.8M1292.6,178.1H1288.0V180.6H1292.6M1292.6,183.0H1288.3V185.4H1292.6M1292.6,190.3H1289.3V192.7H1292.6M1289.3,191.5H1287.7V195.1H1292.6M1292.6,187.8H1286.1V193.3H1287.7M1288.3,184.2H1284.5V190.6H1286.1M1288.0,179.3H1281.6V187.4H1284.5M1285.2,170.6H1277.5V183.4H1281.6M1273.8,135.9H1270.5V177.0H1277.5M1292.6,200.0H1288.7V202.4H1292.6M1292.6,197.5H1285.6V201.2H1288.7M1292.6,204.8H1288.5V207.2H1292.6M1288.5,206.0H1286.1V209.7H1292.6M1292.6,219.3H1289.4V221.8H1292.6M1292.6,216.9H1287.8V220.6H1289.4M1292.6,214.5H1286.2V218.7H1287.8M1292.6,212.1H1284.6V216.6H1286.2M1286.1,207.8H1281.6V214.3H1284.6M1292.6,224.2H1287.8V226.6H1292.6M1292.6,233.9H1289.5V236.3H1292.6M1292.6,231.5H1287.9V235.1H1289.5M1292.6,229.0H1286.3V233.3H1287.9M1292.6,241.2H1288.4V243.6H1292.6M1292.6,238.7H1286.4V242.4H1288.4M1292.6,246.0H1287.1V248.4H1292.6M1286.4,240.6H1284.3V247.2H1287.1M1286.3,231.2H1282.1V243.9H1284.3M1287.8,225.4H1279.9V237.5H1282.1M1292.6,250.9H1288.2V253.3H1292.6M1292.6,255.7H1288.5V258.1H1292.6M1292.6,263.0H1289.2V265.4H1292.6M1292.6,260.6H1287.6V264.2H1289.2M1288.5,256.9H1286.0V262.4H1287.6M1288.2,252.1H1282.0V259.6H1286.0M1279.9,231.5H1275.3V255.9H1282.0M1281.6,211.1H1273.5V243.7H1275.3M1285.6,199.3H1271.9V227.4H1273.5M1292.6,270.3H1288.8V272.7H1292.6M1288.8,271.5H1287.2V275.1H1292.6M1292.6,267.8H1285.6V273.3H1287.2M1292.6,277.5H1288.3V280.0H1292.6M1292.6,282.4H1288.7V284.8H1292.6M1292.6,287.2H1288.4V289.6H1292.6M1288.7,283.6H1286.1V288.4H1288.4M1288.3,278.7H1282.8V286.0H1286.1M1285.6,270.6H1281.2V282.4H1282.8M1292.6,292.1H1287.6V294.5H1292.6M1287.6,293.3H1285.6V296.9H1292.6M1292.6,304.2H1289.6V306.6H1292.6M1292.6,301.8H1288.0V305.4H1289.6M1292.6,299.3H1286.4V303.6H1288.0M1292.6,311.5H1288.7V313.9H1292.6M1292.6,309.0H1287.1V312.7H1288.7M1286.4,301.5H1282.7V310.9H1287.1M1285.6,295.1H1279.4V306.2H1282.7M1281.2,276.5H1273.7V300.6H1279.4M1271.9,213.4H1263.7V288.5H1273.7M1270.5,156.4H1262.1V251.0H1263.7M1269.4,71.3H1251.5V203.7H1262.1" stroke="#111" stroke-width=".7" fill="none"/>
<text x="1248" y="43.8" font-family="'Liberation Serif',serif" font-weight="bold" font-size="19.5">B</text>
<path d="M1552.6,9V642" stroke="#c4c4c4" stroke-width="1"/>
<path d="M1047.3,433.4L1134.1,433.4M1134.1,433.4L1225.4,433.4M1225.4,433.4L1295.4,433.4M1047.3,467.7L1134.1,467.7M1134.1,467.7L1225.4,467.7M1225.4,467.7L1295.4,467.7M967.9,467.7L1036.4,507.2M967.9,467.7L966.9,546.1M1036.4,507.2L966.9,546.1M1036.4,507.2L1117.3,506.0M1225.4,467.7L1225.4,546.1M1225.4,546.1L1225.4,618.7M1047.3,546.1L1047.3,618.7M1110.2,546.1L1108.0,618.7M1169.3,546.1L1166.8,618.7M1295.4,546.1L1295.4,618.7M1369.5,469.8L1369.5,546.1M1369.5,546.1L1369.5,618.7M1448.9,469.8L1448.9,546.1M1448.9,546.1L1448.9,618.7M1528.9,466.7L1528.9,546.1M1528.9,546.1L1528.9,618.7" stroke="#cbcbcb" stroke-width="1.4" fill="none"/>
<circle cx="1047.3" cy="433.4" r="0.9" fill="#dfe9f2"/>
<circle cx="1134.1" cy="433.4" r="8.7" fill="#b9d3e5"/>
<circle cx="1225.4" cy="433.4" r="3.4" fill="#62a0cd"/>
<circle cx="1295.4" cy="433.4" r="10.9" fill="#ebbcb8"/>
<circle cx="967.9" cy="467.7" r="6.2" fill="#e5aaa5"/>
<circle cx="1047.3" cy="467.7" r="3.7" fill="#ebbcb8"/>
<circle cx="1134.1" cy="467.7" r="3.7" fill="#ebbcb8"/>
<circle cx="1225.4" cy="467.7" r="5.6" fill="#ebbcb8"/>
<circle cx="1295.4" cy="467.7" r="5.6" fill="#ebbcb8"/>
<circle cx="1369.5" cy="469.8" r="4.4" fill="#ebbcb8"/>
<circle cx="1448.9" cy="469.8" r="3.7" fill="#ebbcb8"/>
<circle cx="1528.9" cy="466.7" r="5.6" fill="#ebbcb8"/>
<circle cx="1036.4" cy="507.2" r="4.4" fill="#e2806f"/>
<circle cx="1117.3" cy="506.0" r="8.1" fill="#4b8dc0"/>
<circle cx="966.9" cy="546.1" r="7.2" fill="#ebbcb8"/>
<circle cx="1047.3" cy="546.1" r="7.5" fill="#62a0cd"/>
<circle cx="1110.2" cy="546.1" r="10.6" fill="#ebbcb8"/>
<circle cx="1169.3" cy="546.1" r="10.6" fill="#b9d3e5"/>
<circle cx="1225.4" cy="546.1" r="5.0" fill="#ebbcb8"/>
<circle cx="1295.4" cy="546.1" r="9.3" fill="#e5aaa5"/>
<circle cx="1369.5" cy="546.1" r="3.1" fill="#ebbcb8"/>
<circle cx="1448.9" cy="546.1" r="10.0" fill="#e5aaa5"/>
<circle cx="1528.9" cy="546.1" r="4.4" fill="#ebbcb8"/>
<circle cx="1047.3" cy="618.7" r="7.5" fill="#62a0cd"/>
<circle cx="1108.0" cy="618.7" r="5.0" fill="#ebbcb8"/>
<circle cx="1166.8" cy="618.7" r="4.4" fill="#b9d3e5"/>
<circle cx="1225.4" cy="618.7" r="7.5" fill="#4b8dc0"/>
<circle cx="1295.4" cy="618.7" r="3.1" fill="#ebbcb8"/>
<circle cx="1369.5" cy="618.7" r="0.9" fill="#f3dedc"/>
<circle cx="1448.9" cy="618.7" r="6.2" fill="#ebbcb8"/>
<circle cx="1528.9" cy="618.7" r="2.5" fill="#ebbcb8"/>
<g font-family="'Liberation Sans',sans-serif" font-size="10.4" fill="#141414" text-anchor="middle">
<text x="1047.3" y="437.0">STRA6</text>
<text x="1134.1" y="437.0">TSHB</text>
<text x="1225.4" y="437.0">CGA</text>
<text x="1295.4" y="437.0">SPP1</text>
<text x="967.9" y="471.3">CCL19</text>
<text x="1047.3" y="471.3">CTNNA3</text>
<text x="1134.1" y="471.3">CDH19</text>
<text x="1225.4" y="471.3">HAPLN2</text>
<text x="1295.4" y="471.3">TMEM144</text>
<text x="1369.5" y="473.4">PSTPIP1</text>
<text x="1448.9" y="473.4">PLN</text>
<text x="1528.9" y="470.3">ANLN</text>
<text x="1036.4" y="510.8">CCL8</text>
<text x="1117.3" y="509.6">SERPINB5</text>
<text x="966.9" y="549.7">LOC100430627</text>
<text x="1047.3" y="549.7">TBX4</text>
<text x="1110.2" y="549.7">HBA</text>
<text x="1169.3" y="549.7">PGR</text>
<text x="1225.4" y="549.7">SLC45A3</text>
<text x="1295.4" y="549.7">SLC17A7</text>
<text x="1369.5" y="549.7">MYH11</text>
<text x="1448.9" y="549.7">PERM1</text>
<text x="1528.9" y="549.7">BIRC5</text>
<text x="1047.3" y="622.3">PITX1</text>
<text x="1108.0" y="622.3">LOC710527</text>
<text x="1166.8" y="622.3">CYP19A1</text>
<text x="1225.4" y="622.3">KLK3</text>
<text x="1295.4" y="622.3">NEUROD6</text>
<text x="1369.5" y="622.3">DES</text>
<text x="1448.9" y="622.3">APOBEC2</text>
<text x="1528.9" y="622.3">BIRC7</text>
</g>
<path d="M1405.3,367.4L1405.3,417.8M1405.3,367.4L1445.5,392.3M1405.3,417.8L1445.5,392.3M1484.7,367.4L1484.7,417.8M1529.6,367.4L1529.6,417.8" stroke="#6e6e6e" stroke-width=".75" fill="none"/>
<circle cx="1405.3" cy="367.4" r="3.7" fill="#f2d21f"/>
<circle cx="1484.7" cy="367.4" r="2.5" fill="#f2d21f"/>
<circle cx="1529.6" cy="367.4" r="4.0" fill="#e3191c"/>
<circle cx="1445.5" cy="392.3" r="5.0" fill="#f2d21f"/>
<circle cx="1405.3" cy="417.8" r="2.5" fill="#e3191c"/>
<circle cx="1484.7" cy="417.8" r="5.6" fill="#f2d21f"/>
<circle cx="1529.6" cy="417.8" r="2.8" fill="#f2d21f"/>
<circle cx="1405.3" cy="442.1" r="2.5" fill="#f2d21f"/>
<circle cx="1464.5" cy="442.1" r="5.6" fill="#f2d21f"/>
<circle cx="1529.6" cy="442.1" r="1.9" fill="#f2d21f"/>
<g font-family="'Liberation Sans',sans-serif" font-size="6.6" fill="#1a1a1a" text-anchor="middle">
<text x="1405.3" y="369.7">CCL19</text>
<text x="1484.7" y="369.7">CGA</text>
<text x="1529.6" y="369.7">HAPLN2</text>
<text x="1445.5" y="394.6">LOC100430627</text>
<text x="1405.3" y="420.1">CCL8</text>
<text x="1484.7" y="420.1">TSHB</text>
<text x="1529.6" y="420.1">CDH19</text>
<text x="1405.3" y="444.4">BIRC5</text>
<text x="1464.5" y="444.4">PERM1</text>
<text x="1529.6" y="444.4">MYH11</text>
</g>
<rect x="925.5" y="354" width="625.2" height="279.6" fill="none" stroke="#111" stroke-width="1.3"/>
<path d="M1370.8,354V451H1552" fill="none" stroke="#111" stroke-width="1.3"/>
<g font-family="'Liberation Serif',serif" font-weight="bold" font-size="19.5"><text x="930.5" y="372.5">C</text><text x="1374.5" y="372.5">D</text></g>
<rect x="1885.4" y="34.7" width="13.9" height="134.4" fill="#2c9f79"/>
<rect x="1903.2" y="79.9" width="13.5" height="89.1" fill="#2c9f79"/>
<rect x="1921.0" y="135.7" width="13.5" height="33.3" fill="#2c9f79"/>
<rect x="1938.5" y="139.7" width="13.5" height="29.4" fill="#2c9f79"/>
<rect x="1956.0" y="148.6" width="13.9" height="20.5" fill="#2c9f79"/>
<rect x="1973.8" y="164.7" width="13.9" height="4.3" fill="#2c9f79"/>
<rect x="1991.3" y="165.1" width="13.9" height="4.0" fill="#2c9f79"/>
<rect x="2009.2" y="166.7" width="13.9" height="2.3" fill="#2c9f79"/>
<rect x="2044.5" y="132.7" width="13.9" height="36.3" fill="#d4642a"/>
<rect x="2062.0" y="167.4" width="13.9" height="1.7" fill="#d4642a"/>
<rect x="2079.8" y="167.4" width="13.9" height="1.7" fill="#d4642a"/>
<rect x="2115.1" y="145.9" width="14.2" height="23.1" fill="#6e70b2"/>
<rect x="2133.0" y="161.4" width="13.9" height="7.6" fill="#6e70b2"/>
<rect x="2150.8" y="165.1" width="13.9" height="4.0" fill="#6e70b2"/>
<rect x="2168.6" y="166.1" width="13.9" height="3.0" fill="#6e70b2"/>
<path d="M1874.8,34.7V169.0H2193.1M1892.3,169.0v3M1910.0,169.0v3M1927.8,169.0v3M1945.3,169.0v3M1963.0,169.0v3M1980.8,169.0v3M1998.3,169.0v3M2016.1,169.0v3M2051.4,169.0v3M2068.9,169.0v3M2086.8,169.0v3M2122.2,169.0v3M2139.9,169.0v3M2157.7,169.0v3M2175.6,169.0v3M1874.8,169.0h-2.6M1874.8,135.7h-2.6M1874.8,102.3h-2.6M1874.8,69.0h-2.6M1874.8,35.3h-2.6" stroke="#757575" stroke-width="1" fill="none"/>
<g font-family="'Liberation Sans',sans-serif" fill="#222">
<text x="1869.5" y="171.9" font-size="8.2" text-anchor="end">0</text>
<text x="1869.5" y="138.6" font-size="8.2" text-anchor="end">50</text>
<text x="1869.5" y="105.2" font-size="8.2" text-anchor="end">100</text>
<text x="1869.5" y="71.9" font-size="8.2" text-anchor="end">150</text>
<text x="1869.5" y="38.2" font-size="8.2" text-anchor="end">200</text>
<text transform="translate(1851.0,101.7) rotate(-90)" font-size="12.4" text-anchor="middle">Fold Enrichment</text>
<rect x="1918.4" y="25.8" width="16.5" height="5.9" fill="#2c9f79"/>
<text x="1941.8" y="31.4" font-size="7.4">BP</text>
<rect x="2008.8" y="25.8" width="16.2" height="5.9" fill="#d4642a"/>
<text x="2032.3" y="31.4" font-size="7.4">CC</text>
<rect x="2093.7" y="25.8" width="16.2" height="5.9" fill="#6e70b2"/>
<text x="2117.1" y="31.4" font-size="7.4">MF</text>
</g>
<g font-family="'Liberation Sans',sans-serif" font-style="italic" font-size="10.4" text-anchor="end">
<text transform="translate(1890.7,175.3) rotate(-73)" fill="#2c9f79">positive regulation of estradiol secretion</text>
<text transform="translate(1908.3,175.3) rotate(-73)" fill="#2c9f79">androgen catabolic process</text>
<text transform="translate(1926.1,175.3) rotate(-73)" fill="#2c9f79">chitin catabolic process</text>
<text transform="translate(1943.6,175.3) rotate(-73)" fill="#2c9f79">regulation of epithelial cell proliferation</text>
<text transform="translate(1961.3,175.3) rotate(-73)" fill="#2c9f79">morphogenesis of an epithelium</text>
<text transform="translate(1979.1,175.3) rotate(-73)" fill="#2c9f79">G-protein coupled receptor signaling pathway</text>
<text transform="translate(1996.6,175.3) rotate(-73)" fill="#2c9f79">carbohydrate metabolic process</text>
<text transform="translate(2014.5,175.3) rotate(-73)" fill="#2c9f79">inflammatory response</text>
<text transform="translate(2049.8,175.3) rotate(-73)" fill="#d4642a">fascia adherens</text>
<text transform="translate(2067.3,175.3) rotate(-73)" fill="#d4642a">extracellular region</text>
<text transform="translate(2085.1,175.3) rotate(-73)" fill="#d4642a">extracellular space</text>
<text transform="translate(2120.6,175.3) rotate(-73)" fill="#6e70b2">chitin binding</text>
<text transform="translate(2138.3,175.3) rotate(-73)" fill="#6e70b2">chemokine activity</text>
<text transform="translate(2156.1,175.3) rotate(-73)" fill="#6e70b2">carbohydrate binding</text>
<text transform="translate(2173.9,175.3) rotate(-73)" fill="#6e70b2">actin filament binding</text>
</g>
<g font-family="'Liberation Serif',serif" font-weight="bold" font-size="21"><text x="1836" y="39.8">A</text></g>
<circle cx="2362.0" cy="180.1" r="112" fill="#efefef"/>
<g fill="none" stroke="#e6e6e6" stroke-width=".7"><circle cx="2362.0" cy="180.1" r="64"/><circle cx="2362.0" cy="180.1" r="76"/><circle cx="2362.0" cy="180.1" r="88"/><circle cx="2362.0" cy="180.1" r="100"/></g>
<path d="M2362.0,128.1L2362.0,67.3M2383.2,132.6L2407.9,77.1M2400.6,145.3L2445.8,104.6M2411.5,164.0L2469.3,145.2M2413.7,185.5L2474.2,191.9M2407.0,206.1L2459.7,236.5M2392.6,222.2L2428.3,271.4M2372.8,231.0L2385.5,290.4M2351.2,231.0L2338.5,290.4M2331.4,222.2L2295.7,271.4M2317.0,206.1L2264.3,236.5M2310.3,185.5L2249.8,191.9M2312.5,164.0L2254.7,145.2M2323.4,145.3L2278.2,104.6M2340.8,132.6L2316.1,77.1" stroke="#fff" stroke-width=".8"/>
<path d="M2362.9,25.4A154.7,154.7 0 0 1 2424.1,38.4L2420.7,46.1A146.3,146.3 0 0 0 2362.9,33.8Z" fill="#edc428"/>
<path d="M2362.7,39.8A140.3,140.3 0 0 1 2394.7,43.7L2392.8,51.7A132.0,132.0 0 0 0 2362.7,48.1Z" fill="#a6444c"/>
<path d="M2362.7,55.7A124.4,124.4 0 0 1 2383.5,57.6L2382.1,65.6A116.2,116.2 0 0 0 2362.6,63.9Z" fill="#e8141c"/>
<path d="M2362.3,127.1A53.0,53.0 0 0 1 2383.3,131.6L2383.0,132.3A52.2,52.2 0 0 0 2362.3,127.9Z" fill="#edc428"/>
<path d="M2425.8,39.2A154.7,154.7 0 0 1 2476.3,75.9L2470.1,81.5A146.3,146.3 0 0 0 2422.3,46.8Z" fill="#edc428"/>
<path d="M2419.7,52.2A140.3,140.3 0 0 1 2423.7,54.1L2420.1,61.6A132.0,132.0 0 0 0 2416.3,59.8Z" fill="#5e1626"/>
<path d="M2413.2,66.7A124.4,124.4 0 0 1 2420.7,70.4L2416.8,77.7A116.2,116.2 0 0 0 2409.8,74.2Z" fill="#e8141c"/>
<path d="M2406.3,81.9A107.7,107.7 0 0 1 2441.7,107.6L2400.6,145.0A52.2,52.2 0 0 0 2383.5,132.5Z" fill="#edc428"/>
<path d="M2477.6,77.3A154.7,154.7 0 0 1 2508.8,131.4L2500.9,134.0A146.3,146.3 0 0 0 2471.3,82.9Z" fill="#edc428"/>
<path d="M2466.8,86.8A140.3,140.3 0 0 1 2471.3,92.1L2464.8,97.3A132.0,132.0 0 0 0 2460.6,92.3Z" fill="#a2484f"/>
<path d="M2454.9,97.3A124.4,124.4 0 0 1 2460.2,103.8L2453.8,108.8A116.2,116.2 0 0 0 2448.8,102.8Z" fill="#e8141c"/>
<path d="M2429.4,120.1A90.3,90.3 0 0 1 2447.7,151.8L2411.6,163.7A52.2,52.2 0 0 0 2401.0,145.4Z" fill="#edc428"/>
<path d="M2509.4,133.2A154.7,154.7 0 0 1 2515.9,195.3L2507.6,194.5A146.3,146.3 0 0 0 2501.4,135.7Z" fill="#edc428"/>
<path d="M2495.7,137.4A140.3,140.3 0 0 1 2501.8,167.9L2493.5,168.6A132.0,132.0 0 0 0 2487.8,140.0Z" fill="#c5605a"/>
<path d="M2480.5,142.3A124.4,124.4 0 0 1 2484.5,158.5L2476.4,160.0A116.2,116.2 0 0 0 2472.7,144.8Z" fill="#e8141c"/>
<path d="M2412.9,163.9A53.4,53.4 0 0 1 2415.2,185.4L2413.9,185.3A52.2,52.2 0 0 0 2411.7,164.2Z" fill="#edc428"/>
<path d="M2515.8,197.2A154.7,154.7 0 0 1 2496.4,256.6L2489.1,252.5A146.3,146.3 0 0 0 2507.4,196.3Z" fill="#edc428"/>
<path d="M2501.5,195.5A140.3,140.3 0 0 1 2499.4,208.6L2491.2,206.9A132.0,132.0 0 0 0 2493.2,194.6Z" fill="#c1584f"/>
<path d="M2485.6,193.8A124.4,124.4 0 0 1 2484.4,202.0L2476.4,200.6A116.2,116.2 0 0 0 2477.5,192.9Z" fill="#e8141c"/>
<path d="M2428.9,187.5A67.3,67.3 0 0 1 2420.4,213.4L2407.3,206.0A52.2,52.2 0 0 0 2413.9,185.8Z" fill="#edc428"/>
<path d="M2495.5,258.3A154.7,154.7 0 0 1 2453.7,304.7L2448.7,297.9A146.3,146.3 0 0 0 2488.3,254.0Z" fill="#edc428"/>
<path d="M2483.1,250.9A140.3,140.3 0 0 1 2475.5,262.6L2468.8,257.7A132.0,132.0 0 0 0 2476.0,246.7Z" fill="#cd6a5f"/>
<path d="M2469.4,242.9A124.4,124.4 0 0 1 2464.9,250.0L2458.2,245.3A116.2,116.2 0 0 0 2462.3,238.7Z" fill="#e8141c"/>
<path d="M2417.1,212.3A63.9,63.9 0 0 1 2399.8,231.6L2392.9,222.2A52.2,52.2 0 0 0 2407.1,206.4Z" fill="#edc428"/>
<path d="M2452.2,305.8A154.7,154.7 0 0 1 2395.1,331.2L2393.3,323.0A146.3,146.3 0 0 0 2447.3,299.0Z" fill="#edc428"/>
<path d="M2443.9,294.0A140.3,140.3 0 0 1 2430.1,302.8L2426.0,295.5A132.0,132.0 0 0 0 2439.0,287.3Z" fill="#d06c60"/>
<path d="M2434.6,281.1A124.4,124.4 0 0 1 2427.6,285.8L2423.3,278.8A116.2,116.2 0 0 0 2429.8,274.5Z" fill="#e8141c"/>
<path d="M2398.1,230.4A61.9,61.9 0 0 1 2375.2,240.6L2373.1,231.1A52.2,52.2 0 0 0 2392.5,222.5Z" fill="#edc428"/>
<path d="M2393.2,331.6A154.7,154.7 0 0 1 2330.8,331.6L2332.5,323.4A146.3,146.3 0 0 0 2391.5,323.4Z" fill="#edc428"/>
<path d="M2390.5,317.5A140.3,140.3 0 0 1 2356.3,320.3L2356.6,312.0A132.0,132.0 0 0 0 2388.8,309.4Z" fill="#da7463"/>
<path d="M2387.2,301.9A124.4,124.4 0 0 1 2370.6,304.2L2370.1,296.0A116.2,116.2 0 0 0 2385.6,293.9Z" fill="#e8141c"/>
<path d="M2372.7,232.0A53.0,53.0 0 0 1 2351.3,232.0L2351.4,231.2A52.2,52.2 0 0 0 2372.6,231.2Z" fill="#edc428"/>
<path d="M2328.9,331.2A154.7,154.7 0 0 1 2271.8,305.8L2276.7,299.0A146.3,146.3 0 0 0 2330.7,323.0Z" fill="#5bb84c"/>
<path d="M2332.1,317.2A140.3,140.3 0 0 1 2293.0,302.3L2297.1,295.0A132.0,132.0 0 0 0 2333.9,309.1Z" fill="#b95050"/>
<path d="M2335.5,301.6A124.4,124.4 0 0 1 2296.8,286.1L2301.1,279.1A116.2,116.2 0 0 0 2337.2,293.6Z" fill="#e8141c"/>
<path d="M2350.8,231.7A52.8,52.8 0 0 1 2331.2,223.0L2331.5,222.5A52.2,52.2 0 0 0 2350.9,231.1Z" fill="#5bb84c"/>
<path d="M2270.3,304.7A154.7,154.7 0 0 1 2228.5,258.3L2235.7,254.0A146.3,146.3 0 0 0 2275.3,297.9Z" fill="#5bb84c"/>
<path d="M2278.9,293.2A140.3,140.3 0 0 1 2247.9,261.8L2254.7,257.0A132.0,132.0 0 0 0 2283.9,286.5Z" fill="#c55b56"/>
<path d="M2288.4,280.4A124.4,124.4 0 0 1 2254.9,243.3L2261.9,239.1A116.2,116.2 0 0 0 2293.2,273.7Z" fill="#e8141c"/>
<path d="M2330.7,222.6A52.8,52.8 0 0 1 2316.4,206.7L2316.9,206.4A52.2,52.2 0 0 0 2331.1,222.2Z" fill="#5bb84c"/>
<path d="M2227.6,256.6A154.7,154.7 0 0 1 2208.2,197.2L2216.6,196.3A146.3,146.3 0 0 0 2234.9,252.5Z" fill="#5bb84c"/>
<path d="M2240.1,249.6A140.3,140.3 0 0 1 2234.5,238.6L2242.0,235.1A132.0,132.0 0 0 0 2247.3,245.5Z" fill="#ca655c"/>
<path d="M2253.9,241.7A124.4,124.4 0 0 1 2250.0,234.3L2257.4,230.7A116.2,116.2 0 0 0 2261.1,237.7Z" fill="#e8141c"/>
<path d="M2301.7,214.5A69.4,69.4 0 0 1 2293.0,187.7L2310.1,185.8A52.2,52.2 0 0 0 2316.7,206.0Z" fill="#5bb84c"/>
<path d="M2208.1,195.3A154.7,154.7 0 0 1 2214.6,133.2L2222.6,135.7A146.3,146.3 0 0 0 2216.4,194.5Z" fill="#2b8fd6"/>
<path d="M2222.4,194.0A140.3,140.3 0 0 1 2223.0,160.8L2231.2,162.0A132.0,132.0 0 0 0 2230.7,193.2Z" fill="#a23c46"/>
<path d="M2238.2,192.5A124.4,124.4 0 0 1 2238.3,167.4L2246.4,168.2A116.2,116.2 0 0 0 2246.4,191.6Z" fill="#e8141c"/>
<path d="M2307.6,185.5A54.7,54.7 0 0 1 2309.9,163.5L2312.3,164.2A52.2,52.2 0 0 0 2310.1,185.3Z" fill="#2b8fd6"/>
<path d="M2215.2,131.4A154.7,154.7 0 0 1 2246.4,77.3L2252.7,82.9A146.3,146.3 0 0 0 2223.1,134.0Z" fill="#2b8fd6"/>
<path d="M2228.8,136.0A140.3,140.3 0 0 1 2238.7,113.2L2246.0,117.1A132.0,132.0 0 0 0 2236.7,138.7Z" fill="#c55f58"/>
<path d="M2243.9,141.0A124.4,124.4 0 0 1 2248.4,129.3L2255.9,132.7A116.2,116.2 0 0 0 2251.7,143.6Z" fill="#e8141c"/>
<path d="M2309.1,162.6A55.8,55.8 0 0 1 2320.4,143.0L2323.0,145.4A52.2,52.2 0 0 0 2312.4,163.7Z" fill="#2b8fd6"/>
<path d="M2247.7,75.9A154.7,154.7 0 0 1 2298.2,39.2L2301.7,46.8A146.3,146.3 0 0 0 2253.9,81.5Z" fill="#2b8fd6"/>
<path d="M2258.2,85.7A140.3,140.3 0 0 1 2269.1,74.9L2274.6,81.2A132.0,132.0 0 0 0 2264.4,91.3Z" fill="#ca685d"/>
<path d="M2270.0,96.4A124.4,124.4 0 0 1 2275.8,90.4L2281.5,96.3A116.2,116.2 0 0 0 2276.1,101.9Z" fill="#e8141c"/>
<path d="M2316.5,138.7A61.5,61.5 0 0 1 2336.7,124.0L2340.5,132.5A52.2,52.2 0 0 0 2323.4,145.0Z" fill="#2b8fd6"/>
<path d="M2299.9,38.4A154.7,154.7 0 0 1 2361.1,25.4L2361.1,33.8A146.3,146.3 0 0 0 2303.3,46.1Z" fill="#2b8fd6"/>
<path d="M2305.6,51.6A140.3,140.3 0 0 1 2337.2,42.0L2338.7,50.2A132.0,132.0 0 0 0 2308.9,59.2Z" fill="#d36b5d"/>
<path d="M2312.0,66.2A124.4,124.4 0 0 1 2327.8,60.5L2330.0,68.4A116.2,116.2 0 0 0 2315.3,73.7Z" fill="#e8141c"/>
<path d="M2340.6,131.4A53.2,53.2 0 0 1 2361.7,126.9L2361.7,127.9A52.2,52.2 0 0 0 2341.0,132.3Z" fill="#2b8fd6"/>
<circle cx="2362.0" cy="180.1" r="51.6" fill="#fff"/>
<path d="M2363.9,25.4L2363.9,23.6M2379.1,26.3L2379.3,24.6M2394.2,28.8L2394.5,27.0M2408.9,32.7L2409.5,31.0M2423.2,38.0L2423.9,36.4M2426.6,39.6L2427.4,37.9M2440.2,46.6L2441.1,45.0M2452.9,54.9L2454.0,53.5M2464.8,64.5L2466.0,63.2M2475.7,75.2L2477.0,74.0M2478.2,78.0L2479.6,76.8M2487.7,89.9L2489.2,88.9M2496.0,102.7L2497.5,101.8M2502.9,116.3L2504.6,115.6M2508.5,130.5L2510.2,129.9M2509.7,134.1L2511.4,133.6M2513.5,148.9L2515.3,148.5M2515.9,163.9L2517.6,163.7M2516.7,179.2L2518.5,179.1M2516.0,194.4L2517.8,194.6M2515.6,198.1L2517.4,198.4M2513.1,213.2L2514.9,213.6M2509.1,227.9L2510.8,228.5M2503.7,242.2L2505.4,242.9M2496.9,255.8L2498.5,256.7M2495.0,259.1L2496.6,260.0M2486.6,271.8L2488.0,272.9M2477.0,283.6L2478.3,284.8M2466.2,294.4L2467.4,295.8M2454.5,304.1L2455.5,305.6M2451.4,306.4L2452.4,307.8M2438.5,314.5L2439.4,316.1M2424.9,321.4L2425.7,323.1M2410.7,326.9L2411.3,328.6M2396.0,331.0L2396.4,332.8M2392.3,331.8L2392.7,333.6M2377.2,334.0L2377.4,335.8M2362.0,334.8L2362.0,336.6M2346.8,334.0L2346.6,335.8M2331.7,331.8L2331.3,333.6M2328.0,331.0L2327.6,332.8M2313.3,326.9L2312.7,328.6M2299.1,321.4L2298.3,323.1M2285.5,314.5L2284.6,316.1M2272.6,306.4L2271.6,307.8M2269.5,304.1L2268.5,305.6M2257.8,294.4L2256.6,295.8M2247.0,283.6L2245.7,284.8M2237.4,271.8L2236.0,272.9M2229.0,259.1L2227.4,260.0M2227.1,255.8L2225.5,256.7M2220.3,242.2L2218.6,242.9M2214.9,227.9L2213.2,228.5M2210.9,213.2L2209.1,213.6M2208.4,198.1L2206.6,198.4M2208.0,194.4L2206.2,194.6M2207.3,179.2L2205.5,179.1M2208.1,163.9L2206.4,163.7M2210.5,148.9L2208.7,148.5M2214.3,134.1L2212.6,133.6M2215.5,130.5L2213.8,129.9M2221.1,116.3L2219.4,115.6M2228.0,102.7L2226.5,101.8M2236.3,89.9L2234.8,88.9M2245.8,78.0L2244.4,76.8M2248.3,75.2L2247.0,74.0M2259.2,64.5L2258.0,63.2M2271.1,54.9L2270.0,53.5M2283.8,46.6L2282.9,45.0M2297.4,39.6L2296.6,37.9M2300.8,38.0L2300.1,36.4M2315.1,32.7L2314.5,31.0M2329.8,28.8L2329.5,27.0M2344.9,26.3L2344.7,24.6M2360.1,25.4L2360.1,23.6" stroke="#333" stroke-width=".5"/>
<g font-family="'Liberation Sans',sans-serif" font-size="5.8" fill="#222"><text transform="translate(2363.9,22.6) rotate(90.7)" y="2" text-anchor="end">0</text><text transform="translate(2379.4,23.6) rotate(96.3)" y="2" text-anchor="end">10</text><text transform="translate(2394.7,26.0) rotate(102.0)" y="2" text-anchor="end">100</text><text transform="translate(2409.8,30.0) rotate(107.7)" y="2" text-anchor="end">1000</text><text transform="translate(2424.3,35.4) rotate(113.3)" y="2" text-anchor="end">10000</text><text transform="translate(2427.8,37.0) rotate(114.7)" y="2" text-anchor="end">0</text><text transform="translate(2441.6,44.2) rotate(120.3)" y="2" text-anchor="end">10</text><text transform="translate(2454.6,52.7) rotate(126.0)" y="2" text-anchor="end">100</text><text transform="translate(2466.7,62.4) rotate(131.7)" y="2" text-anchor="end">1000</text><text transform="translate(2477.7,73.3) rotate(137.3)" y="2" text-anchor="end">10000</text><text transform="translate(2480.3,76.1) rotate(138.7)" y="2" text-anchor="end">0</text><text transform="translate(2490.0,88.3) rotate(144.3)" y="2" text-anchor="end">10</text><text transform="translate(2498.4,101.3) rotate(150.0)" y="2" text-anchor="end">100</text><text transform="translate(2505.5,115.2) rotate(155.7)" y="2" text-anchor="end">1000</text><text transform="translate(2511.2,129.6) rotate(161.3)" y="2" text-anchor="end">10000</text><text transform="translate(2512.4,133.3) rotate(162.7)" y="2" text-anchor="end">0</text><text transform="translate(2516.3,148.3) rotate(168.4)" y="2" text-anchor="end">10</text><text transform="translate(2518.6,163.6) rotate(174.0)" y="2" text-anchor="end">100</text><text transform="translate(2519.5,179.1) rotate(179.7)" y="2" text-anchor="end">1000</text><text transform="translate(2518.8,194.6) rotate(185.3)" y="2" text-anchor="end">10000</text><text transform="translate(2518.4,198.5) rotate(186.7)" y="2" text-anchor="end">0</text><text transform="translate(2515.9,213.8) rotate(192.4)" y="2" text-anchor="end">10</text><text transform="translate(2511.8,228.8) rotate(198.0)" y="2" text-anchor="end">100</text><text transform="translate(2506.3,243.3) rotate(203.7)" y="2" text-anchor="end">1000</text><text transform="translate(2499.4,257.2) rotate(209.3)" y="2" text-anchor="end">10000</text><text transform="translate(2497.4,260.5) rotate(210.7)" y="2" text-anchor="end">0</text><text transform="translate(2488.9,273.5) rotate(216.4)" y="2" text-anchor="end">10</text><text transform="translate(2479.0,285.5) rotate(222.0)" y="2" text-anchor="end">100</text><text transform="translate(2468.1,296.5) rotate(227.7)" y="2" text-anchor="end">1000</text><text transform="translate(2456.1,306.4) rotate(233.3)" y="2" text-anchor="end">10000</text><text transform="translate(2453.0,308.6) rotate(234.7)" y="2" text-anchor="end">0</text><text transform="translate(2439.9,317.0) rotate(240.3)" y="2" text-anchor="end">10</text><text transform="translate(2426.1,324.0) rotate(246.0)" y="2" text-anchor="end">100</text><text transform="translate(2411.6,329.6) rotate(251.6)" y="2" text-anchor="end">1000</text><text transform="translate(2396.6,333.7) rotate(257.3)" y="2" text-anchor="end">10000</text><text transform="translate(2392.9,334.5) rotate(258.7)" y="2" text-anchor="end">0</text><text transform="translate(2377.5,336.8) rotate(264.4)" y="2" text-anchor="end">10</text><text transform="translate(2362.0,337.6) rotate(270.0)" y="2" text-anchor="end">100</text><text transform="translate(2346.5,336.8) rotate(275.6)" y="2" text-anchor="end">1000</text><text transform="translate(2331.1,334.5) rotate(281.3)" y="2" text-anchor="end">10000</text><text transform="translate(2327.4,333.7) rotate(282.7)" y="2" text-anchor="end">0</text><text transform="translate(2312.4,329.6) rotate(288.4)" y="2" text-anchor="end">10</text><text transform="translate(2297.9,324.0) rotate(294.0)" y="2" text-anchor="end">100</text><text transform="translate(2284.1,317.0) rotate(299.6)" y="2" text-anchor="end">1000</text><text transform="translate(2271.0,308.6) rotate(305.3)" y="2" text-anchor="end">10000</text><text transform="translate(2267.9,306.4) rotate(306.7)" y="2" text-anchor="end">0</text><text transform="translate(2255.9,296.5) rotate(312.4)" y="2" text-anchor="end">10</text><text transform="translate(2245.0,285.5) rotate(318.0)" y="2" text-anchor="end">100</text><text transform="translate(2235.1,273.5) rotate(323.6)" y="2" text-anchor="end">1000</text><text transform="translate(2226.6,260.5) rotate(329.3)" y="2" text-anchor="end">10000</text><text transform="translate(2224.6,257.2) rotate(330.7)" y="2" text-anchor="end">0</text><text transform="translate(2217.7,243.3) rotate(336.4)" y="2" text-anchor="end">10</text><text transform="translate(2212.2,228.8) rotate(342.0)" y="2" text-anchor="end">100</text><text transform="translate(2208.1,213.8) rotate(347.6)" y="2" text-anchor="end">1000</text><text transform="translate(2205.6,198.5) rotate(353.3)" y="2" text-anchor="end">10000</text><text transform="translate(2205.2,194.6) rotate(354.7)" y="2" text-anchor="end">0</text><text transform="translate(2204.5,179.1) rotate(360.3)" y="2" text-anchor="end">10</text><text transform="translate(2205.4,163.6) rotate(366.0)" y="2" text-anchor="end">100</text><text transform="translate(2207.7,148.3) rotate(371.6)" y="2" text-anchor="end">1000</text><text transform="translate(2211.6,133.3) rotate(377.3)" y="2" text-anchor="end">10000</text><text transform="translate(2212.8,129.6) rotate(378.7)" y="2" text-anchor="end">0</text><text transform="translate(2218.5,115.2) rotate(384.3)" y="2" text-anchor="end">10</text><text transform="translate(2225.6,101.3) rotate(390.0)" y="2" text-anchor="end">100</text><text transform="translate(2234.0,88.3) rotate(395.6)" y="2" text-anchor="end">1000</text><text transform="translate(2243.7,76.1) rotate(401.3)" y="2" text-anchor="end">10000</text><text transform="translate(2246.3,73.3) rotate(402.7)" y="2" text-anchor="end">0</text><text transform="translate(2257.3,62.4) rotate(408.3)" y="2" text-anchor="end">10</text><text transform="translate(2269.4,52.7) rotate(414.0)" y="2" text-anchor="end">100</text><text transform="translate(2282.4,44.2) rotate(419.6)" y="2" text-anchor="end">1000</text><text transform="translate(2296.2,37.0) rotate(425.3)" y="2" text-anchor="end">10000</text><text transform="translate(2299.7,35.4) rotate(426.7)" y="2" text-anchor="end">0</text><text transform="translate(2314.2,30.0) rotate(432.3)" y="2" text-anchor="end">10</text><text transform="translate(2329.3,26.0) rotate(438.0)" y="2" text-anchor="end">100</text><text transform="translate(2344.6,23.6) rotate(443.6)" y="2" text-anchor="end">1000</text><text transform="translate(2360.1,22.6) rotate(449.3)" y="2" text-anchor="end">10000</text></g>
<defs><path id="cp" d="M2362.0,32.19999999999999A147.9,147.9 0 1 1 2361.99,32.19999999999999"/><path id="cp2" d="M2362.0,46.79999999999998A133.3,133.3 0 1 1 2361.99,46.79999999999998"/><path id="cp3" d="M2362.0,61.89999999999999A118.2,118.2 0 1 1 2361.99,61.89999999999999"/></defs>
<g font-family="'Liberation Sans',sans-serif" font-size="8.6" fill="#111" text-anchor="middle" stroke="#111" stroke-width=".2">
<text><textPath href="#cp" startOffset="3.33%">GO:0007186</textPath></text>
<text><textPath href="#cp" startOffset="10.00%">GO:2000866</textPath></text>
<text><textPath href="#cp" startOffset="16.67%">GO:0006710</textPath></text>
<text><textPath href="#cp" startOffset="23.33%">GO:0005975</textPath></text>
<text><textPath href="#cp" startOffset="30.00%">GO:0006032</textPath></text>
<text><textPath href="#cp" startOffset="36.67%">GO:0050678</textPath></text>
<text><textPath href="#cp" startOffset="43.33%">GO:0002009</textPath></text>
<text><textPath href="#cp" startOffset="50.00%">GO:0006954</textPath></text>
<text><textPath href="#cp" startOffset="56.67%">GO:0005576</textPath></text>
<text><textPath href="#cp" startOffset="63.33%">GO:0005615</textPath></text>
<text><textPath href="#cp" startOffset="70.00%">GO:0005916</textPath></text>
<text><textPath href="#cp" startOffset="76.67%">GO:0030246</textPath></text>
<text><textPath href="#cp" startOffset="83.33%">GO:0008009</textPath></text>
<text><textPath href="#cp" startOffset="90.00%">GO:0008061</textPath></text>
<text><textPath href="#cp" startOffset="96.67%">GO:0051015</textPath></text>
</g>
<g font-family="'Liberation Sans',sans-serif" font-size="8.2" fill="#111" text-anchor="middle" stroke="#111" stroke-width=".15">
<text><textPath href="#cp2" startOffset="1.91%">157</textPath></text>
<text><textPath href="#cp3" startOffset="1.42%">5</textPath></text>
<text><textPath href="#cp2" startOffset="7.00%">2</textPath></text>
<text><textPath href="#cp3" startOffset="7.29%">2</textPath></text>
<text><textPath href="#cp2" startOffset="13.81%">3</textPath></text>
<text><textPath href="#cp3" startOffset="13.95%">2</textPath></text>
<text><textPath href="#cp2" startOffset="21.85%">132</textPath></text>
<text><textPath href="#cp3" startOffset="21.16%">4</textPath></text>
<text><textPath href="#cp2" startOffset="27.50%">8</textPath></text>
<text><textPath href="#cp3" startOffset="27.29%">2</textPath></text>
<text><textPath href="#cp2" startOffset="34.21%">9</textPath></text>
<text><textPath href="#cp3" startOffset="33.95%">2</textPath></text>
<text><textPath href="#cp2" startOffset="41.01%">13</textPath></text>
<text><textPath href="#cp3" startOffset="40.62%">2</textPath></text>
<text><textPath href="#cp2" startOffset="48.70%">219</textPath></text>
<text><textPath href="#cp3" startOffset="47.82%">4</textPath></text>
<text><textPath href="#cp2" startOffset="55.80%">721</textPath></text>
<text><textPath href="#cp3" startOffset="56.10%">10</textPath></text>
<text><textPath href="#cp2" startOffset="62.60%">1034</textPath></text>
<text><textPath href="#cp3" startOffset="63.30%">12</textPath></text>
<text><textPath href="#cp2" startOffset="67.45%">7</textPath></text>
<text><textPath href="#cp3" startOffset="67.29%">2</textPath></text>
<text><textPath href="#cp2" startOffset="75.30%">184</textPath></text>
<text><textPath href="#cp3" startOffset="75.03%">6</textPath></text>
<text><textPath href="#cp2" startOffset="81.50%">50</textPath></text>
<text><textPath href="#cp3" startOffset="80.89%">3</textPath></text>
<text><textPath href="#cp2" startOffset="87.62%">11</textPath></text>
<text><textPath href="#cp3" startOffset="87.29%">2</textPath></text>
<text><textPath href="#cp2" startOffset="95.30%">180</textPath></text>
<text><textPath href="#cp3" startOffset="94.49%">4</textPath></text>
</g>
<g font-family="'Liberation Sans',sans-serif" font-size="5.9" fill="#1a1a1a">
<rect x="2347.9" y="142.2" width="7" height="6.2" fill="#edc428"/><text x="2357.1" y="147.5">BP</text>
<rect x="2347.9" y="149.4" width="7" height="6.2" fill="#5bb84c"/><text x="2357.1" y="154.7">CC</text>
<rect x="2347.9" y="156.4" width="7" height="6.2" fill="#2b8fd6"/><text x="2357.1" y="161.8">MF</text>
<text x="2347.5" y="172.8">−log10(pvalue)</text>
<defs><linearGradient id="cg" x1="0" y1="0" x2="0" y2="1"><stop offset="0" stop-color="#7a1c36"/><stop offset="1" stop-color="#f3957c"/></linearGradient></defs>
<rect x="2347.9" y="176.2" width="7" height="30.7" fill="url(#cg)"/>
<text x="2357.1" y="180.1">4</text>
<text x="2357.1" y="187.1">3</text>
<text x="2357.1" y="194.1">2</text>
<text x="2357.1" y="201.1">1</text>
<text x="2357.1" y="208.2">0</text>
<rect x="2347.9" y="213.9" width="7" height="6.4" fill="#e8141c"/><text x="2357.1" y="218.8">regulated</text>
</g>
<text x="2225.5" y="38.6" font-family="'Liberation Serif',serif" font-weight="bold" font-size="21">B</text>
<path d="M2539.4,0V651" stroke="#cfcfcf" stroke-width="1"/>
<rect x="2052.8" y="377.1" width="92.4" height="125.8" fill="#fff" stroke="#8c8c8c" stroke-width=".7"/>
<path d="M2055.4,377.1V502.9M2076.5,377.1V502.9M2097.6,377.1V502.9M2118.8,377.1V502.9M2139.9,377.1V502.9M2066.0,377.1V502.9M2087.1,377.1V502.9M2108.2,377.1V502.9M2129.3,377.1V502.9M2052.8,386.3H2145.2M2052.8,401.8H2145.2M2052.8,417.3H2145.2M2052.8,432.5H2145.2M2052.8,448.1H2145.2M2052.8,463.2H2145.2M2052.8,478.8H2145.2M2052.8,494.3H2145.2" stroke="#ececec" stroke-width=".6" fill="none"/>
<rect x="2145.2" y="377.1" width="11.6" height="125.8" fill="#d9d9d9" stroke="#7a7a7a" stroke-width=".7"/>
<text transform="translate(2146.8,440.0) rotate(90)" font-family="'Liberation Sans',sans-serif" font-size="10" fill="#1a1a1a" text-anchor="middle">BP</text>
<rect x="2052.8" y="506.8" width="92.4" height="49.5" fill="#fff" stroke="#8c8c8c" stroke-width=".7"/>
<path d="M2055.4,506.8V556.3M2076.5,506.8V556.3M2097.6,506.8V556.3M2118.8,506.8V556.3M2139.9,506.8V556.3M2066.0,506.8V556.3M2087.1,506.8V556.3M2108.2,506.8V556.3M2129.3,506.8V556.3M2052.8,516.1H2145.2M2052.8,531.6H2145.2M2052.8,547.1H2145.2" stroke="#ececec" stroke-width=".6" fill="none"/>
<rect x="2145.2" y="506.8" width="11.6" height="49.5" fill="#d9d9d9" stroke="#7a7a7a" stroke-width=".7"/>
<text transform="translate(2146.8,531.6) rotate(90)" font-family="'Liberation Sans',sans-serif" font-size="10" fill="#1a1a1a" text-anchor="middle">CC</text>
<rect x="2052.8" y="560.3" width="92.4" height="63.7" fill="#fff" stroke="#8c8c8c" stroke-width=".7"/>
<path d="M2055.4,560.3V624.0M2076.5,560.3V624.0M2097.6,560.3V624.0M2118.8,560.3V624.0M2139.9,560.3V624.0M2066.0,560.3V624.0M2087.1,560.3V624.0M2108.2,560.3V624.0M2129.3,560.3V624.0M2052.8,568.9H2145.2M2052.8,584.4H2145.2M2052.8,599.9H2145.2M2052.8,615.4H2145.2" stroke="#ececec" stroke-width=".6" fill="none"/>
<rect x="2145.2" y="560.3" width="11.6" height="63.7" fill="#d9d9d9" stroke="#7a7a7a" stroke-width=".7"/>
<text transform="translate(2146.8,592.2) rotate(90)" font-family="'Liberation Sans',sans-serif" font-size="10" fill="#1a1a1a" text-anchor="middle">MF</text>
<path d="M2052.8,386.3h-2M2052.8,401.8h-2M2052.8,417.3h-2M2052.8,432.5h-2M2052.8,448.1h-2M2052.8,463.2h-2M2052.8,478.8h-2M2052.8,494.3h-2M2052.8,516.1h-2M2052.8,531.6h-2M2052.8,547.1h-2M2052.8,568.9h-2M2052.8,584.4h-2M2052.8,599.9h-2M2052.8,615.4h-2M2055.4,624.0v2M2076.5,624.0v2M2097.6,624.0v2M2118.8,624.0v2M2139.9,624.0v2" stroke="#555" stroke-width=".6"/>
<g font-family="'Liberation Sans',sans-serif" font-size="10.25" fill="#1a1a1a" text-anchor="end">
<text x="2048.8" y="389.8">G−protein coupled receptor signaling pathway</text>
<text x="2048.8" y="405.3">positive regulation of estradiol secretion</text>
<text x="2048.8" y="420.8">androgen catabolic process</text>
<text x="2048.8" y="436.0">carbohydrate metabolic process</text>
<text x="2048.8" y="451.6">chitin catabolic process</text>
<text x="2048.8" y="466.7">regulation of epithelial cell proliferation</text>
<text x="2048.8" y="482.3">morphogenesis of an epithelium</text>
<text x="2048.8" y="497.8">inflammatory response</text>
<text x="2048.8" y="519.6">extracellular region</text>
<text x="2048.8" y="535.1">extracellular space</text>
<text x="2048.8" y="550.6">fascia adherens</text>
<text x="2048.8" y="572.4">carbohydrate binding</text>
<text x="2048.8" y="587.9">chemokine activity</text>
<text x="2048.8" y="603.4">chitin binding</text>
<text x="2048.8" y="618.9">actin filament binding</text>
</g>
<g font-family="'Liberation Sans',sans-serif" font-size="9.9" fill="#2a2a2a" text-anchor="middle">
<text x="2055.4" y="635.9">0</text>
<text x="2076.5" y="635.9">50</text>
<text x="2097.6" y="635.9">100</text>
<text x="2118.8" y="635.9">150</text>
<text x="2139.9" y="635.9">200</text>
<text x="2099.0" y="646.8" font-size="10.2" fill="#1a1a1a">Fold Enrichment</text>
</g>
<circle cx="2057.7" cy="386.3" r="3.6" fill="#e0801e"/>
<circle cx="2140.6" cy="401.8" r="1.0" fill="#d98b1e"/>
<circle cx="2112.2" cy="417.3" r="1.0" fill="#d99a1e"/>
<circle cx="2057.7" cy="432.5" r="3.3" fill="#a5c52a"/>
<circle cx="2076.9" cy="448.1" r="1.0" fill="#7fc436"/>
<circle cx="2074.2" cy="463.2" r="1.2" fill="#7fc436"/>
<circle cx="2068.3" cy="478.8" r="1.0" fill="#7fc436"/>
<circle cx="2056.7" cy="494.3" r="3.0" fill="#6fc23c"/>
<circle cx="2056.1" cy="516.1" r="4.6" fill="#d69a1e"/>
<circle cx="2056.1" cy="531.6" r="5.0" fill="#c9a81f"/>
<circle cx="2078.2" cy="547.1" r="1.2" fill="#9acb30"/>
<circle cx="2057.7" cy="568.9" r="3.6" fill="#e8232a"/>
<circle cx="2060.0" cy="584.4" r="2.3" fill="#a9c62a"/>
<circle cx="2069.9" cy="599.9" r="1.2" fill="#7fc436"/>
<circle cx="2056.7" cy="615.4" r="3.0" fill="#6fc23c"/>
<defs><linearGradient id="dg" x1="0" y1="0" x2="0" y2="1"><stop offset="0" stop-color="#ee2a2a"/><stop offset=".3" stop-color="#de7a1c"/><stop offset=".6" stop-color="#c4ae22"/><stop offset="1" stop-color="#62c23c"/></linearGradient></defs>
<rect x="2167.6" y="428.2" width="12.2" height="59.4" fill="url(#dg)"/>
<g font-family="'Liberation Sans',sans-serif" font-size="8.6" fill="#1a1a1a">
<text x="2184.5" y="434.5">2.5</text>
<text x="2184.5" y="453.7">2.0</text>
<text x="2184.5" y="472.8">1.5</text>
<text transform="translate(2202.3,451.4) rotate(90)" font-size="9.6" text-anchor="middle">−log10(pvalue)</text>
<text x="2167.6" y="510.8" font-size="9.8">count</text>
<circle cx="2173.6" cy="523.0" r="0.8" fill="#000"/><text x="2184.5" y="526.0">2</text>
<circle cx="2173.6" cy="534.9" r="2.0" fill="#000"/><text x="2184.5" y="537.9">4</text>
<circle cx="2173.6" cy="546.8" r="2.6" fill="#000"/><text x="2184.5" y="549.8">6</text>
<circle cx="2173.6" cy="558.6" r="3.3" fill="#000"/><text x="2184.5" y="561.6">8</text>
<circle cx="2173.6" cy="570.5" r="4.0" fill="#000"/><text x="2184.5" y="573.5">10</text>
<circle cx="2173.6" cy="582.4" r="4.5" fill="#000"/><text x="2184.5" y="585.4">12</text>
</g>
<rect x="2332.7" y="374.8" width="125.1" height="250.2" fill="#fff" stroke="#c4c4c4" stroke-width=".8"/>
<path d="M2338.7,374.8V625.0M2354.2,374.8V625.0M2369.7,374.8V625.0M2385.2,374.8V625.0M2401.0,374.8V625.0M2416.6,374.8V625.0M2432.1,374.8V625.0M2447.6,374.8V625.0M2332.7,500.2H2457.8" stroke="#ececec" stroke-width=".6" fill="none"/>
<circle cx="2395.1" cy="500.2" r="4.0" fill="#c9a81f"/>
<g font-family="'Liberation Sans',sans-serif" font-size="9.9" fill="#2a2a2a" text-anchor="middle">
<text x="2338.7" y="635.9">7.300</text>
<text x="2369.7" y="635.9">7.325</text>
<text x="2401.0" y="635.9">7.350</text>
<text x="2432.1" y="635.9">7.375</text>
<text x="2395.1" y="647.1" font-size="10.2" fill="#1a1a1a">Fold Enrichment</text>
</g>
<path d="M2332.7,500.2h-2" stroke="#555" stroke-width=".6"/>
<g font-family="'Liberation Sans',sans-serif" fill="#1a1a1a">
<text x="2329.4" y="503.7" font-size="10.25" text-anchor="end">ECM−receptor interaction</text>
<text x="2468.7" y="450.4" font-size="9.8">−log10(pvalue)</text>
<rect x="2468.7" y="456.6" width="12.2" height="60.1" fill="#c9a81f"/>
<text x="2486.2" y="489.8" font-size="8">1.793041</text>
<text x="2468.7" y="540.5" font-size="9.8">count</text>
<circle cx="2474.3" cy="552.4" r="3.6" fill="#000"/><text x="2486.2" y="555.4" font-size="8.6">4</text>
</g>
<g font-family="'Liberation Serif',serif" font-weight="bold" font-size="21"><text x="1836" y="419.5">C</text><text x="2225.5" y="419.5">D</text></g>
</svg>
</body></html>
